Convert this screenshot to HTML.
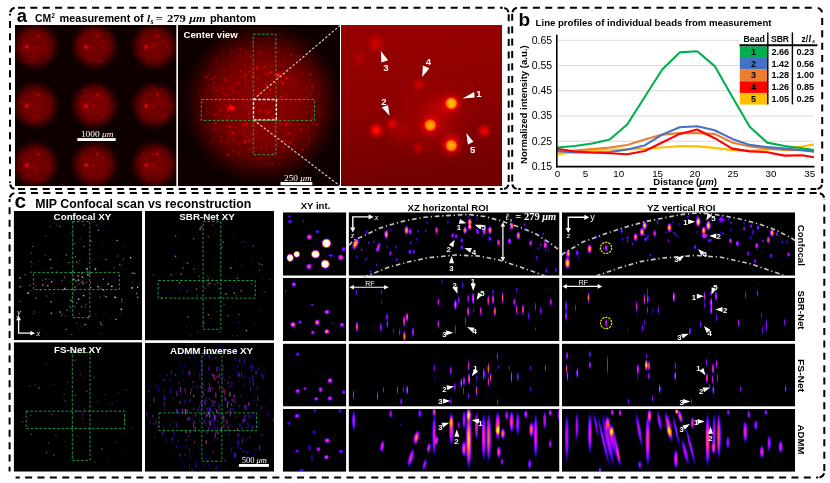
<!DOCTYPE html><html><head><meta charset="utf-8"><title>Figure</title>
<style>html,body{margin:0;padding:0;background:#fff;overflow:hidden;width:830px;height:483px;}svg{display:block;}</style></head><body>
<svg width="830" height="483" viewBox="0 0 830 483">
<defs>
<filter id="cmG" color-interpolation-filters="sRGB" x="0" y="0" width="1" height="1"><feComponentTransfer><feFuncR type="table" tableValues="0 0.01 0.02 0.02 0.03 0.06 0.08 0.11 0.13 0.16 0.21 0.26 0.31 0.36 0.41 0.46 0.51 0.55 0.6 0.65 0.69 0.73 0.76 0.8 0.84 0.87 0.89 0.91 0.94 0.96 0.97 0.98 0.98 0.99 1 1 1 1 1 1 1 1 1 1 1 1 1 1 1 1 1"/><feFuncG type="table" tableValues="0 0 0 0 0 0 0 0 0 0 0 0 0 0 0 0 0.01 0.01 0.02 0.02 0.03 0.04 0.05 0.07 0.08 0.1 0.12 0.14 0.16 0.18 0.22 0.26 0.31 0.35 0.39 0.44 0.49 0.55 0.6 0.65 0.7 0.75 0.8 0.84 0.89 0.92 0.94 0.97 0.98 0.99 1"/><feFuncB type="table" tableValues="0 0.05 0.1 0.15 0.2 0.28 0.37 0.45 0.54 0.63 0.69 0.75 0.82 0.88 0.94 0.94 0.94 0.94 0.94 0.94 0.91 0.89 0.86 0.83 0.8 0.74 0.67 0.6 0.54 0.47 0.41 0.35 0.29 0.24 0.18 0.16 0.14 0.12 0.1 0.08 0.09 0.09 0.1 0.11 0.12 0.25 0.39 0.52 0.67 0.84 1"/></feComponentTransfer></filter>
<filter id="cmH" color-interpolation-filters="sRGB" x="0" y="0" width="1" height="1"><feComponentTransfer><feFuncR type="table" tableValues="0 0.05 0.11 0.16 0.22 0.27 0.33 0.38 0.44 0.49 0.55 0.6 0.66 0.71 0.77 0.82 0.88 0.93 0.99 1 1 1 1 1 1 1 1 1 1 1 1 1 1 1 1 1 1 1 1 1 1 1 1 1 1 1 1 1 1 1 1"/><feFuncG type="table" tableValues="0 0 0 0 0 0 0 0 0 0 0 0 0 0 0 0 0 0 0 0.04 0.09 0.14 0.2 0.25 0.3 0.35 0.41 0.46 0.51 0.56 0.62 0.67 0.72 0.77 0.83 0.88 0.93 0.98 1 1 1 1 1 1 1 1 1 1 1 1 1"/><feFuncB type="table" tableValues="0 0 0 0 0 0 0 0 0 0 0 0 0 0 0 0 0 0 0 0 0 0 0 0 0 0 0 0 0 0 0 0 0 0 0 0 0 0 0.06 0.13 0.21 0.29 0.37 0.45 0.53 0.61 0.69 0.76 0.84 0.92 1"/></feComponentTransfer></filter>
<radialGradient id="gb"><stop offset="0" stop-color="#fff" stop-opacity="1"/><stop offset="0.2" stop-color="#fff" stop-opacity="0.95"/><stop offset="0.45" stop-color="#fff" stop-opacity="0.72"/><stop offset="0.7" stop-color="#fff" stop-opacity="0.36"/><stop offset="0.85" stop-color="#fff" stop-opacity="0.12"/><stop offset="1" stop-color="#fff" stop-opacity="0"/></radialGradient>
<radialGradient id="gd"><stop offset="0" stop-color="#fff" stop-opacity="1"/><stop offset="0.45" stop-color="#fff" stop-opacity="0.93"/><stop offset="0.65" stop-color="#fff" stop-opacity="0.72"/><stop offset="0.82" stop-color="#fff" stop-opacity="0.32"/><stop offset="1" stop-color="#fff" stop-opacity="0"/></radialGradient>
<radialGradient id="gbig"><stop offset="0" stop-color="#fff" stop-opacity="1"/><stop offset="0.45" stop-color="#fff" stop-opacity="0.9"/><stop offset="0.65" stop-color="#fff" stop-opacity="0.66"/><stop offset="0.8" stop-color="#fff" stop-opacity="0.36"/><stop offset="0.92" stop-color="#fff" stop-opacity="0.1"/><stop offset="1" stop-color="#fff" stop-opacity="0"/></radialGradient>
<linearGradient id="bgR" x1="0" y1="0" x2="0.15" y2="1"><stop offset="0" stop-color="#383838"/><stop offset="0.45" stop-color="#353535"/><stop offset="1" stop-color="#2a2a2a"/></linearGradient>
<radialGradient id="gf"><stop offset="0" stop-color="#fff" stop-opacity="1"/><stop offset="0.62" stop-color="#fff" stop-opacity="1"/><stop offset="0.76" stop-color="#fff" stop-opacity="0.62"/><stop offset="0.88" stop-color="#fff" stop-opacity="0.28"/><stop offset="1" stop-color="#fff" stop-opacity="0"/></radialGradient>
<radialGradient id="gs"><stop offset="0" stop-color="#fff" stop-opacity="1"/><stop offset="0.25" stop-color="#fff" stop-opacity="0.85"/><stop offset="0.5" stop-color="#fff" stop-opacity="0.45"/><stop offset="0.75" stop-color="#fff" stop-opacity="0.13"/><stop offset="1" stop-color="#fff" stop-opacity="0"/></radialGradient>
</defs>
<rect width="830" height="483" fill="#fff"/>
<line x1="16.00" y1="7.7" x2="502.70" y2="7.7" fill="none" stroke="#000" stroke-width="2" stroke-dasharray="7.0 5.36" stroke-dashoffset="10.36"/>
<line x1="16.00" y1="189.1" x2="502.70" y2="189.1" fill="none" stroke="#000" stroke-width="2" stroke-dasharray="7.0 5.36" stroke-dashoffset="10.42"/>
<line x1="10" y1="13.70" x2="10" y2="183.10" fill="none" stroke="#000" stroke-width="2" stroke-dasharray="7.0 5.36" stroke-dashoffset="5.16"/>
<line x1="508.7" y1="13.70" x2="508.7" y2="183.10" fill="none" stroke="#000" stroke-width="2" stroke-dasharray="7.0 5.36" stroke-dashoffset="11.76"/>
<path d="M10,13.7 A6,6 0 0 1 16,7.7" fill="none" stroke="#000" stroke-width="2" stroke-dasharray="0 1.6 6.2 20"/>
<path d="M502.7,7.7 A6,6 0 0 1 508.7,13.7" fill="none" stroke="#000" stroke-width="2" stroke-dasharray="0 1.6 6.2 20"/>
<path d="M508.7,183.1 A6,6 0 0 1 502.7,189.1" fill="none" stroke="#000" stroke-width="2" stroke-dasharray="0 1.6 6.2 20"/>
<path d="M16,189.1 A6,6 0 0 1 10,183.1" fill="none" stroke="#000" stroke-width="2" stroke-dasharray="0 1.6 6.2 20"/>
<line x1="518.20" y1="7.7" x2="816.20" y2="7.7" fill="none" stroke="#000" stroke-width="2" stroke-dasharray="7.0 5.36" stroke-dashoffset="10.06"/>
<line x1="518.20" y1="189.1" x2="816.20" y2="189.1" fill="none" stroke="#000" stroke-width="2" stroke-dasharray="7.0 5.36" stroke-dashoffset="4.38"/>
<line x1="512.2" y1="13.70" x2="512.2" y2="183.10" fill="none" stroke="#000" stroke-width="2" stroke-dasharray="7.0 5.36" stroke-dashoffset="12.22"/>
<line x1="822.2" y1="13.70" x2="822.2" y2="183.10" fill="none" stroke="#000" stroke-width="2" stroke-dasharray="7.0 5.36" stroke-dashoffset="8.06"/>
<path d="M512.2,13.7 A6,6 0 0 1 518.2,7.7" fill="none" stroke="#000" stroke-width="2" stroke-dasharray="0 1.6 6.2 20"/>
<path d="M816.2,7.7 A6,6 0 0 1 822.2,13.7" fill="none" stroke="#000" stroke-width="2" stroke-dasharray="0 1.6 6.2 20"/>
<path d="M822.2,183.1 A6,6 0 0 1 816.2,189.1" fill="none" stroke="#000" stroke-width="2" stroke-dasharray="0 1.6 6.2 20"/>
<path d="M518.2,189.1 A6,6 0 0 1 512.2,183.1" fill="none" stroke="#000" stroke-width="2" stroke-dasharray="0 1.6 6.2 20"/>
<line x1="15.60" y1="193.0" x2="818.30" y2="193.0" fill="none" stroke="#000" stroke-width="2" stroke-dasharray="7.0 5.36" stroke-dashoffset="9.32"/>
<line x1="15.60" y1="477.6" x2="818.30" y2="477.6" fill="none" stroke="#000" stroke-width="2" stroke-dasharray="7.0 5.36" stroke-dashoffset="2.82"/>
<line x1="9.6" y1="199.00" x2="9.6" y2="471.60" fill="none" stroke="#000" stroke-width="2" stroke-dasharray="7.0 5.36" stroke-dashoffset="4.06"/>
<line x1="824.3" y1="199.00" x2="824.3" y2="471.60" fill="none" stroke="#000" stroke-width="2" stroke-dasharray="7.0 5.36" stroke-dashoffset="6.86"/>
<path d="M9.6,199.0 A6,6 0 0 1 15.6,193.0" fill="none" stroke="#000" stroke-width="2" stroke-dasharray="0 1.6 6.2 20"/>
<path d="M818.3,193.0 A6,6 0 0 1 824.3,199.0" fill="none" stroke="#000" stroke-width="2" stroke-dasharray="0 1.6 6.2 20"/>
<path d="M824.3,471.6 A6,6 0 0 1 818.3,477.6" fill="none" stroke="#000" stroke-width="2" stroke-dasharray="0 1.6 6.2 20"/>
<clipPath id="cpa1"><rect x="15" y="25" width="161.6" height="161.2"/></clipPath>
<g clip-path="url(#cpa1)"><g filter="url(#cmH)">
<rect x="15" y="25" width="161.6" height="161.2" fill="#060606"/>
<ellipse cx="35.3" cy="46.3" rx="25" ry="25" fill="url(#gd)" fill-opacity="0.15"/>
<ellipse cx="94.6" cy="46.3" rx="25" ry="25" fill="url(#gd)" fill-opacity="0.15"/>
<ellipse cx="154.6" cy="46.3" rx="25" ry="25" fill="url(#gd)" fill-opacity="0.15"/>
<ellipse cx="35.3" cy="105.4" rx="25" ry="25" fill="url(#gd)" fill-opacity="0.15"/>
<ellipse cx="94.6" cy="105.4" rx="25" ry="25" fill="url(#gd)" fill-opacity="0.16"/>
<ellipse cx="154.6" cy="105.4" rx="25" ry="25" fill="url(#gd)" fill-opacity="0.15"/>
<ellipse cx="35.3" cy="164.6" rx="25" ry="25" fill="url(#gd)" fill-opacity="0.15"/>
<ellipse cx="94.6" cy="164.6" rx="25" ry="25" fill="url(#gd)" fill-opacity="0.15"/>
<ellipse cx="154.6" cy="164.6" rx="25" ry="25" fill="url(#gd)" fill-opacity="0.15"/>
<ellipse cx="23.41" cy="41.61" rx="2" ry="2" fill="url(#gs)" fill-opacity="0.05"/>
<ellipse cx="22.35" cy="45.66" rx="2" ry="2" fill="url(#gs)" fill-opacity="0.04"/>
<ellipse cx="27.16" cy="45.69" rx="2" ry="2" fill="url(#gs)" fill-opacity="0.04"/>
<ellipse cx="49.35" cy="55.73" rx="2" ry="2" fill="url(#gs)" fill-opacity="0.03"/>
<ellipse cx="37.39" cy="40.98" rx="2" ry="2" fill="url(#gs)" fill-opacity="0.04"/>
<ellipse cx="39.16" cy="45.87" rx="2" ry="2" fill="url(#gs)" fill-opacity="0.05"/>
<ellipse cx="23.81" cy="36.1" rx="2" ry="2" fill="url(#gs)" fill-opacity="0.02"/>
<ellipse cx="33.01" cy="45.89" rx="2" ry="2" fill="url(#gs)" fill-opacity="0.02"/>
<ellipse cx="35.72" cy="54.58" rx="2" ry="2" fill="url(#gs)" fill-opacity="0.02"/>
<ellipse cx="23.25" cy="51.02" rx="2" ry="2" fill="url(#gs)" fill-opacity="0.05"/>
<ellipse cx="26.59" cy="35.74" rx="2" ry="2" fill="url(#gs)" fill-opacity="0.03"/>
<ellipse cx="20.39" cy="50.4" rx="2" ry="2" fill="url(#gs)" fill-opacity="0.03"/>
<ellipse cx="54.27" cy="45.78" rx="2" ry="2" fill="url(#gs)" fill-opacity="0.05"/>
<ellipse cx="28.93" cy="60.96" rx="2" ry="2" fill="url(#gs)" fill-opacity="0.02"/>
<ellipse cx="44.54" cy="50.66" rx="2" ry="2" fill="url(#gs)" fill-opacity="0.05"/>
<ellipse cx="42.15" cy="36.42" rx="2" ry="2" fill="url(#gs)" fill-opacity="0.03"/>
<ellipse cx="45.97" cy="31.07" rx="2" ry="2" fill="url(#gs)" fill-opacity="0.02"/>
<ellipse cx="42.65" cy="41.65" rx="2" ry="2" fill="url(#gs)" fill-opacity="0.03"/>
<ellipse cx="20.26" cy="57.6" rx="2" ry="2" fill="url(#gs)" fill-opacity="0.02"/>
<ellipse cx="37.98" cy="31.47" rx="2" ry="2" fill="url(#gs)" fill-opacity="0.03"/>
<ellipse cx="32.52" cy="51.17" rx="2" ry="2" fill="url(#gs)" fill-opacity="0.05"/>
<ellipse cx="47.5" cy="57.47" rx="2" ry="2" fill="url(#gs)" fill-opacity="0.02"/>
<ellipse cx="40.92" cy="48.52" rx="2" ry="2" fill="url(#gs)" fill-opacity="0.05"/>
<ellipse cx="27.84" cy="43.39" rx="2" ry="2" fill="url(#gs)" fill-opacity="0.03"/>
<ellipse cx="34.36" cy="38.06" rx="2" ry="2" fill="url(#gs)" fill-opacity="0.02"/>
<ellipse cx="46.64" cy="56.49" rx="2" ry="2" fill="url(#gs)" fill-opacity="0.03"/>
<ellipse cx="34.21" cy="55" rx="2" ry="2" fill="url(#gs)" fill-opacity="0.05"/>
<ellipse cx="29.62" cy="62.35" rx="2" ry="2" fill="url(#gs)" fill-opacity="0.05"/>
<ellipse cx="28.43" cy="51.68" rx="2" ry="2" fill="url(#gs)" fill-opacity="0.05"/>
<ellipse cx="47.6" cy="55.27" rx="2" ry="2" fill="url(#gs)" fill-opacity="0.05"/>
<ellipse cx="34.84" cy="55.06" rx="2" ry="2" fill="url(#gs)" fill-opacity="0.05"/>
<ellipse cx="32.17" cy="56.74" rx="2" ry="2" fill="url(#gs)" fill-opacity="0.02"/>
<ellipse cx="30.35" cy="43.47" rx="2" ry="2" fill="url(#gs)" fill-opacity="0.02"/>
<ellipse cx="25.1" cy="56.93" rx="2" ry="2" fill="url(#gs)" fill-opacity="0.03"/>
<ellipse cx="16.79" cy="48.2" rx="2" ry="2" fill="url(#gs)" fill-opacity="0.04"/>
<ellipse cx="42.55" cy="62.43" rx="2" ry="2" fill="url(#gs)" fill-opacity="0.02"/>
<ellipse cx="42.78" cy="29.81" rx="2" ry="2" fill="url(#gs)" fill-opacity="0.02"/>
<ellipse cx="34.75" cy="38.04" rx="2" ry="2" fill="url(#gs)" fill-opacity="0.05"/>
<ellipse cx="43.31" cy="43.7" rx="2" ry="2" fill="url(#gs)" fill-opacity="0.05"/>
<ellipse cx="22.3" cy="53.29" rx="2" ry="2" fill="url(#gs)" fill-opacity="0.02"/>
<ellipse cx="38.94" cy="45.43" rx="2" ry="2" fill="url(#gs)" fill-opacity="0.02"/>
<ellipse cx="34.6" cy="62.23" rx="2" ry="2" fill="url(#gs)" fill-opacity="0.05"/>
<ellipse cx="31.35" cy="60.43" rx="2" ry="2" fill="url(#gs)" fill-opacity="0.02"/>
<ellipse cx="49.94" cy="53.05" rx="2" ry="2" fill="url(#gs)" fill-opacity="0.02"/>
<ellipse cx="43.82" cy="34.93" rx="2" ry="2" fill="url(#gs)" fill-opacity="0.04"/>
<ellipse cx="44.03" cy="41.31" rx="2" ry="2" fill="url(#gs)" fill-opacity="0.02"/>
<ellipse cx="35.01" cy="48.73" rx="2" ry="2" fill="url(#gs)" fill-opacity="0.03"/>
<ellipse cx="37.39" cy="50.48" rx="2" ry="2" fill="url(#gs)" fill-opacity="0.03"/>
<ellipse cx="45.03" cy="56.87" rx="2" ry="2" fill="url(#gs)" fill-opacity="0.03"/>
<ellipse cx="53.1" cy="44.1" rx="2" ry="2" fill="url(#gs)" fill-opacity="0.04"/>
<ellipse cx="21.67" cy="38.31" rx="2" ry="2" fill="url(#gs)" fill-opacity="0.02"/>
<ellipse cx="38.84" cy="46.7" rx="2" ry="2" fill="url(#gs)" fill-opacity="0.05"/>
<ellipse cx="50.77" cy="42.61" rx="2" ry="2" fill="url(#gs)" fill-opacity="0.02"/>
<ellipse cx="20.24" cy="47.99" rx="2" ry="2" fill="url(#gs)" fill-opacity="0.04"/>
<ellipse cx="46.03" cy="46.25" rx="2" ry="2" fill="url(#gs)" fill-opacity="0.02"/>
<ellipse cx="34.15" cy="32.31" rx="2" ry="2" fill="url(#gs)" fill-opacity="0.05"/>
<ellipse cx="30.62" cy="30.67" rx="2" ry="2" fill="url(#gs)" fill-opacity="0.05"/>
<ellipse cx="24.45" cy="60.88" rx="2" ry="2" fill="url(#gs)" fill-opacity="0.04"/>
<ellipse cx="47.73" cy="33.24" rx="2" ry="2" fill="url(#gs)" fill-opacity="0.03"/>
<ellipse cx="46.35" cy="33.52" rx="2" ry="2" fill="url(#gs)" fill-opacity="0.04"/>
<ellipse cx="26.8" cy="46.8" rx="3.6" ry="3.2" fill="url(#gs)" fill-opacity="0.24"/>
<ellipse cx="38.3" cy="35.8" rx="2.6" ry="2.6" fill="url(#gs)" fill-opacity="0.16"/>
<ellipse cx="34.3" cy="47.3" rx="2.4" ry="2.4" fill="url(#gs)" fill-opacity="0.08"/>
<ellipse cx="83.5" cy="56.42" rx="2" ry="2" fill="url(#gs)" fill-opacity="0.04"/>
<ellipse cx="107.58" cy="53.46" rx="2" ry="2" fill="url(#gs)" fill-opacity="0.04"/>
<ellipse cx="108.38" cy="33.32" rx="2" ry="2" fill="url(#gs)" fill-opacity="0.04"/>
<ellipse cx="93.49" cy="34.51" rx="2" ry="2" fill="url(#gs)" fill-opacity="0.04"/>
<ellipse cx="101.25" cy="35.58" rx="2" ry="2" fill="url(#gs)" fill-opacity="0.02"/>
<ellipse cx="110.77" cy="49.36" rx="2" ry="2" fill="url(#gs)" fill-opacity="0.04"/>
<ellipse cx="96.23" cy="59.38" rx="2" ry="2" fill="url(#gs)" fill-opacity="0.04"/>
<ellipse cx="84.52" cy="37.47" rx="2" ry="2" fill="url(#gs)" fill-opacity="0.05"/>
<ellipse cx="104.19" cy="46.98" rx="2" ry="2" fill="url(#gs)" fill-opacity="0.03"/>
<ellipse cx="99.19" cy="61.26" rx="2" ry="2" fill="url(#gs)" fill-opacity="0.02"/>
<ellipse cx="84.91" cy="31.03" rx="2" ry="2" fill="url(#gs)" fill-opacity="0.03"/>
<ellipse cx="86.26" cy="62.19" rx="2" ry="2" fill="url(#gs)" fill-opacity="0.04"/>
<ellipse cx="86.92" cy="49.86" rx="2" ry="2" fill="url(#gs)" fill-opacity="0.05"/>
<ellipse cx="107.86" cy="33.88" rx="2" ry="2" fill="url(#gs)" fill-opacity="0.03"/>
<ellipse cx="88.71" cy="59.56" rx="2" ry="2" fill="url(#gs)" fill-opacity="0.02"/>
<ellipse cx="101.56" cy="34.87" rx="2" ry="2" fill="url(#gs)" fill-opacity="0.05"/>
<ellipse cx="109.84" cy="41.35" rx="2" ry="2" fill="url(#gs)" fill-opacity="0.03"/>
<ellipse cx="87.16" cy="48.68" rx="2" ry="2" fill="url(#gs)" fill-opacity="0.03"/>
<ellipse cx="87.06" cy="50.82" rx="2" ry="2" fill="url(#gs)" fill-opacity="0.04"/>
<ellipse cx="89.27" cy="58.54" rx="2" ry="2" fill="url(#gs)" fill-opacity="0.05"/>
<ellipse cx="76.61" cy="51.84" rx="2" ry="2" fill="url(#gs)" fill-opacity="0.02"/>
<ellipse cx="96.95" cy="43.88" rx="2" ry="2" fill="url(#gs)" fill-opacity="0.02"/>
<ellipse cx="80.15" cy="39.44" rx="2" ry="2" fill="url(#gs)" fill-opacity="0.03"/>
<ellipse cx="111.38" cy="48.33" rx="2" ry="2" fill="url(#gs)" fill-opacity="0.02"/>
<ellipse cx="107.26" cy="48.28" rx="2" ry="2" fill="url(#gs)" fill-opacity="0.05"/>
<ellipse cx="100.46" cy="53.47" rx="2" ry="2" fill="url(#gs)" fill-opacity="0.02"/>
<ellipse cx="80.37" cy="51.27" rx="2" ry="2" fill="url(#gs)" fill-opacity="0.04"/>
<ellipse cx="100.02" cy="31.91" rx="2" ry="2" fill="url(#gs)" fill-opacity="0.05"/>
<ellipse cx="99.52" cy="61.23" rx="2" ry="2" fill="url(#gs)" fill-opacity="0.03"/>
<ellipse cx="102.61" cy="46.84" rx="2" ry="2" fill="url(#gs)" fill-opacity="0.03"/>
<ellipse cx="101.52" cy="60.79" rx="2" ry="2" fill="url(#gs)" fill-opacity="0.03"/>
<ellipse cx="90.97" cy="35.74" rx="2" ry="2" fill="url(#gs)" fill-opacity="0.04"/>
<ellipse cx="95.18" cy="31.42" rx="2" ry="2" fill="url(#gs)" fill-opacity="0.03"/>
<ellipse cx="108.66" cy="36.9" rx="2" ry="2" fill="url(#gs)" fill-opacity="0.02"/>
<ellipse cx="91.43" cy="28.23" rx="2" ry="2" fill="url(#gs)" fill-opacity="0.02"/>
<ellipse cx="85.58" cy="37.22" rx="2" ry="2" fill="url(#gs)" fill-opacity="0.05"/>
<ellipse cx="84.01" cy="41.41" rx="2" ry="2" fill="url(#gs)" fill-opacity="0.05"/>
<ellipse cx="110.53" cy="40.48" rx="2" ry="2" fill="url(#gs)" fill-opacity="0.03"/>
<ellipse cx="98.89" cy="61.02" rx="2" ry="2" fill="url(#gs)" fill-opacity="0.04"/>
<ellipse cx="83.78" cy="32.95" rx="2" ry="2" fill="url(#gs)" fill-opacity="0.04"/>
<ellipse cx="101.7" cy="41.14" rx="2" ry="2" fill="url(#gs)" fill-opacity="0.05"/>
<ellipse cx="76.32" cy="41.98" rx="2" ry="2" fill="url(#gs)" fill-opacity="0.05"/>
<ellipse cx="103.68" cy="40.54" rx="2" ry="2" fill="url(#gs)" fill-opacity="0.05"/>
<ellipse cx="104.33" cy="51.87" rx="2" ry="2" fill="url(#gs)" fill-opacity="0.03"/>
<ellipse cx="96.21" cy="32.3" rx="2" ry="2" fill="url(#gs)" fill-opacity="0.03"/>
<ellipse cx="95.76" cy="43.32" rx="2" ry="2" fill="url(#gs)" fill-opacity="0.02"/>
<ellipse cx="102.51" cy="61.34" rx="2" ry="2" fill="url(#gs)" fill-opacity="0.03"/>
<ellipse cx="105.31" cy="59.33" rx="2" ry="2" fill="url(#gs)" fill-opacity="0.02"/>
<ellipse cx="92.34" cy="32.83" rx="2" ry="2" fill="url(#gs)" fill-opacity="0.05"/>
<ellipse cx="109.47" cy="41.02" rx="2" ry="2" fill="url(#gs)" fill-opacity="0.03"/>
<ellipse cx="110.47" cy="55.82" rx="2" ry="2" fill="url(#gs)" fill-opacity="0.02"/>
<ellipse cx="91.16" cy="59.65" rx="2" ry="2" fill="url(#gs)" fill-opacity="0.04"/>
<ellipse cx="79.57" cy="44.13" rx="2" ry="2" fill="url(#gs)" fill-opacity="0.05"/>
<ellipse cx="89.23" cy="59.46" rx="2" ry="2" fill="url(#gs)" fill-opacity="0.03"/>
<ellipse cx="108.76" cy="36.08" rx="2" ry="2" fill="url(#gs)" fill-opacity="0.02"/>
<ellipse cx="111.78" cy="42.84" rx="2" ry="2" fill="url(#gs)" fill-opacity="0.04"/>
<ellipse cx="98.96" cy="60" rx="2" ry="2" fill="url(#gs)" fill-opacity="0.04"/>
<ellipse cx="83.96" cy="38.03" rx="2" ry="2" fill="url(#gs)" fill-opacity="0.02"/>
<ellipse cx="75.99" cy="44.42" rx="2" ry="2" fill="url(#gs)" fill-opacity="0.03"/>
<ellipse cx="78.9" cy="39.76" rx="2" ry="2" fill="url(#gs)" fill-opacity="0.03"/>
<ellipse cx="86.1" cy="46.8" rx="3.6" ry="3.2" fill="url(#gs)" fill-opacity="0.24"/>
<ellipse cx="97.6" cy="35.8" rx="2.6" ry="2.6" fill="url(#gs)" fill-opacity="0.16"/>
<ellipse cx="93.6" cy="47.3" rx="2.4" ry="2.4" fill="url(#gs)" fill-opacity="0.08"/>
<ellipse cx="169.06" cy="52.65" rx="2" ry="2" fill="url(#gs)" fill-opacity="0.04"/>
<ellipse cx="166.38" cy="43.03" rx="2" ry="2" fill="url(#gs)" fill-opacity="0.05"/>
<ellipse cx="144.88" cy="47.96" rx="2" ry="2" fill="url(#gs)" fill-opacity="0.02"/>
<ellipse cx="159.62" cy="34.84" rx="2" ry="2" fill="url(#gs)" fill-opacity="0.05"/>
<ellipse cx="149.22" cy="58.26" rx="2" ry="2" fill="url(#gs)" fill-opacity="0.02"/>
<ellipse cx="167.92" cy="39.54" rx="2" ry="2" fill="url(#gs)" fill-opacity="0.02"/>
<ellipse cx="171.2" cy="48.69" rx="2" ry="2" fill="url(#gs)" fill-opacity="0.02"/>
<ellipse cx="151.11" cy="37.94" rx="2" ry="2" fill="url(#gs)" fill-opacity="0.03"/>
<ellipse cx="146.33" cy="38.56" rx="2" ry="2" fill="url(#gs)" fill-opacity="0.02"/>
<ellipse cx="166.25" cy="57.62" rx="2" ry="2" fill="url(#gs)" fill-opacity="0.04"/>
<ellipse cx="157.67" cy="55.3" rx="2" ry="2" fill="url(#gs)" fill-opacity="0.04"/>
<ellipse cx="145.68" cy="55.14" rx="2" ry="2" fill="url(#gs)" fill-opacity="0.03"/>
<ellipse cx="162.03" cy="57.96" rx="2" ry="2" fill="url(#gs)" fill-opacity="0.02"/>
<ellipse cx="144.86" cy="34.76" rx="2" ry="2" fill="url(#gs)" fill-opacity="0.04"/>
<ellipse cx="141.21" cy="34.98" rx="2" ry="2" fill="url(#gs)" fill-opacity="0.05"/>
<ellipse cx="154.07" cy="37.15" rx="2" ry="2" fill="url(#gs)" fill-opacity="0.05"/>
<ellipse cx="147.34" cy="62.83" rx="2" ry="2" fill="url(#gs)" fill-opacity="0.03"/>
<ellipse cx="158.23" cy="64.19" rx="2" ry="2" fill="url(#gs)" fill-opacity="0.05"/>
<ellipse cx="166.53" cy="59.65" rx="2" ry="2" fill="url(#gs)" fill-opacity="0.02"/>
<ellipse cx="153.63" cy="62.47" rx="2" ry="2" fill="url(#gs)" fill-opacity="0.02"/>
<ellipse cx="139.33" cy="54.5" rx="2" ry="2" fill="url(#gs)" fill-opacity="0.05"/>
<ellipse cx="149.08" cy="50.17" rx="2" ry="2" fill="url(#gs)" fill-opacity="0.04"/>
<ellipse cx="155.37" cy="48.71" rx="2" ry="2" fill="url(#gs)" fill-opacity="0.04"/>
<ellipse cx="172.38" cy="42.72" rx="2" ry="2" fill="url(#gs)" fill-opacity="0.02"/>
<ellipse cx="155.29" cy="32.81" rx="2" ry="2" fill="url(#gs)" fill-opacity="0.04"/>
<ellipse cx="160.48" cy="60.89" rx="2" ry="2" fill="url(#gs)" fill-opacity="0.02"/>
<ellipse cx="160.62" cy="47.74" rx="2" ry="2" fill="url(#gs)" fill-opacity="0.04"/>
<ellipse cx="142.22" cy="40.59" rx="2" ry="2" fill="url(#gs)" fill-opacity="0.02"/>
<ellipse cx="156.93" cy="54.12" rx="2" ry="2" fill="url(#gs)" fill-opacity="0.05"/>
<ellipse cx="171.55" cy="37.91" rx="2" ry="2" fill="url(#gs)" fill-opacity="0.02"/>
<ellipse cx="159.11" cy="44.88" rx="2" ry="2" fill="url(#gs)" fill-opacity="0.03"/>
<ellipse cx="146.89" cy="61.02" rx="2" ry="2" fill="url(#gs)" fill-opacity="0.03"/>
<ellipse cx="142.26" cy="52.1" rx="2" ry="2" fill="url(#gs)" fill-opacity="0.04"/>
<ellipse cx="153.94" cy="44.22" rx="2" ry="2" fill="url(#gs)" fill-opacity="0.05"/>
<ellipse cx="146.85" cy="48.61" rx="2" ry="2" fill="url(#gs)" fill-opacity="0.04"/>
<ellipse cx="158.69" cy="57.68" rx="2" ry="2" fill="url(#gs)" fill-opacity="0.02"/>
<ellipse cx="168.14" cy="47.62" rx="2" ry="2" fill="url(#gs)" fill-opacity="0.05"/>
<ellipse cx="149.82" cy="29.97" rx="2" ry="2" fill="url(#gs)" fill-opacity="0.05"/>
<ellipse cx="142.16" cy="54.81" rx="2" ry="2" fill="url(#gs)" fill-opacity="0.04"/>
<ellipse cx="168.01" cy="44.83" rx="2" ry="2" fill="url(#gs)" fill-opacity="0.05"/>
<ellipse cx="162.79" cy="41.19" rx="2" ry="2" fill="url(#gs)" fill-opacity="0.04"/>
<ellipse cx="161.22" cy="30.9" rx="2" ry="2" fill="url(#gs)" fill-opacity="0.03"/>
<ellipse cx="167.7" cy="33.97" rx="2" ry="2" fill="url(#gs)" fill-opacity="0.04"/>
<ellipse cx="156.19" cy="29.73" rx="2" ry="2" fill="url(#gs)" fill-opacity="0.03"/>
<ellipse cx="169.19" cy="53.23" rx="2" ry="2" fill="url(#gs)" fill-opacity="0.03"/>
<ellipse cx="167.58" cy="47.17" rx="2" ry="2" fill="url(#gs)" fill-opacity="0.03"/>
<ellipse cx="143.8" cy="35.63" rx="2" ry="2" fill="url(#gs)" fill-opacity="0.02"/>
<ellipse cx="145.31" cy="30.34" rx="2" ry="2" fill="url(#gs)" fill-opacity="0.03"/>
<ellipse cx="140.62" cy="39.77" rx="2" ry="2" fill="url(#gs)" fill-opacity="0.04"/>
<ellipse cx="166.46" cy="46.29" rx="2" ry="2" fill="url(#gs)" fill-opacity="0.04"/>
<ellipse cx="155.77" cy="30.43" rx="2" ry="2" fill="url(#gs)" fill-opacity="0.05"/>
<ellipse cx="152.45" cy="44.4" rx="2" ry="2" fill="url(#gs)" fill-opacity="0.04"/>
<ellipse cx="146.76" cy="51.88" rx="2" ry="2" fill="url(#gs)" fill-opacity="0.02"/>
<ellipse cx="148.64" cy="52.21" rx="2" ry="2" fill="url(#gs)" fill-opacity="0.02"/>
<ellipse cx="162.49" cy="40.98" rx="2" ry="2" fill="url(#gs)" fill-opacity="0.04"/>
<ellipse cx="167.85" cy="43.52" rx="2" ry="2" fill="url(#gs)" fill-opacity="0.04"/>
<ellipse cx="142.34" cy="31.85" rx="2" ry="2" fill="url(#gs)" fill-opacity="0.05"/>
<ellipse cx="150.31" cy="43.28" rx="2" ry="2" fill="url(#gs)" fill-opacity="0.05"/>
<ellipse cx="158.25" cy="44.58" rx="2" ry="2" fill="url(#gs)" fill-opacity="0.02"/>
<ellipse cx="160.95" cy="57.7" rx="2" ry="2" fill="url(#gs)" fill-opacity="0.03"/>
<ellipse cx="146.1" cy="46.8" rx="3.6" ry="3.2" fill="url(#gs)" fill-opacity="0.24"/>
<ellipse cx="157.6" cy="35.8" rx="2.6" ry="2.6" fill="url(#gs)" fill-opacity="0.16"/>
<ellipse cx="153.6" cy="47.3" rx="2.4" ry="2.4" fill="url(#gs)" fill-opacity="0.08"/>
<ellipse cx="49.16" cy="110.74" rx="2" ry="2" fill="url(#gs)" fill-opacity="0.05"/>
<ellipse cx="23.15" cy="103.34" rx="2" ry="2" fill="url(#gs)" fill-opacity="0.04"/>
<ellipse cx="32.74" cy="116.6" rx="2" ry="2" fill="url(#gs)" fill-opacity="0.04"/>
<ellipse cx="32.33" cy="119.31" rx="2" ry="2" fill="url(#gs)" fill-opacity="0.04"/>
<ellipse cx="45.6" cy="106.31" rx="2" ry="2" fill="url(#gs)" fill-opacity="0.02"/>
<ellipse cx="37.48" cy="108.67" rx="2" ry="2" fill="url(#gs)" fill-opacity="0.05"/>
<ellipse cx="44.79" cy="98.28" rx="2" ry="2" fill="url(#gs)" fill-opacity="0.04"/>
<ellipse cx="39.54" cy="105.1" rx="2" ry="2" fill="url(#gs)" fill-opacity="0.05"/>
<ellipse cx="39.57" cy="102.52" rx="2" ry="2" fill="url(#gs)" fill-opacity="0.03"/>
<ellipse cx="48.24" cy="103.19" rx="2" ry="2" fill="url(#gs)" fill-opacity="0.02"/>
<ellipse cx="47.99" cy="100.12" rx="2" ry="2" fill="url(#gs)" fill-opacity="0.04"/>
<ellipse cx="48.19" cy="103.67" rx="2" ry="2" fill="url(#gs)" fill-opacity="0.05"/>
<ellipse cx="46.37" cy="115.17" rx="2" ry="2" fill="url(#gs)" fill-opacity="0.04"/>
<ellipse cx="38.98" cy="117.69" rx="2" ry="2" fill="url(#gs)" fill-opacity="0.02"/>
<ellipse cx="45.1" cy="115.12" rx="2" ry="2" fill="url(#gs)" fill-opacity="0.03"/>
<ellipse cx="20.37" cy="109.68" rx="2" ry="2" fill="url(#gs)" fill-opacity="0.03"/>
<ellipse cx="22.62" cy="112.42" rx="2" ry="2" fill="url(#gs)" fill-opacity="0.05"/>
<ellipse cx="49.14" cy="105.19" rx="2" ry="2" fill="url(#gs)" fill-opacity="0.05"/>
<ellipse cx="36.49" cy="121.64" rx="2" ry="2" fill="url(#gs)" fill-opacity="0.02"/>
<ellipse cx="39.14" cy="87.86" rx="2" ry="2" fill="url(#gs)" fill-opacity="0.04"/>
<ellipse cx="33.77" cy="116.68" rx="2" ry="2" fill="url(#gs)" fill-opacity="0.04"/>
<ellipse cx="23.32" cy="97.62" rx="2" ry="2" fill="url(#gs)" fill-opacity="0.04"/>
<ellipse cx="41.39" cy="120.73" rx="2" ry="2" fill="url(#gs)" fill-opacity="0.02"/>
<ellipse cx="51.53" cy="95.9" rx="2" ry="2" fill="url(#gs)" fill-opacity="0.05"/>
<ellipse cx="38.8" cy="106.81" rx="2" ry="2" fill="url(#gs)" fill-opacity="0.03"/>
<ellipse cx="26.45" cy="96.73" rx="2" ry="2" fill="url(#gs)" fill-opacity="0.02"/>
<ellipse cx="47.86" cy="111.55" rx="2" ry="2" fill="url(#gs)" fill-opacity="0.02"/>
<ellipse cx="20.46" cy="100.51" rx="2" ry="2" fill="url(#gs)" fill-opacity="0.04"/>
<ellipse cx="23.8" cy="106.96" rx="2" ry="2" fill="url(#gs)" fill-opacity="0.02"/>
<ellipse cx="34.94" cy="94.27" rx="2" ry="2" fill="url(#gs)" fill-opacity="0.05"/>
<ellipse cx="39.08" cy="108.94" rx="2" ry="2" fill="url(#gs)" fill-opacity="0.05"/>
<ellipse cx="37.06" cy="90.5" rx="2" ry="2" fill="url(#gs)" fill-opacity="0.02"/>
<ellipse cx="34.67" cy="117.76" rx="2" ry="2" fill="url(#gs)" fill-opacity="0.05"/>
<ellipse cx="28.73" cy="95.91" rx="2" ry="2" fill="url(#gs)" fill-opacity="0.05"/>
<ellipse cx="24.96" cy="102.14" rx="2" ry="2" fill="url(#gs)" fill-opacity="0.04"/>
<ellipse cx="18.92" cy="113.41" rx="2" ry="2" fill="url(#gs)" fill-opacity="0.03"/>
<ellipse cx="39.49" cy="101.22" rx="2" ry="2" fill="url(#gs)" fill-opacity="0.02"/>
<ellipse cx="30.26" cy="103.25" rx="2" ry="2" fill="url(#gs)" fill-opacity="0.03"/>
<ellipse cx="30.55" cy="120.39" rx="2" ry="2" fill="url(#gs)" fill-opacity="0.05"/>
<ellipse cx="36.5" cy="110.5" rx="2" ry="2" fill="url(#gs)" fill-opacity="0.04"/>
<ellipse cx="33.5" cy="110.52" rx="2" ry="2" fill="url(#gs)" fill-opacity="0.04"/>
<ellipse cx="32.05" cy="120.89" rx="2" ry="2" fill="url(#gs)" fill-opacity="0.02"/>
<ellipse cx="33.59" cy="94.16" rx="2" ry="2" fill="url(#gs)" fill-opacity="0.03"/>
<ellipse cx="33.65" cy="99.1" rx="2" ry="2" fill="url(#gs)" fill-opacity="0.04"/>
<ellipse cx="52.23" cy="98.69" rx="2" ry="2" fill="url(#gs)" fill-opacity="0.05"/>
<ellipse cx="39.41" cy="93.52" rx="2" ry="2" fill="url(#gs)" fill-opacity="0.03"/>
<ellipse cx="26.65" cy="111.72" rx="2" ry="2" fill="url(#gs)" fill-opacity="0.05"/>
<ellipse cx="35.49" cy="123.37" rx="2" ry="2" fill="url(#gs)" fill-opacity="0.03"/>
<ellipse cx="27.8" cy="114.1" rx="2" ry="2" fill="url(#gs)" fill-opacity="0.03"/>
<ellipse cx="39.31" cy="116.53" rx="2" ry="2" fill="url(#gs)" fill-opacity="0.04"/>
<ellipse cx="18.88" cy="101.13" rx="2" ry="2" fill="url(#gs)" fill-opacity="0.05"/>
<ellipse cx="41.64" cy="118.16" rx="2" ry="2" fill="url(#gs)" fill-opacity="0.05"/>
<ellipse cx="31.8" cy="122.89" rx="2" ry="2" fill="url(#gs)" fill-opacity="0.02"/>
<ellipse cx="22.18" cy="101.66" rx="2" ry="2" fill="url(#gs)" fill-opacity="0.04"/>
<ellipse cx="24.43" cy="90.21" rx="2" ry="2" fill="url(#gs)" fill-opacity="0.05"/>
<ellipse cx="30.7" cy="104.01" rx="2" ry="2" fill="url(#gs)" fill-opacity="0.05"/>
<ellipse cx="40.1" cy="108.1" rx="2" ry="2" fill="url(#gs)" fill-opacity="0.04"/>
<ellipse cx="50.82" cy="114.54" rx="2" ry="2" fill="url(#gs)" fill-opacity="0.04"/>
<ellipse cx="35.11" cy="98.2" rx="2" ry="2" fill="url(#gs)" fill-opacity="0.04"/>
<ellipse cx="37.04" cy="114.65" rx="2" ry="2" fill="url(#gs)" fill-opacity="0.05"/>
<ellipse cx="26.8" cy="105.9" rx="3.6" ry="3.2" fill="url(#gs)" fill-opacity="0.24"/>
<ellipse cx="38.3" cy="94.9" rx="2.6" ry="2.6" fill="url(#gs)" fill-opacity="0.16"/>
<ellipse cx="34.3" cy="106.4" rx="2.4" ry="2.4" fill="url(#gs)" fill-opacity="0.08"/>
<ellipse cx="95.86" cy="91.74" rx="2" ry="2" fill="url(#gs)" fill-opacity="0.03"/>
<ellipse cx="105.42" cy="103.21" rx="2" ry="2" fill="url(#gs)" fill-opacity="0.04"/>
<ellipse cx="81.62" cy="102.3" rx="2" ry="2" fill="url(#gs)" fill-opacity="0.04"/>
<ellipse cx="108.36" cy="97.26" rx="2" ry="2" fill="url(#gs)" fill-opacity="0.03"/>
<ellipse cx="85.97" cy="90.44" rx="2" ry="2" fill="url(#gs)" fill-opacity="0.05"/>
<ellipse cx="103.17" cy="90.65" rx="2" ry="2" fill="url(#gs)" fill-opacity="0.05"/>
<ellipse cx="82.77" cy="91.05" rx="2" ry="2" fill="url(#gs)" fill-opacity="0.04"/>
<ellipse cx="99.76" cy="90.24" rx="2" ry="2" fill="url(#gs)" fill-opacity="0.03"/>
<ellipse cx="102.08" cy="115.19" rx="2" ry="2" fill="url(#gs)" fill-opacity="0.04"/>
<ellipse cx="81.18" cy="118.73" rx="2" ry="2" fill="url(#gs)" fill-opacity="0.02"/>
<ellipse cx="86.95" cy="109.3" rx="2" ry="2" fill="url(#gs)" fill-opacity="0.03"/>
<ellipse cx="112.03" cy="112.2" rx="2" ry="2" fill="url(#gs)" fill-opacity="0.03"/>
<ellipse cx="90.75" cy="100.24" rx="2" ry="2" fill="url(#gs)" fill-opacity="0.05"/>
<ellipse cx="102.04" cy="108.47" rx="2" ry="2" fill="url(#gs)" fill-opacity="0.03"/>
<ellipse cx="106.82" cy="97.56" rx="2" ry="2" fill="url(#gs)" fill-opacity="0.02"/>
<ellipse cx="97.1" cy="111.14" rx="2" ry="2" fill="url(#gs)" fill-opacity="0.02"/>
<ellipse cx="92.71" cy="96.38" rx="2" ry="2" fill="url(#gs)" fill-opacity="0.04"/>
<ellipse cx="98.17" cy="113.65" rx="2" ry="2" fill="url(#gs)" fill-opacity="0.03"/>
<ellipse cx="94.97" cy="97.52" rx="2" ry="2" fill="url(#gs)" fill-opacity="0.03"/>
<ellipse cx="100.36" cy="92.56" rx="2" ry="2" fill="url(#gs)" fill-opacity="0.03"/>
<ellipse cx="101.97" cy="99.1" rx="2" ry="2" fill="url(#gs)" fill-opacity="0.05"/>
<ellipse cx="83.98" cy="102.14" rx="2" ry="2" fill="url(#gs)" fill-opacity="0.05"/>
<ellipse cx="96.99" cy="118.38" rx="2" ry="2" fill="url(#gs)" fill-opacity="0.02"/>
<ellipse cx="100.47" cy="87.86" rx="2" ry="2" fill="url(#gs)" fill-opacity="0.03"/>
<ellipse cx="80.87" cy="104.03" rx="2" ry="2" fill="url(#gs)" fill-opacity="0.03"/>
<ellipse cx="84.22" cy="89.6" rx="2" ry="2" fill="url(#gs)" fill-opacity="0.02"/>
<ellipse cx="92.65" cy="105.74" rx="2" ry="2" fill="url(#gs)" fill-opacity="0.03"/>
<ellipse cx="90.72" cy="88.89" rx="2" ry="2" fill="url(#gs)" fill-opacity="0.04"/>
<ellipse cx="98.76" cy="111.68" rx="2" ry="2" fill="url(#gs)" fill-opacity="0.03"/>
<ellipse cx="101.19" cy="98.31" rx="2" ry="2" fill="url(#gs)" fill-opacity="0.04"/>
<ellipse cx="109.75" cy="104.74" rx="2" ry="2" fill="url(#gs)" fill-opacity="0.03"/>
<ellipse cx="102.72" cy="116.67" rx="2" ry="2" fill="url(#gs)" fill-opacity="0.05"/>
<ellipse cx="94.9" cy="104.77" rx="2" ry="2" fill="url(#gs)" fill-opacity="0.05"/>
<ellipse cx="109.57" cy="113.93" rx="2" ry="2" fill="url(#gs)" fill-opacity="0.03"/>
<ellipse cx="107.78" cy="114.62" rx="2" ry="2" fill="url(#gs)" fill-opacity="0.03"/>
<ellipse cx="107.1" cy="101.81" rx="2" ry="2" fill="url(#gs)" fill-opacity="0.04"/>
<ellipse cx="88.79" cy="122" rx="2" ry="2" fill="url(#gs)" fill-opacity="0.05"/>
<ellipse cx="105.23" cy="99.27" rx="2" ry="2" fill="url(#gs)" fill-opacity="0.02"/>
<ellipse cx="99.06" cy="122.08" rx="2" ry="2" fill="url(#gs)" fill-opacity="0.04"/>
<ellipse cx="102.16" cy="116.92" rx="2" ry="2" fill="url(#gs)" fill-opacity="0.05"/>
<ellipse cx="90.65" cy="115.24" rx="2" ry="2" fill="url(#gs)" fill-opacity="0.02"/>
<ellipse cx="84.32" cy="107.55" rx="2" ry="2" fill="url(#gs)" fill-opacity="0.04"/>
<ellipse cx="90.21" cy="94.88" rx="2" ry="2" fill="url(#gs)" fill-opacity="0.02"/>
<ellipse cx="83.01" cy="108.24" rx="2" ry="2" fill="url(#gs)" fill-opacity="0.05"/>
<ellipse cx="84.77" cy="91.15" rx="2" ry="2" fill="url(#gs)" fill-opacity="0.02"/>
<ellipse cx="91.7" cy="94.1" rx="2" ry="2" fill="url(#gs)" fill-opacity="0.02"/>
<ellipse cx="80.82" cy="109.12" rx="2" ry="2" fill="url(#gs)" fill-opacity="0.02"/>
<ellipse cx="100.38" cy="87.38" rx="2" ry="2" fill="url(#gs)" fill-opacity="0.02"/>
<ellipse cx="90.86" cy="119.84" rx="2" ry="2" fill="url(#gs)" fill-opacity="0.03"/>
<ellipse cx="90.44" cy="118.72" rx="2" ry="2" fill="url(#gs)" fill-opacity="0.03"/>
<ellipse cx="88.65" cy="95.1" rx="2" ry="2" fill="url(#gs)" fill-opacity="0.03"/>
<ellipse cx="93.61" cy="96.96" rx="2" ry="2" fill="url(#gs)" fill-opacity="0.03"/>
<ellipse cx="77.55" cy="98.3" rx="2" ry="2" fill="url(#gs)" fill-opacity="0.04"/>
<ellipse cx="99.68" cy="95.71" rx="2" ry="2" fill="url(#gs)" fill-opacity="0.02"/>
<ellipse cx="100.51" cy="109.39" rx="2" ry="2" fill="url(#gs)" fill-opacity="0.04"/>
<ellipse cx="101.42" cy="119.86" rx="2" ry="2" fill="url(#gs)" fill-opacity="0.03"/>
<ellipse cx="80.09" cy="95.84" rx="2" ry="2" fill="url(#gs)" fill-opacity="0.02"/>
<ellipse cx="99.59" cy="112.95" rx="2" ry="2" fill="url(#gs)" fill-opacity="0.02"/>
<ellipse cx="105.48" cy="110.74" rx="2" ry="2" fill="url(#gs)" fill-opacity="0.05"/>
<ellipse cx="82.22" cy="104.5" rx="2" ry="2" fill="url(#gs)" fill-opacity="0.04"/>
<ellipse cx="86.1" cy="105.9" rx="3.6" ry="3.2" fill="url(#gs)" fill-opacity="0.24"/>
<ellipse cx="97.6" cy="94.9" rx="2.6" ry="2.6" fill="url(#gs)" fill-opacity="0.16"/>
<ellipse cx="93.6" cy="106.4" rx="2.4" ry="2.4" fill="url(#gs)" fill-opacity="0.08"/>
<ellipse cx="161.79" cy="90.39" rx="2" ry="2" fill="url(#gs)" fill-opacity="0.03"/>
<ellipse cx="145.29" cy="111.14" rx="2" ry="2" fill="url(#gs)" fill-opacity="0.02"/>
<ellipse cx="150.87" cy="93.96" rx="2" ry="2" fill="url(#gs)" fill-opacity="0.05"/>
<ellipse cx="145.57" cy="91.13" rx="2" ry="2" fill="url(#gs)" fill-opacity="0.04"/>
<ellipse cx="153.34" cy="107.66" rx="2" ry="2" fill="url(#gs)" fill-opacity="0.03"/>
<ellipse cx="166.63" cy="114.89" rx="2" ry="2" fill="url(#gs)" fill-opacity="0.03"/>
<ellipse cx="157.85" cy="92.24" rx="2" ry="2" fill="url(#gs)" fill-opacity="0.05"/>
<ellipse cx="162.69" cy="117.86" rx="2" ry="2" fill="url(#gs)" fill-opacity="0.05"/>
<ellipse cx="137.37" cy="100.01" rx="2" ry="2" fill="url(#gs)" fill-opacity="0.03"/>
<ellipse cx="163.05" cy="115.85" rx="2" ry="2" fill="url(#gs)" fill-opacity="0.04"/>
<ellipse cx="135.82" cy="103.5" rx="2" ry="2" fill="url(#gs)" fill-opacity="0.04"/>
<ellipse cx="160.26" cy="121.82" rx="2" ry="2" fill="url(#gs)" fill-opacity="0.05"/>
<ellipse cx="159.44" cy="119.65" rx="2" ry="2" fill="url(#gs)" fill-opacity="0.02"/>
<ellipse cx="146.27" cy="101.06" rx="2" ry="2" fill="url(#gs)" fill-opacity="0.04"/>
<ellipse cx="164.44" cy="100.7" rx="2" ry="2" fill="url(#gs)" fill-opacity="0.03"/>
<ellipse cx="163.8" cy="114.49" rx="2" ry="2" fill="url(#gs)" fill-opacity="0.05"/>
<ellipse cx="160.36" cy="101.43" rx="2" ry="2" fill="url(#gs)" fill-opacity="0.04"/>
<ellipse cx="141.38" cy="100.13" rx="2" ry="2" fill="url(#gs)" fill-opacity="0.03"/>
<ellipse cx="172.7" cy="104.5" rx="2" ry="2" fill="url(#gs)" fill-opacity="0.05"/>
<ellipse cx="165.17" cy="115.66" rx="2" ry="2" fill="url(#gs)" fill-opacity="0.05"/>
<ellipse cx="162.74" cy="99.25" rx="2" ry="2" fill="url(#gs)" fill-opacity="0.02"/>
<ellipse cx="161.59" cy="92.82" rx="2" ry="2" fill="url(#gs)" fill-opacity="0.02"/>
<ellipse cx="167.08" cy="111.88" rx="2" ry="2" fill="url(#gs)" fill-opacity="0.02"/>
<ellipse cx="162.64" cy="104.74" rx="2" ry="2" fill="url(#gs)" fill-opacity="0.05"/>
<ellipse cx="149.14" cy="119.82" rx="2" ry="2" fill="url(#gs)" fill-opacity="0.04"/>
<ellipse cx="142.59" cy="116.45" rx="2" ry="2" fill="url(#gs)" fill-opacity="0.04"/>
<ellipse cx="171.54" cy="107.15" rx="2" ry="2" fill="url(#gs)" fill-opacity="0.02"/>
<ellipse cx="162.7" cy="115.57" rx="2" ry="2" fill="url(#gs)" fill-opacity="0.03"/>
<ellipse cx="161.22" cy="118.12" rx="2" ry="2" fill="url(#gs)" fill-opacity="0.04"/>
<ellipse cx="145.72" cy="101.36" rx="2" ry="2" fill="url(#gs)" fill-opacity="0.03"/>
<ellipse cx="169.39" cy="108.99" rx="2" ry="2" fill="url(#gs)" fill-opacity="0.04"/>
<ellipse cx="161.59" cy="103.57" rx="2" ry="2" fill="url(#gs)" fill-opacity="0.04"/>
<ellipse cx="143.54" cy="112.28" rx="2" ry="2" fill="url(#gs)" fill-opacity="0.04"/>
<ellipse cx="155.39" cy="89.65" rx="2" ry="2" fill="url(#gs)" fill-opacity="0.05"/>
<ellipse cx="167.84" cy="104.95" rx="2" ry="2" fill="url(#gs)" fill-opacity="0.05"/>
<ellipse cx="139.82" cy="114.91" rx="2" ry="2" fill="url(#gs)" fill-opacity="0.03"/>
<ellipse cx="166.43" cy="97.38" rx="2" ry="2" fill="url(#gs)" fill-opacity="0.04"/>
<ellipse cx="142.06" cy="111.09" rx="2" ry="2" fill="url(#gs)" fill-opacity="0.05"/>
<ellipse cx="164.73" cy="109.02" rx="2" ry="2" fill="url(#gs)" fill-opacity="0.04"/>
<ellipse cx="152.56" cy="87.49" rx="2" ry="2" fill="url(#gs)" fill-opacity="0.04"/>
<ellipse cx="149.04" cy="120.91" rx="2" ry="2" fill="url(#gs)" fill-opacity="0.04"/>
<ellipse cx="158.16" cy="108.94" rx="2" ry="2" fill="url(#gs)" fill-opacity="0.03"/>
<ellipse cx="143.87" cy="113.54" rx="2" ry="2" fill="url(#gs)" fill-opacity="0.02"/>
<ellipse cx="138.98" cy="102.8" rx="2" ry="2" fill="url(#gs)" fill-opacity="0.02"/>
<ellipse cx="146.27" cy="111.82" rx="2" ry="2" fill="url(#gs)" fill-opacity="0.02"/>
<ellipse cx="158.82" cy="102.77" rx="2" ry="2" fill="url(#gs)" fill-opacity="0.05"/>
<ellipse cx="164.96" cy="93.87" rx="2" ry="2" fill="url(#gs)" fill-opacity="0.03"/>
<ellipse cx="157.61" cy="122.18" rx="2" ry="2" fill="url(#gs)" fill-opacity="0.04"/>
<ellipse cx="166.35" cy="97.24" rx="2" ry="2" fill="url(#gs)" fill-opacity="0.02"/>
<ellipse cx="166.65" cy="117.27" rx="2" ry="2" fill="url(#gs)" fill-opacity="0.04"/>
<ellipse cx="173.13" cy="105.47" rx="2" ry="2" fill="url(#gs)" fill-opacity="0.02"/>
<ellipse cx="149.9" cy="114.67" rx="2" ry="2" fill="url(#gs)" fill-opacity="0.02"/>
<ellipse cx="161.78" cy="88.92" rx="2" ry="2" fill="url(#gs)" fill-opacity="0.03"/>
<ellipse cx="144.85" cy="99.6" rx="2" ry="2" fill="url(#gs)" fill-opacity="0.02"/>
<ellipse cx="157.29" cy="103.4" rx="2" ry="2" fill="url(#gs)" fill-opacity="0.03"/>
<ellipse cx="166.87" cy="99.99" rx="2" ry="2" fill="url(#gs)" fill-opacity="0.05"/>
<ellipse cx="158.13" cy="117.98" rx="2" ry="2" fill="url(#gs)" fill-opacity="0.03"/>
<ellipse cx="169.14" cy="94.38" rx="2" ry="2" fill="url(#gs)" fill-opacity="0.02"/>
<ellipse cx="144.01" cy="119.2" rx="2" ry="2" fill="url(#gs)" fill-opacity="0.03"/>
<ellipse cx="160.33" cy="100" rx="2" ry="2" fill="url(#gs)" fill-opacity="0.05"/>
<ellipse cx="146.1" cy="105.9" rx="3.6" ry="3.2" fill="url(#gs)" fill-opacity="0.24"/>
<ellipse cx="157.6" cy="94.9" rx="2.6" ry="2.6" fill="url(#gs)" fill-opacity="0.16"/>
<ellipse cx="153.6" cy="106.4" rx="2.4" ry="2.4" fill="url(#gs)" fill-opacity="0.08"/>
<ellipse cx="29.55" cy="158.29" rx="2" ry="2" fill="url(#gs)" fill-opacity="0.02"/>
<ellipse cx="52.25" cy="170.11" rx="2" ry="2" fill="url(#gs)" fill-opacity="0.02"/>
<ellipse cx="29.06" cy="179.54" rx="2" ry="2" fill="url(#gs)" fill-opacity="0.05"/>
<ellipse cx="31.23" cy="147.36" rx="2" ry="2" fill="url(#gs)" fill-opacity="0.02"/>
<ellipse cx="49.95" cy="158.56" rx="2" ry="2" fill="url(#gs)" fill-opacity="0.03"/>
<ellipse cx="36.19" cy="169.86" rx="2" ry="2" fill="url(#gs)" fill-opacity="0.03"/>
<ellipse cx="40.59" cy="179.72" rx="2" ry="2" fill="url(#gs)" fill-opacity="0.02"/>
<ellipse cx="30.59" cy="156.68" rx="2" ry="2" fill="url(#gs)" fill-opacity="0.05"/>
<ellipse cx="29.21" cy="154.73" rx="2" ry="2" fill="url(#gs)" fill-opacity="0.05"/>
<ellipse cx="37.22" cy="179.07" rx="2" ry="2" fill="url(#gs)" fill-opacity="0.03"/>
<ellipse cx="26.19" cy="148.74" rx="2" ry="2" fill="url(#gs)" fill-opacity="0.03"/>
<ellipse cx="48.13" cy="172.74" rx="2" ry="2" fill="url(#gs)" fill-opacity="0.05"/>
<ellipse cx="22.89" cy="162.37" rx="2" ry="2" fill="url(#gs)" fill-opacity="0.04"/>
<ellipse cx="32.02" cy="162.23" rx="2" ry="2" fill="url(#gs)" fill-opacity="0.03"/>
<ellipse cx="38.42" cy="155.61" rx="2" ry="2" fill="url(#gs)" fill-opacity="0.02"/>
<ellipse cx="35.66" cy="154.46" rx="2" ry="2" fill="url(#gs)" fill-opacity="0.02"/>
<ellipse cx="25.72" cy="161.61" rx="2" ry="2" fill="url(#gs)" fill-opacity="0.02"/>
<ellipse cx="53.24" cy="163.21" rx="2" ry="2" fill="url(#gs)" fill-opacity="0.02"/>
<ellipse cx="35.35" cy="151.69" rx="2" ry="2" fill="url(#gs)" fill-opacity="0.03"/>
<ellipse cx="16.98" cy="164.61" rx="2" ry="2" fill="url(#gs)" fill-opacity="0.02"/>
<ellipse cx="26.61" cy="153.41" rx="2" ry="2" fill="url(#gs)" fill-opacity="0.03"/>
<ellipse cx="38.47" cy="149.51" rx="2" ry="2" fill="url(#gs)" fill-opacity="0.04"/>
<ellipse cx="42.92" cy="153.44" rx="2" ry="2" fill="url(#gs)" fill-opacity="0.04"/>
<ellipse cx="48.38" cy="160.49" rx="2" ry="2" fill="url(#gs)" fill-opacity="0.02"/>
<ellipse cx="43.82" cy="179.05" rx="2" ry="2" fill="url(#gs)" fill-opacity="0.04"/>
<ellipse cx="26.72" cy="167.97" rx="2" ry="2" fill="url(#gs)" fill-opacity="0.05"/>
<ellipse cx="39.6" cy="148.31" rx="2" ry="2" fill="url(#gs)" fill-opacity="0.02"/>
<ellipse cx="37.69" cy="177.67" rx="2" ry="2" fill="url(#gs)" fill-opacity="0.04"/>
<ellipse cx="48.39" cy="167.56" rx="2" ry="2" fill="url(#gs)" fill-opacity="0.04"/>
<ellipse cx="20.88" cy="157.52" rx="2" ry="2" fill="url(#gs)" fill-opacity="0.05"/>
<ellipse cx="39.96" cy="171.18" rx="2" ry="2" fill="url(#gs)" fill-opacity="0.02"/>
<ellipse cx="23.03" cy="169.94" rx="2" ry="2" fill="url(#gs)" fill-opacity="0.03"/>
<ellipse cx="38.22" cy="155.31" rx="2" ry="2" fill="url(#gs)" fill-opacity="0.02"/>
<ellipse cx="18.87" cy="157.01" rx="2" ry="2" fill="url(#gs)" fill-opacity="0.04"/>
<ellipse cx="36.58" cy="181.46" rx="2" ry="2" fill="url(#gs)" fill-opacity="0.02"/>
<ellipse cx="45.52" cy="167.38" rx="2" ry="2" fill="url(#gs)" fill-opacity="0.03"/>
<ellipse cx="20.52" cy="162.22" rx="2" ry="2" fill="url(#gs)" fill-opacity="0.03"/>
<ellipse cx="47.68" cy="172.29" rx="2" ry="2" fill="url(#gs)" fill-opacity="0.05"/>
<ellipse cx="35.06" cy="172.47" rx="2" ry="2" fill="url(#gs)" fill-opacity="0.02"/>
<ellipse cx="42.99" cy="150.81" rx="2" ry="2" fill="url(#gs)" fill-opacity="0.05"/>
<ellipse cx="31.32" cy="167.1" rx="2" ry="2" fill="url(#gs)" fill-opacity="0.03"/>
<ellipse cx="43.99" cy="162.97" rx="2" ry="2" fill="url(#gs)" fill-opacity="0.02"/>
<ellipse cx="36.24" cy="151.34" rx="2" ry="2" fill="url(#gs)" fill-opacity="0.05"/>
<ellipse cx="28.36" cy="166.6" rx="2" ry="2" fill="url(#gs)" fill-opacity="0.04"/>
<ellipse cx="35.52" cy="168.36" rx="2" ry="2" fill="url(#gs)" fill-opacity="0.05"/>
<ellipse cx="29.71" cy="169.06" rx="2" ry="2" fill="url(#gs)" fill-opacity="0.03"/>
<ellipse cx="46.28" cy="170.32" rx="2" ry="2" fill="url(#gs)" fill-opacity="0.02"/>
<ellipse cx="36.88" cy="145.7" rx="2" ry="2" fill="url(#gs)" fill-opacity="0.04"/>
<ellipse cx="35.12" cy="173.71" rx="2" ry="2" fill="url(#gs)" fill-opacity="0.04"/>
<ellipse cx="26.23" cy="166.84" rx="2" ry="2" fill="url(#gs)" fill-opacity="0.05"/>
<ellipse cx="29.34" cy="174.39" rx="2" ry="2" fill="url(#gs)" fill-opacity="0.05"/>
<ellipse cx="49.69" cy="168.26" rx="2" ry="2" fill="url(#gs)" fill-opacity="0.03"/>
<ellipse cx="49.59" cy="170.11" rx="2" ry="2" fill="url(#gs)" fill-opacity="0.03"/>
<ellipse cx="45.73" cy="152.68" rx="2" ry="2" fill="url(#gs)" fill-opacity="0.04"/>
<ellipse cx="17.9" cy="168.77" rx="2" ry="2" fill="url(#gs)" fill-opacity="0.03"/>
<ellipse cx="22.5" cy="176.45" rx="2" ry="2" fill="url(#gs)" fill-opacity="0.05"/>
<ellipse cx="30.23" cy="171.82" rx="2" ry="2" fill="url(#gs)" fill-opacity="0.02"/>
<ellipse cx="42.56" cy="176.67" rx="2" ry="2" fill="url(#gs)" fill-opacity="0.02"/>
<ellipse cx="26.68" cy="166.37" rx="2" ry="2" fill="url(#gs)" fill-opacity="0.03"/>
<ellipse cx="47.99" cy="164.06" rx="2" ry="2" fill="url(#gs)" fill-opacity="0.04"/>
<ellipse cx="26.8" cy="165.1" rx="3.6" ry="3.2" fill="url(#gs)" fill-opacity="0.24"/>
<ellipse cx="38.3" cy="154.1" rx="2.6" ry="2.6" fill="url(#gs)" fill-opacity="0.16"/>
<ellipse cx="34.3" cy="165.6" rx="2.4" ry="2.4" fill="url(#gs)" fill-opacity="0.08"/>
<ellipse cx="99.57" cy="181.53" rx="2" ry="2" fill="url(#gs)" fill-opacity="0.03"/>
<ellipse cx="92.75" cy="159.82" rx="2" ry="2" fill="url(#gs)" fill-opacity="0.03"/>
<ellipse cx="104.49" cy="165.76" rx="2" ry="2" fill="url(#gs)" fill-opacity="0.02"/>
<ellipse cx="86.99" cy="170.66" rx="2" ry="2" fill="url(#gs)" fill-opacity="0.05"/>
<ellipse cx="92.73" cy="180.56" rx="2" ry="2" fill="url(#gs)" fill-opacity="0.03"/>
<ellipse cx="101.46" cy="161.71" rx="2" ry="2" fill="url(#gs)" fill-opacity="0.03"/>
<ellipse cx="91.84" cy="148.21" rx="2" ry="2" fill="url(#gs)" fill-opacity="0.05"/>
<ellipse cx="93.41" cy="167.04" rx="2" ry="2" fill="url(#gs)" fill-opacity="0.03"/>
<ellipse cx="98.65" cy="160.91" rx="2" ry="2" fill="url(#gs)" fill-opacity="0.03"/>
<ellipse cx="78.04" cy="162.58" rx="2" ry="2" fill="url(#gs)" fill-opacity="0.02"/>
<ellipse cx="95.48" cy="176.49" rx="2" ry="2" fill="url(#gs)" fill-opacity="0.02"/>
<ellipse cx="88.51" cy="160.44" rx="2" ry="2" fill="url(#gs)" fill-opacity="0.02"/>
<ellipse cx="85.17" cy="169.48" rx="2" ry="2" fill="url(#gs)" fill-opacity="0.04"/>
<ellipse cx="92.71" cy="157.85" rx="2" ry="2" fill="url(#gs)" fill-opacity="0.03"/>
<ellipse cx="86.46" cy="150.61" rx="2" ry="2" fill="url(#gs)" fill-opacity="0.02"/>
<ellipse cx="92.97" cy="173.04" rx="2" ry="2" fill="url(#gs)" fill-opacity="0.04"/>
<ellipse cx="85.45" cy="172.51" rx="2" ry="2" fill="url(#gs)" fill-opacity="0.05"/>
<ellipse cx="92.24" cy="173.32" rx="2" ry="2" fill="url(#gs)" fill-opacity="0.03"/>
<ellipse cx="103.14" cy="166.83" rx="2" ry="2" fill="url(#gs)" fill-opacity="0.02"/>
<ellipse cx="80.79" cy="158.53" rx="2" ry="2" fill="url(#gs)" fill-opacity="0.05"/>
<ellipse cx="89.02" cy="182.52" rx="2" ry="2" fill="url(#gs)" fill-opacity="0.04"/>
<ellipse cx="98.44" cy="182.41" rx="2" ry="2" fill="url(#gs)" fill-opacity="0.04"/>
<ellipse cx="109.5" cy="160.28" rx="2" ry="2" fill="url(#gs)" fill-opacity="0.05"/>
<ellipse cx="88.41" cy="157.79" rx="2" ry="2" fill="url(#gs)" fill-opacity="0.02"/>
<ellipse cx="84.91" cy="172.37" rx="2" ry="2" fill="url(#gs)" fill-opacity="0.02"/>
<ellipse cx="89.05" cy="174.97" rx="2" ry="2" fill="url(#gs)" fill-opacity="0.03"/>
<ellipse cx="100.06" cy="173.04" rx="2" ry="2" fill="url(#gs)" fill-opacity="0.03"/>
<ellipse cx="101.15" cy="175.95" rx="2" ry="2" fill="url(#gs)" fill-opacity="0.04"/>
<ellipse cx="102.36" cy="169.73" rx="2" ry="2" fill="url(#gs)" fill-opacity="0.03"/>
<ellipse cx="101.81" cy="174.62" rx="2" ry="2" fill="url(#gs)" fill-opacity="0.04"/>
<ellipse cx="79.57" cy="159.38" rx="2" ry="2" fill="url(#gs)" fill-opacity="0.04"/>
<ellipse cx="92.36" cy="166.42" rx="2" ry="2" fill="url(#gs)" fill-opacity="0.03"/>
<ellipse cx="90.67" cy="167.3" rx="2" ry="2" fill="url(#gs)" fill-opacity="0.02"/>
<ellipse cx="83.12" cy="157.73" rx="2" ry="2" fill="url(#gs)" fill-opacity="0.03"/>
<ellipse cx="94.37" cy="175.44" rx="2" ry="2" fill="url(#gs)" fill-opacity="0.02"/>
<ellipse cx="103.3" cy="157.56" rx="2" ry="2" fill="url(#gs)" fill-opacity="0.04"/>
<ellipse cx="89.81" cy="156.14" rx="2" ry="2" fill="url(#gs)" fill-opacity="0.02"/>
<ellipse cx="84.85" cy="155.98" rx="2" ry="2" fill="url(#gs)" fill-opacity="0.05"/>
<ellipse cx="84.44" cy="159.33" rx="2" ry="2" fill="url(#gs)" fill-opacity="0.05"/>
<ellipse cx="82.97" cy="152.63" rx="2" ry="2" fill="url(#gs)" fill-opacity="0.04"/>
<ellipse cx="84.09" cy="170.76" rx="2" ry="2" fill="url(#gs)" fill-opacity="0.03"/>
<ellipse cx="107.19" cy="152.73" rx="2" ry="2" fill="url(#gs)" fill-opacity="0.03"/>
<ellipse cx="112.2" cy="168.9" rx="2" ry="2" fill="url(#gs)" fill-opacity="0.02"/>
<ellipse cx="89.73" cy="177.22" rx="2" ry="2" fill="url(#gs)" fill-opacity="0.03"/>
<ellipse cx="105.65" cy="179.78" rx="2" ry="2" fill="url(#gs)" fill-opacity="0.02"/>
<ellipse cx="90.74" cy="156.38" rx="2" ry="2" fill="url(#gs)" fill-opacity="0.02"/>
<ellipse cx="94.04" cy="164.44" rx="2" ry="2" fill="url(#gs)" fill-opacity="0.03"/>
<ellipse cx="85.31" cy="164.97" rx="2" ry="2" fill="url(#gs)" fill-opacity="0.04"/>
<ellipse cx="84.61" cy="154.69" rx="2" ry="2" fill="url(#gs)" fill-opacity="0.04"/>
<ellipse cx="111.59" cy="161.23" rx="2" ry="2" fill="url(#gs)" fill-opacity="0.03"/>
<ellipse cx="103.05" cy="157.27" rx="2" ry="2" fill="url(#gs)" fill-opacity="0.03"/>
<ellipse cx="89.19" cy="149.46" rx="2" ry="2" fill="url(#gs)" fill-opacity="0.04"/>
<ellipse cx="103" cy="147.95" rx="2" ry="2" fill="url(#gs)" fill-opacity="0.02"/>
<ellipse cx="79.65" cy="165.48" rx="2" ry="2" fill="url(#gs)" fill-opacity="0.04"/>
<ellipse cx="92.03" cy="175.86" rx="2" ry="2" fill="url(#gs)" fill-opacity="0.04"/>
<ellipse cx="95.73" cy="178.44" rx="2" ry="2" fill="url(#gs)" fill-opacity="0.02"/>
<ellipse cx="99.35" cy="174.34" rx="2" ry="2" fill="url(#gs)" fill-opacity="0.04"/>
<ellipse cx="100.82" cy="167.21" rx="2" ry="2" fill="url(#gs)" fill-opacity="0.02"/>
<ellipse cx="92.9" cy="158.77" rx="2" ry="2" fill="url(#gs)" fill-opacity="0.02"/>
<ellipse cx="96.37" cy="151.95" rx="2" ry="2" fill="url(#gs)" fill-opacity="0.03"/>
<ellipse cx="86.1" cy="165.1" rx="3.6" ry="3.2" fill="url(#gs)" fill-opacity="0.24"/>
<ellipse cx="97.6" cy="154.1" rx="2.6" ry="2.6" fill="url(#gs)" fill-opacity="0.16"/>
<ellipse cx="93.6" cy="165.6" rx="2.4" ry="2.4" fill="url(#gs)" fill-opacity="0.08"/>
<ellipse cx="159.71" cy="158.89" rx="2" ry="2" fill="url(#gs)" fill-opacity="0.05"/>
<ellipse cx="154.49" cy="168.99" rx="2" ry="2" fill="url(#gs)" fill-opacity="0.04"/>
<ellipse cx="141.38" cy="175.22" rx="2" ry="2" fill="url(#gs)" fill-opacity="0.04"/>
<ellipse cx="152.56" cy="155.29" rx="2" ry="2" fill="url(#gs)" fill-opacity="0.03"/>
<ellipse cx="155.24" cy="153.64" rx="2" ry="2" fill="url(#gs)" fill-opacity="0.05"/>
<ellipse cx="138.84" cy="157.49" rx="2" ry="2" fill="url(#gs)" fill-opacity="0.03"/>
<ellipse cx="143.16" cy="153.45" rx="2" ry="2" fill="url(#gs)" fill-opacity="0.05"/>
<ellipse cx="166.61" cy="176.64" rx="2" ry="2" fill="url(#gs)" fill-opacity="0.03"/>
<ellipse cx="156.45" cy="180.03" rx="2" ry="2" fill="url(#gs)" fill-opacity="0.02"/>
<ellipse cx="152.69" cy="163.46" rx="2" ry="2" fill="url(#gs)" fill-opacity="0.05"/>
<ellipse cx="167.09" cy="178.54" rx="2" ry="2" fill="url(#gs)" fill-opacity="0.04"/>
<ellipse cx="146.26" cy="155.56" rx="2" ry="2" fill="url(#gs)" fill-opacity="0.03"/>
<ellipse cx="172.91" cy="163.31" rx="2" ry="2" fill="url(#gs)" fill-opacity="0.02"/>
<ellipse cx="166.41" cy="175.47" rx="2" ry="2" fill="url(#gs)" fill-opacity="0.02"/>
<ellipse cx="153.4" cy="154.51" rx="2" ry="2" fill="url(#gs)" fill-opacity="0.05"/>
<ellipse cx="151.43" cy="170.37" rx="2" ry="2" fill="url(#gs)" fill-opacity="0.02"/>
<ellipse cx="140.68" cy="166.09" rx="2" ry="2" fill="url(#gs)" fill-opacity="0.03"/>
<ellipse cx="157.89" cy="154.56" rx="2" ry="2" fill="url(#gs)" fill-opacity="0.05"/>
<ellipse cx="146.73" cy="170.97" rx="2" ry="2" fill="url(#gs)" fill-opacity="0.04"/>
<ellipse cx="171.1" cy="162.61" rx="2" ry="2" fill="url(#gs)" fill-opacity="0.03"/>
<ellipse cx="139.43" cy="160.09" rx="2" ry="2" fill="url(#gs)" fill-opacity="0.05"/>
<ellipse cx="157.9" cy="171.09" rx="2" ry="2" fill="url(#gs)" fill-opacity="0.02"/>
<ellipse cx="154.44" cy="182.96" rx="2" ry="2" fill="url(#gs)" fill-opacity="0.03"/>
<ellipse cx="151.66" cy="170.5" rx="2" ry="2" fill="url(#gs)" fill-opacity="0.02"/>
<ellipse cx="163.46" cy="175.82" rx="2" ry="2" fill="url(#gs)" fill-opacity="0.04"/>
<ellipse cx="156" cy="174.45" rx="2" ry="2" fill="url(#gs)" fill-opacity="0.03"/>
<ellipse cx="153.91" cy="176.07" rx="2" ry="2" fill="url(#gs)" fill-opacity="0.02"/>
<ellipse cx="158.36" cy="161.59" rx="2" ry="2" fill="url(#gs)" fill-opacity="0.03"/>
<ellipse cx="156.79" cy="169.45" rx="2" ry="2" fill="url(#gs)" fill-opacity="0.03"/>
<ellipse cx="160.21" cy="182.72" rx="2" ry="2" fill="url(#gs)" fill-opacity="0.05"/>
<ellipse cx="143.24" cy="171.36" rx="2" ry="2" fill="url(#gs)" fill-opacity="0.05"/>
<ellipse cx="165.78" cy="168.84" rx="2" ry="2" fill="url(#gs)" fill-opacity="0.04"/>
<ellipse cx="143.58" cy="153.85" rx="2" ry="2" fill="url(#gs)" fill-opacity="0.03"/>
<ellipse cx="166.74" cy="150.76" rx="2" ry="2" fill="url(#gs)" fill-opacity="0.05"/>
<ellipse cx="160.95" cy="153.66" rx="2" ry="2" fill="url(#gs)" fill-opacity="0.04"/>
<ellipse cx="162.45" cy="165.93" rx="2" ry="2" fill="url(#gs)" fill-opacity="0.02"/>
<ellipse cx="160.44" cy="167.56" rx="2" ry="2" fill="url(#gs)" fill-opacity="0.03"/>
<ellipse cx="148.53" cy="179.94" rx="2" ry="2" fill="url(#gs)" fill-opacity="0.04"/>
<ellipse cx="155.08" cy="166.48" rx="2" ry="2" fill="url(#gs)" fill-opacity="0.05"/>
<ellipse cx="152.63" cy="164.26" rx="2" ry="2" fill="url(#gs)" fill-opacity="0.05"/>
<ellipse cx="153.05" cy="147.76" rx="2" ry="2" fill="url(#gs)" fill-opacity="0.03"/>
<ellipse cx="162.58" cy="149.56" rx="2" ry="2" fill="url(#gs)" fill-opacity="0.05"/>
<ellipse cx="169.8" cy="175.77" rx="2" ry="2" fill="url(#gs)" fill-opacity="0.05"/>
<ellipse cx="151.26" cy="153.02" rx="2" ry="2" fill="url(#gs)" fill-opacity="0.03"/>
<ellipse cx="172.52" cy="167.27" rx="2" ry="2" fill="url(#gs)" fill-opacity="0.04"/>
<ellipse cx="147.68" cy="170.44" rx="2" ry="2" fill="url(#gs)" fill-opacity="0.03"/>
<ellipse cx="160.34" cy="150.31" rx="2" ry="2" fill="url(#gs)" fill-opacity="0.03"/>
<ellipse cx="145.37" cy="176.65" rx="2" ry="2" fill="url(#gs)" fill-opacity="0.03"/>
<ellipse cx="146.74" cy="180.88" rx="2" ry="2" fill="url(#gs)" fill-opacity="0.02"/>
<ellipse cx="154.02" cy="153.62" rx="2" ry="2" fill="url(#gs)" fill-opacity="0.02"/>
<ellipse cx="138.91" cy="159.91" rx="2" ry="2" fill="url(#gs)" fill-opacity="0.04"/>
<ellipse cx="160.9" cy="169.54" rx="2" ry="2" fill="url(#gs)" fill-opacity="0.02"/>
<ellipse cx="144.4" cy="169.34" rx="2" ry="2" fill="url(#gs)" fill-opacity="0.02"/>
<ellipse cx="143.54" cy="172.29" rx="2" ry="2" fill="url(#gs)" fill-opacity="0.03"/>
<ellipse cx="167.9" cy="160.49" rx="2" ry="2" fill="url(#gs)" fill-opacity="0.02"/>
<ellipse cx="146.92" cy="180.69" rx="2" ry="2" fill="url(#gs)" fill-opacity="0.05"/>
<ellipse cx="160.84" cy="164.11" rx="2" ry="2" fill="url(#gs)" fill-opacity="0.03"/>
<ellipse cx="158.14" cy="182.9" rx="2" ry="2" fill="url(#gs)" fill-opacity="0.03"/>
<ellipse cx="161.6" cy="178.95" rx="2" ry="2" fill="url(#gs)" fill-opacity="0.03"/>
<ellipse cx="169.4" cy="159.55" rx="2" ry="2" fill="url(#gs)" fill-opacity="0.03"/>
<ellipse cx="146.1" cy="165.1" rx="3.6" ry="3.2" fill="url(#gs)" fill-opacity="0.24"/>
<ellipse cx="157.6" cy="154.1" rx="2.6" ry="2.6" fill="url(#gs)" fill-opacity="0.16"/>
<ellipse cx="153.6" cy="165.6" rx="2.4" ry="2.4" fill="url(#gs)" fill-opacity="0.08"/>
</g></g>
<rect x="77.3" y="138.1" width="38.4" height="2.9" fill="#fff"/>
<text x="80.9" y="136.8" font-family="'Liberation Serif','Times New Roman',serif" font-size="8.8" fill="#fff" textLength="32.5" lengthAdjust="spacingAndGlyphs">1000 <tspan font-style="italic">μm</tspan></text>
<clipPath id="cpa2"><rect x="178" y="25" width="162" height="161.2"/></clipPath>
<g clip-path="url(#cpa2)"><g filter="url(#cmH)">
<rect x="178" y="25" width="162" height="161.2" fill="#060606"/>
<ellipse cx="262" cy="103" rx="80" ry="82" fill="url(#gbig)" fill-opacity="0.18"/>
<ellipse cx="244.9" cy="124.43" rx="1.7" ry="1.7" fill="url(#gs)" fill-opacity="0.12"/>
<ellipse cx="245.68" cy="84.55" rx="1.7" ry="1.7" fill="url(#gs)" fill-opacity="0.06"/>
<ellipse cx="274.06" cy="152.92" rx="1.7" ry="1.7" fill="url(#gs)" fill-opacity="0.09"/>
<ellipse cx="299.35" cy="55.67" rx="1.7" ry="1.7" fill="url(#gs)" fill-opacity="0.09"/>
<ellipse cx="220.58" cy="84.23" rx="1.7" ry="1.7" fill="url(#gs)" fill-opacity="0.04"/>
<ellipse cx="240.38" cy="48.57" rx="1.7" ry="1.7" fill="url(#gs)" fill-opacity="0.07"/>
<ellipse cx="216.35" cy="128.34" rx="1.7" ry="1.7" fill="url(#gs)" fill-opacity="0.06"/>
<ellipse cx="237.24" cy="84.86" rx="1.7" ry="1.7" fill="url(#gs)" fill-opacity="0.08"/>
<ellipse cx="307" cy="112.23" rx="1.7" ry="1.7" fill="url(#gs)" fill-opacity="0.09"/>
<ellipse cx="226.37" cy="79.32" rx="1.7" ry="1.7" fill="url(#gs)" fill-opacity="0.08"/>
<ellipse cx="297.7" cy="153.41" rx="1.7" ry="1.7" fill="url(#gs)" fill-opacity="0.07"/>
<ellipse cx="257.18" cy="39.41" rx="1.7" ry="1.7" fill="url(#gs)" fill-opacity="0.06"/>
<ellipse cx="316.81" cy="99.34" rx="1.7" ry="1.7" fill="url(#gs)" fill-opacity="0.07"/>
<ellipse cx="303.7" cy="145.59" rx="1.7" ry="1.7" fill="url(#gs)" fill-opacity="0.12"/>
<ellipse cx="266.47" cy="147.63" rx="1.7" ry="1.7" fill="url(#gs)" fill-opacity="0.11"/>
<ellipse cx="309.66" cy="83.32" rx="1.7" ry="1.7" fill="url(#gs)" fill-opacity="0.1"/>
<ellipse cx="204.99" cy="98.84" rx="1.7" ry="1.7" fill="url(#gs)" fill-opacity="0.12"/>
<ellipse cx="273.16" cy="91.13" rx="1.7" ry="1.7" fill="url(#gs)" fill-opacity="0.09"/>
<ellipse cx="273.26" cy="73" rx="1.7" ry="1.7" fill="url(#gs)" fill-opacity="0.07"/>
<ellipse cx="293.11" cy="67.94" rx="1.7" ry="1.7" fill="url(#gs)" fill-opacity="0.05"/>
<ellipse cx="241.04" cy="76.43" rx="1.7" ry="1.7" fill="url(#gs)" fill-opacity="0.04"/>
<ellipse cx="273.02" cy="56.61" rx="1.7" ry="1.7" fill="url(#gs)" fill-opacity="0.07"/>
<ellipse cx="271.71" cy="73.07" rx="1.7" ry="1.7" fill="url(#gs)" fill-opacity="0.11"/>
<ellipse cx="208.48" cy="85.88" rx="1.7" ry="1.7" fill="url(#gs)" fill-opacity="0.11"/>
<ellipse cx="295.06" cy="149.59" rx="1.7" ry="1.7" fill="url(#gs)" fill-opacity="0.06"/>
<ellipse cx="281.73" cy="107.65" rx="1.7" ry="1.7" fill="url(#gs)" fill-opacity="0.06"/>
<ellipse cx="291.93" cy="51.55" rx="1.7" ry="1.7" fill="url(#gs)" fill-opacity="0.04"/>
<ellipse cx="241.13" cy="120.57" rx="1.7" ry="1.7" fill="url(#gs)" fill-opacity="0.11"/>
<ellipse cx="303" cy="73.9" rx="1.7" ry="1.7" fill="url(#gs)" fill-opacity="0.04"/>
<ellipse cx="279.08" cy="164.27" rx="1.7" ry="1.7" fill="url(#gs)" fill-opacity="0.09"/>
<ellipse cx="253.61" cy="43.67" rx="1.7" ry="1.7" fill="url(#gs)" fill-opacity="0.05"/>
<ellipse cx="214.55" cy="125.05" rx="1.7" ry="1.7" fill="url(#gs)" fill-opacity="0.03"/>
<ellipse cx="247.12" cy="137.2" rx="1.7" ry="1.7" fill="url(#gs)" fill-opacity="0.09"/>
<ellipse cx="235.06" cy="82.63" rx="1.7" ry="1.7" fill="url(#gs)" fill-opacity="0.09"/>
<ellipse cx="280.87" cy="122.6" rx="1.7" ry="1.7" fill="url(#gs)" fill-opacity="0.09"/>
<ellipse cx="292.1" cy="134.69" rx="1.7" ry="1.7" fill="url(#gs)" fill-opacity="0.04"/>
<ellipse cx="214.16" cy="63.42" rx="1.7" ry="1.7" fill="url(#gs)" fill-opacity="0.06"/>
<ellipse cx="290.33" cy="102.08" rx="1.7" ry="1.7" fill="url(#gs)" fill-opacity="0.09"/>
<ellipse cx="226.91" cy="145.24" rx="1.7" ry="1.7" fill="url(#gs)" fill-opacity="0.06"/>
<ellipse cx="286.81" cy="135.51" rx="1.7" ry="1.7" fill="url(#gs)" fill-opacity="0.09"/>
<ellipse cx="279.79" cy="65.27" rx="1.7" ry="1.7" fill="url(#gs)" fill-opacity="0.07"/>
<ellipse cx="218.78" cy="101.24" rx="1.7" ry="1.7" fill="url(#gs)" fill-opacity="0.11"/>
<ellipse cx="251.17" cy="66.92" rx="1.7" ry="1.7" fill="url(#gs)" fill-opacity="0.05"/>
<ellipse cx="251.41" cy="150.55" rx="1.7" ry="1.7" fill="url(#gs)" fill-opacity="0.11"/>
<ellipse cx="282.9" cy="75.86" rx="1.7" ry="1.7" fill="url(#gs)" fill-opacity="0.09"/>
<ellipse cx="301.47" cy="85.52" rx="1.7" ry="1.7" fill="url(#gs)" fill-opacity="0.06"/>
<ellipse cx="217.62" cy="70.22" rx="1.7" ry="1.7" fill="url(#gs)" fill-opacity="0.07"/>
<ellipse cx="247.84" cy="110.89" rx="1.7" ry="1.7" fill="url(#gs)" fill-opacity="0.06"/>
<ellipse cx="302.77" cy="91.01" rx="1.7" ry="1.7" fill="url(#gs)" fill-opacity="0.06"/>
<ellipse cx="236.9" cy="55.92" rx="1.7" ry="1.7" fill="url(#gs)" fill-opacity="0.05"/>
<ellipse cx="289.69" cy="133.31" rx="1.7" ry="1.7" fill="url(#gs)" fill-opacity="0.11"/>
<ellipse cx="233.8" cy="118.36" rx="1.7" ry="1.7" fill="url(#gs)" fill-opacity="0.06"/>
<ellipse cx="296.15" cy="56.15" rx="1.7" ry="1.7" fill="url(#gs)" fill-opacity="0.08"/>
<ellipse cx="300.36" cy="130.66" rx="1.7" ry="1.7" fill="url(#gs)" fill-opacity="0.11"/>
<ellipse cx="249.55" cy="117.38" rx="1.7" ry="1.7" fill="url(#gs)" fill-opacity="0.06"/>
<ellipse cx="235.53" cy="55.45" rx="1.7" ry="1.7" fill="url(#gs)" fill-opacity="0.06"/>
<ellipse cx="319.63" cy="84.13" rx="1.7" ry="1.7" fill="url(#gs)" fill-opacity="0.03"/>
<ellipse cx="212.03" cy="112.8" rx="1.7" ry="1.7" fill="url(#gs)" fill-opacity="0.06"/>
<ellipse cx="244.41" cy="142.93" rx="1.7" ry="1.7" fill="url(#gs)" fill-opacity="0.09"/>
<ellipse cx="310.94" cy="93.78" rx="1.7" ry="1.7" fill="url(#gs)" fill-opacity="0.12"/>
<ellipse cx="211.59" cy="142.04" rx="1.7" ry="1.7" fill="url(#gs)" fill-opacity="0.1"/>
<ellipse cx="246.37" cy="53.83" rx="1.7" ry="1.7" fill="url(#gs)" fill-opacity="0.12"/>
<ellipse cx="245.95" cy="106.88" rx="1.7" ry="1.7" fill="url(#gs)" fill-opacity="0.07"/>
<ellipse cx="272.33" cy="153.8" rx="1.7" ry="1.7" fill="url(#gs)" fill-opacity="0.12"/>
<ellipse cx="241.96" cy="124.36" rx="1.7" ry="1.7" fill="url(#gs)" fill-opacity="0.04"/>
<ellipse cx="259.93" cy="62.85" rx="1.7" ry="1.7" fill="url(#gs)" fill-opacity="0.04"/>
<ellipse cx="246.49" cy="81.95" rx="1.7" ry="1.7" fill="url(#gs)" fill-opacity="0.09"/>
<ellipse cx="260.82" cy="158.12" rx="1.7" ry="1.7" fill="url(#gs)" fill-opacity="0.1"/>
<ellipse cx="270.89" cy="49.01" rx="1.7" ry="1.7" fill="url(#gs)" fill-opacity="0.04"/>
<ellipse cx="305.6" cy="107.34" rx="1.7" ry="1.7" fill="url(#gs)" fill-opacity="0.11"/>
<ellipse cx="311.34" cy="65.12" rx="1.7" ry="1.7" fill="url(#gs)" fill-opacity="0.03"/>
<ellipse cx="225.04" cy="94.53" rx="1.7" ry="1.7" fill="url(#gs)" fill-opacity="0.08"/>
<ellipse cx="267.2" cy="82.3" rx="1.7" ry="1.7" fill="url(#gs)" fill-opacity="0.06"/>
<ellipse cx="294.32" cy="135.15" rx="1.7" ry="1.7" fill="url(#gs)" fill-opacity="0.08"/>
<ellipse cx="281.59" cy="115.15" rx="1.7" ry="1.7" fill="url(#gs)" fill-opacity="0.08"/>
<ellipse cx="267.96" cy="68.81" rx="1.7" ry="1.7" fill="url(#gs)" fill-opacity="0.05"/>
<ellipse cx="300.8" cy="116.78" rx="1.7" ry="1.7" fill="url(#gs)" fill-opacity="0.05"/>
<ellipse cx="221.82" cy="87.64" rx="1.7" ry="1.7" fill="url(#gs)" fill-opacity="0.07"/>
<ellipse cx="308.79" cy="138.99" rx="1.7" ry="1.7" fill="url(#gs)" fill-opacity="0.11"/>
<ellipse cx="286.75" cy="98.33" rx="1.7" ry="1.7" fill="url(#gs)" fill-opacity="0.08"/>
<ellipse cx="230.92" cy="76.56" rx="1.7" ry="1.7" fill="url(#gs)" fill-opacity="0.11"/>
<ellipse cx="208.25" cy="135.54" rx="1.7" ry="1.7" fill="url(#gs)" fill-opacity="0.03"/>
<ellipse cx="272.46" cy="80.19" rx="1.7" ry="1.7" fill="url(#gs)" fill-opacity="0.1"/>
<ellipse cx="291.93" cy="147.98" rx="1.7" ry="1.7" fill="url(#gs)" fill-opacity="0.08"/>
<ellipse cx="270.32" cy="109.9" rx="1.7" ry="1.7" fill="url(#gs)" fill-opacity="0.06"/>
<ellipse cx="222.83" cy="53.77" rx="1.7" ry="1.7" fill="url(#gs)" fill-opacity="0.11"/>
<ellipse cx="250.13" cy="109.91" rx="1.7" ry="1.7" fill="url(#gs)" fill-opacity="0.04"/>
<ellipse cx="286.95" cy="124.11" rx="1.7" ry="1.7" fill="url(#gs)" fill-opacity="0.11"/>
<ellipse cx="225.39" cy="105.54" rx="1.7" ry="1.7" fill="url(#gs)" fill-opacity="0.09"/>
<ellipse cx="318.88" cy="83.09" rx="1.7" ry="1.7" fill="url(#gs)" fill-opacity="0.08"/>
<ellipse cx="299.28" cy="77.27" rx="1.7" ry="1.7" fill="url(#gs)" fill-opacity="0.07"/>
<ellipse cx="259.65" cy="68.06" rx="1.7" ry="1.7" fill="url(#gs)" fill-opacity="0.05"/>
<ellipse cx="226.96" cy="119.69" rx="1.7" ry="1.7" fill="url(#gs)" fill-opacity="0.07"/>
<ellipse cx="227.28" cy="119.21" rx="1.7" ry="1.7" fill="url(#gs)" fill-opacity="0.07"/>
<ellipse cx="269.3" cy="90.76" rx="1.7" ry="1.7" fill="url(#gs)" fill-opacity="0.04"/>
<ellipse cx="217.56" cy="89.32" rx="1.7" ry="1.7" fill="url(#gs)" fill-opacity="0.07"/>
<ellipse cx="286.52" cy="120.63" rx="1.7" ry="1.7" fill="url(#gs)" fill-opacity="0.06"/>
<ellipse cx="226.29" cy="106.6" rx="1.7" ry="1.7" fill="url(#gs)" fill-opacity="0.05"/>
<ellipse cx="206.77" cy="107.39" rx="1.7" ry="1.7" fill="url(#gs)" fill-opacity="0.03"/>
<ellipse cx="301.9" cy="94.42" rx="1.7" ry="1.7" fill="url(#gs)" fill-opacity="0.03"/>
<ellipse cx="309.81" cy="90.97" rx="1.7" ry="1.7" fill="url(#gs)" fill-opacity="0.06"/>
<ellipse cx="228.37" cy="139.32" rx="1.7" ry="1.7" fill="url(#gs)" fill-opacity="0.06"/>
<ellipse cx="219.73" cy="76.39" rx="1.7" ry="1.7" fill="url(#gs)" fill-opacity="0.06"/>
<ellipse cx="217.09" cy="98.42" rx="1.7" ry="1.7" fill="url(#gs)" fill-opacity="0.1"/>
<ellipse cx="274.3" cy="111.12" rx="1.7" ry="1.7" fill="url(#gs)" fill-opacity="0.05"/>
<ellipse cx="271.41" cy="71.09" rx="1.7" ry="1.7" fill="url(#gs)" fill-opacity="0.07"/>
<ellipse cx="213.49" cy="137.2" rx="1.7" ry="1.7" fill="url(#gs)" fill-opacity="0.06"/>
<ellipse cx="307.34" cy="129.99" rx="1.7" ry="1.7" fill="url(#gs)" fill-opacity="0.12"/>
<ellipse cx="234.47" cy="154.46" rx="1.7" ry="1.7" fill="url(#gs)" fill-opacity="0.06"/>
<ellipse cx="275.8" cy="46.74" rx="1.7" ry="1.7" fill="url(#gs)" fill-opacity="0.09"/>
<ellipse cx="263.3" cy="87.81" rx="1.7" ry="1.7" fill="url(#gs)" fill-opacity="0.03"/>
<ellipse cx="214.1" cy="86.74" rx="1.7" ry="1.7" fill="url(#gs)" fill-opacity="0.11"/>
<ellipse cx="312.64" cy="110.16" rx="1.7" ry="1.7" fill="url(#gs)" fill-opacity="0.11"/>
<ellipse cx="213.31" cy="76.31" rx="1.7" ry="1.7" fill="url(#gs)" fill-opacity="0.03"/>
<ellipse cx="214.14" cy="129.97" rx="1.7" ry="1.7" fill="url(#gs)" fill-opacity="0.09"/>
<ellipse cx="316.98" cy="71.28" rx="1.7" ry="1.7" fill="url(#gs)" fill-opacity="0.04"/>
<ellipse cx="209.33" cy="123.66" rx="1.7" ry="1.7" fill="url(#gs)" fill-opacity="0.1"/>
<ellipse cx="224.77" cy="115.7" rx="1.7" ry="1.7" fill="url(#gs)" fill-opacity="0.07"/>
<ellipse cx="252.65" cy="122.9" rx="1.7" ry="1.7" fill="url(#gs)" fill-opacity="0.1"/>
<ellipse cx="274.77" cy="114.38" rx="1.7" ry="1.7" fill="url(#gs)" fill-opacity="0.11"/>
<ellipse cx="212.13" cy="87.45" rx="1.7" ry="1.7" fill="url(#gs)" fill-opacity="0.04"/>
<ellipse cx="253.89" cy="123.47" rx="1.7" ry="1.7" fill="url(#gs)" fill-opacity="0.12"/>
<ellipse cx="304.3" cy="80.52" rx="1.7" ry="1.7" fill="url(#gs)" fill-opacity="0.05"/>
<ellipse cx="221.85" cy="93.68" rx="1.7" ry="1.7" fill="url(#gs)" fill-opacity="0.11"/>
<ellipse cx="277.76" cy="86.97" rx="1.7" ry="1.7" fill="url(#gs)" fill-opacity="0.07"/>
<ellipse cx="251.68" cy="107.7" rx="1.7" ry="1.7" fill="url(#gs)" fill-opacity="0.06"/>
<ellipse cx="309.29" cy="80.07" rx="1.7" ry="1.7" fill="url(#gs)" fill-opacity="0.07"/>
<ellipse cx="221.48" cy="137.39" rx="1.7" ry="1.7" fill="url(#gs)" fill-opacity="0.1"/>
<ellipse cx="261" cy="82.26" rx="1.7" ry="1.7" fill="url(#gs)" fill-opacity="0.04"/>
<ellipse cx="276.52" cy="149.78" rx="1.7" ry="1.7" fill="url(#gs)" fill-opacity="0.06"/>
<ellipse cx="246.81" cy="123.98" rx="1.7" ry="1.7" fill="url(#gs)" fill-opacity="0.08"/>
<ellipse cx="226.71" cy="132.74" rx="1.7" ry="1.7" fill="url(#gs)" fill-opacity="0.08"/>
<ellipse cx="225.06" cy="148.67" rx="1.7" ry="1.7" fill="url(#gs)" fill-opacity="0.08"/>
<ellipse cx="306.03" cy="97.6" rx="1.7" ry="1.7" fill="url(#gs)" fill-opacity="0.06"/>
<ellipse cx="267.51" cy="156.16" rx="1.7" ry="1.7" fill="url(#gs)" fill-opacity="0.05"/>
<ellipse cx="213.26" cy="78.18" rx="1.7" ry="1.7" fill="url(#gs)" fill-opacity="0.05"/>
<ellipse cx="269.34" cy="88.55" rx="1.7" ry="1.7" fill="url(#gs)" fill-opacity="0.06"/>
<ellipse cx="212.6" cy="125.23" rx="1.7" ry="1.7" fill="url(#gs)" fill-opacity="0.09"/>
<ellipse cx="309.32" cy="95.72" rx="1.7" ry="1.7" fill="url(#gs)" fill-opacity="0.11"/>
<ellipse cx="218.94" cy="106.58" rx="1.7" ry="1.7" fill="url(#gs)" fill-opacity="0.05"/>
<ellipse cx="306.46" cy="136.29" rx="1.7" ry="1.7" fill="url(#gs)" fill-opacity="0.06"/>
<ellipse cx="319.49" cy="115.88" rx="1.7" ry="1.7" fill="url(#gs)" fill-opacity="0.09"/>
<ellipse cx="216.26" cy="87.67" rx="1.7" ry="1.7" fill="url(#gs)" fill-opacity="0.06"/>
<ellipse cx="285.73" cy="95.42" rx="1.7" ry="1.7" fill="url(#gs)" fill-opacity="0.1"/>
<ellipse cx="308.96" cy="136.09" rx="1.7" ry="1.7" fill="url(#gs)" fill-opacity="0.1"/>
<ellipse cx="271.38" cy="131.41" rx="1.7" ry="1.7" fill="url(#gs)" fill-opacity="0.08"/>
<ellipse cx="298.26" cy="137.4" rx="1.7" ry="1.7" fill="url(#gs)" fill-opacity="0.1"/>
<ellipse cx="301.4" cy="74.13" rx="1.7" ry="1.7" fill="url(#gs)" fill-opacity="0.11"/>
<ellipse cx="227.11" cy="143.07" rx="1.7" ry="1.7" fill="url(#gs)" fill-opacity="0.12"/>
<ellipse cx="248.22" cy="155.47" rx="1.7" ry="1.7" fill="url(#gs)" fill-opacity="0.11"/>
<ellipse cx="256.96" cy="157.33" rx="1.7" ry="1.7" fill="url(#gs)" fill-opacity="0.05"/>
<ellipse cx="253.12" cy="100.89" rx="1.7" ry="1.7" fill="url(#gs)" fill-opacity="0.05"/>
<ellipse cx="261.38" cy="137.64" rx="1.7" ry="1.7" fill="url(#gs)" fill-opacity="0.04"/>
<ellipse cx="255.69" cy="147.12" rx="1.7" ry="1.7" fill="url(#gs)" fill-opacity="0.06"/>
<ellipse cx="228.34" cy="101.05" rx="1.7" ry="1.7" fill="url(#gs)" fill-opacity="0.11"/>
<ellipse cx="278.27" cy="83.23" rx="1.7" ry="1.7" fill="url(#gs)" fill-opacity="0.11"/>
<ellipse cx="213.92" cy="89.43" rx="1.7" ry="1.7" fill="url(#gs)" fill-opacity="0.1"/>
<ellipse cx="236.91" cy="63.5" rx="1.7" ry="1.7" fill="url(#gs)" fill-opacity="0.11"/>
<ellipse cx="258.52" cy="159.24" rx="1.7" ry="1.7" fill="url(#gs)" fill-opacity="0.03"/>
<ellipse cx="221.72" cy="150.06" rx="1.7" ry="1.7" fill="url(#gs)" fill-opacity="0.1"/>
<ellipse cx="232.43" cy="112.03" rx="1.7" ry="1.7" fill="url(#gs)" fill-opacity="0.06"/>
<ellipse cx="313.26" cy="84.04" rx="1.7" ry="1.7" fill="url(#gs)" fill-opacity="0.08"/>
<ellipse cx="234.01" cy="142.18" rx="1.7" ry="1.7" fill="url(#gs)" fill-opacity="0.05"/>
<ellipse cx="310" cy="142.84" rx="1.7" ry="1.7" fill="url(#gs)" fill-opacity="0.11"/>
<ellipse cx="308.69" cy="125.62" rx="1.7" ry="1.7" fill="url(#gs)" fill-opacity="0.11"/>
<ellipse cx="243.26" cy="94.83" rx="1.7" ry="1.7" fill="url(#gs)" fill-opacity="0.04"/>
<ellipse cx="238.83" cy="162.27" rx="1.7" ry="1.7" fill="url(#gs)" fill-opacity="0.11"/>
<ellipse cx="254.04" cy="89.28" rx="1.7" ry="1.7" fill="url(#gs)" fill-opacity="0.04"/>
<ellipse cx="252.05" cy="98.25" rx="1.7" ry="1.7" fill="url(#gs)" fill-opacity="0.12"/>
<ellipse cx="294.54" cy="61.2" rx="1.7" ry="1.7" fill="url(#gs)" fill-opacity="0.1"/>
<ellipse cx="302.88" cy="124.54" rx="1.7" ry="1.7" fill="url(#gs)" fill-opacity="0.08"/>
<ellipse cx="234.89" cy="98.41" rx="1.7" ry="1.7" fill="url(#gs)" fill-opacity="0.06"/>
<ellipse cx="276.64" cy="145.77" rx="1.7" ry="1.7" fill="url(#gs)" fill-opacity="0.09"/>
<ellipse cx="220.82" cy="106.66" rx="1.7" ry="1.7" fill="url(#gs)" fill-opacity="0.04"/>
<ellipse cx="220.23" cy="87.2" rx="1.7" ry="1.7" fill="url(#gs)" fill-opacity="0.12"/>
<ellipse cx="293.74" cy="138.95" rx="1.7" ry="1.7" fill="url(#gs)" fill-opacity="0.06"/>
<ellipse cx="251" cy="67.59" rx="1.7" ry="1.7" fill="url(#gs)" fill-opacity="0.11"/>
<ellipse cx="322.12" cy="83.43" rx="1.7" ry="1.7" fill="url(#gs)" fill-opacity="0.11"/>
<ellipse cx="316.42" cy="79.43" rx="1.7" ry="1.7" fill="url(#gs)" fill-opacity="0.03"/>
<ellipse cx="224.28" cy="78.85" rx="1.7" ry="1.7" fill="url(#gs)" fill-opacity="0.09"/>
<ellipse cx="224.03" cy="70.32" rx="1.7" ry="1.7" fill="url(#gs)" fill-opacity="0.11"/>
<ellipse cx="243.33" cy="100.73" rx="1.7" ry="1.7" fill="url(#gs)" fill-opacity="0.12"/>
<ellipse cx="270.72" cy="110.38" rx="1.7" ry="1.7" fill="url(#gs)" fill-opacity="0.11"/>
<ellipse cx="323.9" cy="112.43" rx="1.7" ry="1.7" fill="url(#gs)" fill-opacity="0.03"/>
<ellipse cx="240.01" cy="49.01" rx="1.7" ry="1.7" fill="url(#gs)" fill-opacity="0.08"/>
<ellipse cx="264.25" cy="54.31" rx="1.7" ry="1.7" fill="url(#gs)" fill-opacity="0.1"/>
<ellipse cx="263.52" cy="103.69" rx="1.7" ry="1.7" fill="url(#gs)" fill-opacity="0.1"/>
<ellipse cx="293.61" cy="48.27" rx="1.7" ry="1.7" fill="url(#gs)" fill-opacity="0.07"/>
<ellipse cx="240.83" cy="133.43" rx="1.7" ry="1.7" fill="url(#gs)" fill-opacity="0.03"/>
<ellipse cx="257.68" cy="159" rx="1.7" ry="1.7" fill="url(#gs)" fill-opacity="0.08"/>
<ellipse cx="238.28" cy="142.9" rx="1.7" ry="1.7" fill="url(#gs)" fill-opacity="0.09"/>
<ellipse cx="266.23" cy="145.96" rx="1.7" ry="1.7" fill="url(#gs)" fill-opacity="0.11"/>
<ellipse cx="277.77" cy="124.7" rx="1.7" ry="1.7" fill="url(#gs)" fill-opacity="0.05"/>
<ellipse cx="271.29" cy="59.69" rx="1.7" ry="1.7" fill="url(#gs)" fill-opacity="0.06"/>
<ellipse cx="244.33" cy="77.24" rx="1.7" ry="1.7" fill="url(#gs)" fill-opacity="0.05"/>
<ellipse cx="260.57" cy="149.25" rx="1.7" ry="1.7" fill="url(#gs)" fill-opacity="0.11"/>
<ellipse cx="265.07" cy="130.32" rx="1.7" ry="1.7" fill="url(#gs)" fill-opacity="0.06"/>
<ellipse cx="256.58" cy="66.66" rx="1.7" ry="1.7" fill="url(#gs)" fill-opacity="0.09"/>
<ellipse cx="206.9" cy="88.83" rx="1.7" ry="1.7" fill="url(#gs)" fill-opacity="0.04"/>
<ellipse cx="263.95" cy="158.89" rx="1.7" ry="1.7" fill="url(#gs)" fill-opacity="0.05"/>
<ellipse cx="303.11" cy="100.35" rx="1.7" ry="1.7" fill="url(#gs)" fill-opacity="0.06"/>
<ellipse cx="294.39" cy="82.72" rx="1.7" ry="1.7" fill="url(#gs)" fill-opacity="0.12"/>
<ellipse cx="288.23" cy="132.96" rx="1.7" ry="1.7" fill="url(#gs)" fill-opacity="0.1"/>
<ellipse cx="232.23" cy="151.14" rx="1.7" ry="1.7" fill="url(#gs)" fill-opacity="0.1"/>
<ellipse cx="252.9" cy="141.36" rx="1.7" ry="1.7" fill="url(#gs)" fill-opacity="0.08"/>
<ellipse cx="207.52" cy="111.33" rx="1.7" ry="1.7" fill="url(#gs)" fill-opacity="0.1"/>
<ellipse cx="254.47" cy="103.05" rx="1.7" ry="1.7" fill="url(#gs)" fill-opacity="0.06"/>
<ellipse cx="276.03" cy="94.64" rx="1.7" ry="1.7" fill="url(#gs)" fill-opacity="0.04"/>
<ellipse cx="282.92" cy="82.89" rx="1.7" ry="1.7" fill="url(#gs)" fill-opacity="0.12"/>
<ellipse cx="228.28" cy="154.75" rx="1.7" ry="1.7" fill="url(#gs)" fill-opacity="0.11"/>
<ellipse cx="256.67" cy="79.5" rx="1.7" ry="1.7" fill="url(#gs)" fill-opacity="0.12"/>
<ellipse cx="280.49" cy="124.15" rx="1.7" ry="1.7" fill="url(#gs)" fill-opacity="0.09"/>
<ellipse cx="253.14" cy="43.53" rx="1.7" ry="1.7" fill="url(#gs)" fill-opacity="0.12"/>
<ellipse cx="232.04" cy="134" rx="1.7" ry="1.7" fill="url(#gs)" fill-opacity="0.04"/>
<ellipse cx="293" cy="90.47" rx="1.7" ry="1.7" fill="url(#gs)" fill-opacity="0.04"/>
<ellipse cx="246.18" cy="125.51" rx="1.7" ry="1.7" fill="url(#gs)" fill-opacity="0.03"/>
<ellipse cx="276.52" cy="135.35" rx="1.7" ry="1.7" fill="url(#gs)" fill-opacity="0.04"/>
<ellipse cx="217.03" cy="91.36" rx="1.7" ry="1.7" fill="url(#gs)" fill-opacity="0.08"/>
<ellipse cx="206.91" cy="93.66" rx="1.7" ry="1.7" fill="url(#gs)" fill-opacity="0.12"/>
<ellipse cx="265.09" cy="121.01" rx="1.7" ry="1.7" fill="url(#gs)" fill-opacity="0.04"/>
<ellipse cx="264.38" cy="67.48" rx="1.7" ry="1.7" fill="url(#gs)" fill-opacity="0.11"/>
<ellipse cx="286.26" cy="141.4" rx="1.7" ry="1.7" fill="url(#gs)" fill-opacity="0.06"/>
<ellipse cx="248.71" cy="149.39" rx="1.7" ry="1.7" fill="url(#gs)" fill-opacity="0.1"/>
<ellipse cx="200.89" cy="118.8" rx="1.7" ry="1.7" fill="url(#gs)" fill-opacity="0.08"/>
<ellipse cx="204.55" cy="115.83" rx="1.7" ry="1.7" fill="url(#gs)" fill-opacity="0.05"/>
<ellipse cx="323.58" cy="94.38" rx="1.7" ry="1.7" fill="url(#gs)" fill-opacity="0.03"/>
<ellipse cx="216.67" cy="135.7" rx="1.7" ry="1.7" fill="url(#gs)" fill-opacity="0.03"/>
<ellipse cx="274.01" cy="125.86" rx="1.7" ry="1.7" fill="url(#gs)" fill-opacity="0.1"/>
<ellipse cx="291.22" cy="106.62" rx="1.7" ry="1.7" fill="url(#gs)" fill-opacity="0.05"/>
<ellipse cx="204.79" cy="103.3" rx="1.7" ry="1.7" fill="url(#gs)" fill-opacity="0.09"/>
<ellipse cx="279.95" cy="142.79" rx="1.7" ry="1.7" fill="url(#gs)" fill-opacity="0.03"/>
<ellipse cx="296.11" cy="112.11" rx="1.7" ry="1.7" fill="url(#gs)" fill-opacity="0.05"/>
<ellipse cx="227.68" cy="139.84" rx="1.7" ry="1.7" fill="url(#gs)" fill-opacity="0.07"/>
<ellipse cx="241.31" cy="149.13" rx="1.7" ry="1.7" fill="url(#gs)" fill-opacity="0.06"/>
<ellipse cx="209.45" cy="73.7" rx="1.7" ry="1.7" fill="url(#gs)" fill-opacity="0.07"/>
<ellipse cx="216.42" cy="114.6" rx="1.7" ry="1.7" fill="url(#gs)" fill-opacity="0.06"/>
<ellipse cx="268.39" cy="163.84" rx="1.7" ry="1.7" fill="url(#gs)" fill-opacity="0.11"/>
<ellipse cx="305.58" cy="63.07" rx="1.7" ry="1.7" fill="url(#gs)" fill-opacity="0.04"/>
<ellipse cx="307.44" cy="98.57" rx="1.7" ry="1.7" fill="url(#gs)" fill-opacity="0.06"/>
<ellipse cx="257.59" cy="76.91" rx="1.7" ry="1.7" fill="url(#gs)" fill-opacity="0.05"/>
<ellipse cx="288.82" cy="143.88" rx="1.7" ry="1.7" fill="url(#gs)" fill-opacity="0.12"/>
<ellipse cx="289.98" cy="122.51" rx="1.7" ry="1.7" fill="url(#gs)" fill-opacity="0.09"/>
<ellipse cx="226.88" cy="89.27" rx="1.7" ry="1.7" fill="url(#gs)" fill-opacity="0.07"/>
<ellipse cx="200.77" cy="97.53" rx="1.7" ry="1.7" fill="url(#gs)" fill-opacity="0.06"/>
<ellipse cx="259.4" cy="103.06" rx="1.7" ry="1.7" fill="url(#gs)" fill-opacity="0.05"/>
<ellipse cx="229.22" cy="67.26" rx="1.7" ry="1.7" fill="url(#gs)" fill-opacity="0.07"/>
<ellipse cx="242.81" cy="103.3" rx="1.7" ry="1.7" fill="url(#gs)" fill-opacity="0.07"/>
<ellipse cx="312.35" cy="93.43" rx="1.7" ry="1.7" fill="url(#gs)" fill-opacity="0.06"/>
<ellipse cx="298.71" cy="124.59" rx="1.7" ry="1.7" fill="url(#gs)" fill-opacity="0.1"/>
<ellipse cx="276.77" cy="75.75" rx="1.7" ry="1.7" fill="url(#gs)" fill-opacity="0.1"/>
<ellipse cx="288.46" cy="84.48" rx="1.7" ry="1.7" fill="url(#gs)" fill-opacity="0.08"/>
<ellipse cx="222.7" cy="88.81" rx="1.7" ry="1.7" fill="url(#gs)" fill-opacity="0.12"/>
<ellipse cx="217.49" cy="108" rx="1.7" ry="1.7" fill="url(#gs)" fill-opacity="0.06"/>
<ellipse cx="203.31" cy="101.89" rx="1.7" ry="1.7" fill="url(#gs)" fill-opacity="0.06"/>
<ellipse cx="268.16" cy="130.69" rx="1.7" ry="1.7" fill="url(#gs)" fill-opacity="0.11"/>
<ellipse cx="318.85" cy="95.33" rx="1.7" ry="1.7" fill="url(#gs)" fill-opacity="0.11"/>
<ellipse cx="277.55" cy="52.36" rx="1.7" ry="1.7" fill="url(#gs)" fill-opacity="0.09"/>
<ellipse cx="280.23" cy="48.37" rx="1.7" ry="1.7" fill="url(#gs)" fill-opacity="0.05"/>
<ellipse cx="243.02" cy="157.56" rx="1.7" ry="1.7" fill="url(#gs)" fill-opacity="0.05"/>
<ellipse cx="322.74" cy="111.78" rx="1.7" ry="1.7" fill="url(#gs)" fill-opacity="0.08"/>
<ellipse cx="271.72" cy="66.79" rx="1.7" ry="1.7" fill="url(#gs)" fill-opacity="0.08"/>
<ellipse cx="317.67" cy="77.85" rx="1.7" ry="1.7" fill="url(#gs)" fill-opacity="0.09"/>
<ellipse cx="253.92" cy="88.9" rx="1.7" ry="1.7" fill="url(#gs)" fill-opacity="0.04"/>
<ellipse cx="305.8" cy="57.13" rx="1.7" ry="1.7" fill="url(#gs)" fill-opacity="0.06"/>
<ellipse cx="252.53" cy="77.08" rx="1.7" ry="1.7" fill="url(#gs)" fill-opacity="0.1"/>
<ellipse cx="216.49" cy="58.69" rx="1.7" ry="1.7" fill="url(#gs)" fill-opacity="0.04"/>
<ellipse cx="312.91" cy="122.63" rx="1.7" ry="1.7" fill="url(#gs)" fill-opacity="0.11"/>
<ellipse cx="274.36" cy="48.27" rx="1.7" ry="1.7" fill="url(#gs)" fill-opacity="0.11"/>
<ellipse cx="307.26" cy="86.19" rx="1.7" ry="1.7" fill="url(#gs)" fill-opacity="0.09"/>
<ellipse cx="228.43" cy="132.8" rx="1.7" ry="1.7" fill="url(#gs)" fill-opacity="0.06"/>
<ellipse cx="267.14" cy="111.21" rx="1.7" ry="1.7" fill="url(#gs)" fill-opacity="0.1"/>
<ellipse cx="244.57" cy="77.84" rx="1.7" ry="1.7" fill="url(#gs)" fill-opacity="0.1"/>
<ellipse cx="208.93" cy="97.71" rx="1.7" ry="1.7" fill="url(#gs)" fill-opacity="0.06"/>
<ellipse cx="274.83" cy="133.87" rx="1.7" ry="1.7" fill="url(#gs)" fill-opacity="0.09"/>
<ellipse cx="311.56" cy="84.16" rx="1.7" ry="1.7" fill="url(#gs)" fill-opacity="0.06"/>
<ellipse cx="314.34" cy="70.47" rx="1.7" ry="1.7" fill="url(#gs)" fill-opacity="0.06"/>
<ellipse cx="216.31" cy="60.44" rx="1.7" ry="1.7" fill="url(#gs)" fill-opacity="0.12"/>
<ellipse cx="233.86" cy="151.78" rx="1.7" ry="1.7" fill="url(#gs)" fill-opacity="0.06"/>
<ellipse cx="215.87" cy="106.53" rx="1.7" ry="1.7" fill="url(#gs)" fill-opacity="0.03"/>
<ellipse cx="204.03" cy="89.87" rx="1.7" ry="1.7" fill="url(#gs)" fill-opacity="0.07"/>
<ellipse cx="262.08" cy="158.23" rx="1.7" ry="1.7" fill="url(#gs)" fill-opacity="0.05"/>
<ellipse cx="264.66" cy="151.7" rx="1.7" ry="1.7" fill="url(#gs)" fill-opacity="0.06"/>
<ellipse cx="278.03" cy="108.45" rx="1.7" ry="1.7" fill="url(#gs)" fill-opacity="0.06"/>
<ellipse cx="306.08" cy="88.34" rx="1.7" ry="1.7" fill="url(#gs)" fill-opacity="0.09"/>
<ellipse cx="227.67" cy="125.78" rx="1.7" ry="1.7" fill="url(#gs)" fill-opacity="0.05"/>
<ellipse cx="304.61" cy="91.79" rx="1.7" ry="1.7" fill="url(#gs)" fill-opacity="0.04"/>
<ellipse cx="245.42" cy="64.29" rx="1.7" ry="1.7" fill="url(#gs)" fill-opacity="0.1"/>
<ellipse cx="231.87" cy="66.04" rx="1.7" ry="1.7" fill="url(#gs)" fill-opacity="0.11"/>
<ellipse cx="261.55" cy="163.8" rx="1.7" ry="1.7" fill="url(#gs)" fill-opacity="0.08"/>
<ellipse cx="199.05" cy="91.93" rx="1.7" ry="1.7" fill="url(#gs)" fill-opacity="0.05"/>
<ellipse cx="314.47" cy="122.62" rx="1.7" ry="1.7" fill="url(#gs)" fill-opacity="0.04"/>
<ellipse cx="255.29" cy="150.04" rx="1.7" ry="1.7" fill="url(#gs)" fill-opacity="0.09"/>
<ellipse cx="238.99" cy="152.47" rx="1.7" ry="1.7" fill="url(#gs)" fill-opacity="0.1"/>
<ellipse cx="247.93" cy="53.45" rx="1.7" ry="1.7" fill="url(#gs)" fill-opacity="0.07"/>
<ellipse cx="295" cy="129.12" rx="1.7" ry="1.7" fill="url(#gs)" fill-opacity="0.07"/>
<ellipse cx="309.79" cy="62.66" rx="1.7" ry="1.7" fill="url(#gs)" fill-opacity="0.04"/>
<ellipse cx="259.92" cy="119.93" rx="1.7" ry="1.7" fill="url(#gs)" fill-opacity="0.09"/>
<ellipse cx="291.4" cy="133.47" rx="1.7" ry="1.7" fill="url(#gs)" fill-opacity="0.07"/>
<ellipse cx="260.24" cy="54.58" rx="1.7" ry="1.7" fill="url(#gs)" fill-opacity="0.07"/>
<ellipse cx="240.42" cy="56.15" rx="1.7" ry="1.7" fill="url(#gs)" fill-opacity="0.09"/>
<ellipse cx="258.72" cy="90.05" rx="2" ry="2" fill="url(#gs)" fill-opacity="0.12"/>
<ellipse cx="247.69" cy="105.39" rx="2" ry="2" fill="url(#gs)" fill-opacity="0.1"/>
<ellipse cx="249.04" cy="113.59" rx="2" ry="2" fill="url(#gs)" fill-opacity="0.16"/>
<ellipse cx="281.3" cy="97.22" rx="2" ry="2" fill="url(#gs)" fill-opacity="0.2"/>
<ellipse cx="225.16" cy="80.34" rx="2" ry="2" fill="url(#gs)" fill-opacity="0.14"/>
<ellipse cx="306.85" cy="145.07" rx="2" ry="2" fill="url(#gs)" fill-opacity="0.14"/>
<ellipse cx="281.36" cy="81.22" rx="2" ry="2" fill="url(#gs)" fill-opacity="0.16"/>
<ellipse cx="230.04" cy="126.59" rx="2" ry="2" fill="url(#gs)" fill-opacity="0.21"/>
<ellipse cx="270.07" cy="72.6" rx="2" ry="2" fill="url(#gs)" fill-opacity="0.18"/>
<ellipse cx="234.39" cy="134.01" rx="2" ry="2" fill="url(#gs)" fill-opacity="0.15"/>
<ellipse cx="245.3" cy="141.24" rx="2" ry="2" fill="url(#gs)" fill-opacity="0.17"/>
<ellipse cx="248.84" cy="140.51" rx="2" ry="2" fill="url(#gs)" fill-opacity="0.19"/>
<ellipse cx="220.75" cy="109.92" rx="2" ry="2" fill="url(#gs)" fill-opacity="0.21"/>
<ellipse cx="232.26" cy="132.38" rx="2" ry="2" fill="url(#gs)" fill-opacity="0.21"/>
<ellipse cx="275.62" cy="43.27" rx="2" ry="2" fill="url(#gs)" fill-opacity="0.15"/>
<ellipse cx="259.1" cy="52.29" rx="2" ry="2" fill="url(#gs)" fill-opacity="0.14"/>
<ellipse cx="312.15" cy="86.62" rx="2" ry="2" fill="url(#gs)" fill-opacity="0.18"/>
<ellipse cx="215.45" cy="123.11" rx="2" ry="2" fill="url(#gs)" fill-opacity="0.18"/>
<ellipse cx="265.76" cy="73.77" rx="2" ry="2" fill="url(#gs)" fill-opacity="0.16"/>
<ellipse cx="228.57" cy="154.47" rx="2" ry="2" fill="url(#gs)" fill-opacity="0.19"/>
<ellipse cx="255.07" cy="107.03" rx="2" ry="2" fill="url(#gs)" fill-opacity="0.19"/>
<ellipse cx="238.12" cy="82.34" rx="2" ry="2" fill="url(#gs)" fill-opacity="0.13"/>
<ellipse cx="301.1" cy="101.44" rx="2" ry="2" fill="url(#gs)" fill-opacity="0.12"/>
<ellipse cx="317.1" cy="124.73" rx="2" ry="2" fill="url(#gs)" fill-opacity="0.17"/>
<ellipse cx="291.3" cy="55.06" rx="2" ry="2" fill="url(#gs)" fill-opacity="0.15"/>
<ellipse cx="250.76" cy="56.71" rx="2" ry="2" fill="url(#gs)" fill-opacity="0.19"/>
<ellipse cx="214.88" cy="77.52" rx="2" ry="2" fill="url(#gs)" fill-opacity="0.13"/>
<ellipse cx="213.75" cy="83.45" rx="2" ry="2" fill="url(#gs)" fill-opacity="0.17"/>
<ellipse cx="302.3" cy="149.58" rx="2" ry="2" fill="url(#gs)" fill-opacity="0.19"/>
<ellipse cx="256.81" cy="68.05" rx="2" ry="2" fill="url(#gs)" fill-opacity="0.21"/>
<ellipse cx="232.37" cy="89.7" rx="2" ry="2" fill="url(#gs)" fill-opacity="0.16"/>
<ellipse cx="283.72" cy="140.84" rx="2" ry="2" fill="url(#gs)" fill-opacity="0.18"/>
<ellipse cx="231.62" cy="52.89" rx="2" ry="2" fill="url(#gs)" fill-opacity="0.13"/>
<ellipse cx="213.22" cy="129.81" rx="2" ry="2" fill="url(#gs)" fill-opacity="0.12"/>
<ellipse cx="215.23" cy="114.9" rx="2" ry="2" fill="url(#gs)" fill-opacity="0.16"/>
<ellipse cx="206.06" cy="76.92" rx="2" ry="2" fill="url(#gs)" fill-opacity="0.21"/>
<ellipse cx="264.06" cy="66.24" rx="2" ry="2" fill="url(#gs)" fill-opacity="0.11"/>
<ellipse cx="249.87" cy="71.26" rx="2" ry="2" fill="url(#gs)" fill-opacity="0.18"/>
<ellipse cx="220.82" cy="141.59" rx="2" ry="2" fill="url(#gs)" fill-opacity="0.13"/>
<ellipse cx="225.9" cy="94.38" rx="2" ry="2" fill="url(#gs)" fill-opacity="0.1"/>
<ellipse cx="241.11" cy="71.32" rx="2" ry="2" fill="url(#gs)" fill-opacity="0.12"/>
<ellipse cx="286.08" cy="78.18" rx="2" ry="2" fill="url(#gs)" fill-opacity="0.21"/>
<ellipse cx="275.56" cy="130.86" rx="2" ry="2" fill="url(#gs)" fill-opacity="0.11"/>
<ellipse cx="266.96" cy="85.54" rx="2" ry="2" fill="url(#gs)" fill-opacity="0.19"/>
<ellipse cx="230.19" cy="105.18" rx="2" ry="2" fill="url(#gs)" fill-opacity="0.18"/>
<ellipse cx="266.36" cy="93.57" rx="2" ry="2" fill="url(#gs)" fill-opacity="0.2"/>
<ellipse cx="253.78" cy="75.71" rx="2" ry="2" fill="url(#gs)" fill-opacity="0.18"/>
<ellipse cx="287.99" cy="78.1" rx="2" ry="2" fill="url(#gs)" fill-opacity="0.13"/>
<ellipse cx="245.37" cy="142.31" rx="2" ry="2" fill="url(#gs)" fill-opacity="0.15"/>
<ellipse cx="211.43" cy="79.22" rx="2" ry="2" fill="url(#gs)" fill-opacity="0.17"/>
<ellipse cx="272.25" cy="163.74" rx="2" ry="2" fill="url(#gs)" fill-opacity="0.13"/>
<ellipse cx="290.63" cy="142.53" rx="2" ry="2" fill="url(#gs)" fill-opacity="0.22"/>
<ellipse cx="228.32" cy="116.33" rx="2" ry="2" fill="url(#gs)" fill-opacity="0.15"/>
<ellipse cx="310.61" cy="74.38" rx="2" ry="2" fill="url(#gs)" fill-opacity="0.18"/>
<ellipse cx="246.25" cy="123.27" rx="2" ry="2" fill="url(#gs)" fill-opacity="0.18"/>
<ellipse cx="283.34" cy="83.63" rx="2" ry="2" fill="url(#gs)" fill-opacity="0.2"/>
<ellipse cx="242.59" cy="125.22" rx="2" ry="2" fill="url(#gs)" fill-opacity="0.13"/>
<ellipse cx="312.27" cy="118.33" rx="2" ry="2" fill="url(#gs)" fill-opacity="0.18"/>
<ellipse cx="270.4" cy="89.96" rx="2" ry="2" fill="url(#gs)" fill-opacity="0.17"/>
<ellipse cx="301.12" cy="129.67" rx="2" ry="2" fill="url(#gs)" fill-opacity="0.11"/>
<ellipse cx="298.67" cy="99.46" rx="2" ry="2" fill="url(#gs)" fill-opacity="0.17"/>
<ellipse cx="315.17" cy="125.08" rx="2" ry="2" fill="url(#gs)" fill-opacity="0.11"/>
<ellipse cx="259.07" cy="94.53" rx="2" ry="2" fill="url(#gs)" fill-opacity="0.12"/>
<ellipse cx="245.87" cy="74.93" rx="2" ry="2" fill="url(#gs)" fill-opacity="0.18"/>
<ellipse cx="227.53" cy="110.15" rx="2" ry="2" fill="url(#gs)" fill-opacity="0.13"/>
<ellipse cx="233.33" cy="139.55" rx="2" ry="2" fill="url(#gs)" fill-opacity="0.14"/>
<ellipse cx="253.9" cy="132.85" rx="2" ry="2" fill="url(#gs)" fill-opacity="0.13"/>
<ellipse cx="259.07" cy="110.34" rx="2" ry="2" fill="url(#gs)" fill-opacity="0.17"/>
<ellipse cx="286.38" cy="123.94" rx="2" ry="2" fill="url(#gs)" fill-opacity="0.2"/>
<ellipse cx="219.65" cy="99.86" rx="2" ry="2" fill="url(#gs)" fill-opacity="0.14"/>
<ellipse cx="231.5" cy="108.2" rx="6.5" ry="4" fill="url(#gs)" fill-opacity="0.3"/>
<ellipse cx="278.2" cy="75.2" rx="4" ry="4" fill="url(#gs)" fill-opacity="0.32"/>
<ellipse cx="268" cy="113" rx="2.6" ry="2.6" fill="url(#gs)" fill-opacity="0.16"/>
<ellipse cx="273" cy="118" rx="2.4" ry="2.4" fill="url(#gs)" fill-opacity="0.16"/>
</g></g>
<text x="183.5" y="37.9" font-family="'Liberation Sans',Arial,sans-serif" font-size="9.5" font-weight="bold" text-anchor="start" fill="#fff" textLength="54.2" lengthAdjust="spacingAndGlyphs" >Center view</text>
<rect x="253.2" y="34.2" width="22.7" height="120.5" fill="none" stroke="#22a043" stroke-width="1" stroke-dasharray="2.6 1.8"/>
<rect x="201.4" y="99.5" width="113.1" height="20.9" fill="none" stroke="#22a043" stroke-width="1" stroke-dasharray="2.6 1.8"/>
<rect x="253.5" y="99.5" width="22.9" height="20.4" fill="none" stroke="#e8e8e8" stroke-width="1.3" stroke-dasharray="3 1.5"/>
<line x1="253.5" y1="99.5" x2="340" y2="25.5" stroke="#ddd" stroke-width="1.1" stroke-dasharray="2.4 1.9"/>
<line x1="253.5" y1="119.9" x2="340" y2="186" stroke="#ddd" stroke-width="1.1" stroke-dasharray="2.4 1.9"/>
<rect x="280.5" y="182" width="31.8" height="3.2" fill="#fff"/>
<text x="284" y="180.8" font-family="'Liberation Serif','Times New Roman',serif" font-size="8.8" fill="#fff" textLength="27.8" lengthAdjust="spacingAndGlyphs">250 <tspan font-style="italic">μm</tspan></text>
<clipPath id="cpa3"><rect x="341" y="25" width="161" height="161.2"/></clipPath>
<g clip-path="url(#cpa3)"><g filter="url(#cmH)">
<rect x="341" y="25" width="161" height="161.2" fill="#000"/>
<rect x="341" y="25" width="161" height="161.2" fill="url(#bgR)"/>
<ellipse cx="376.3" cy="130.4" rx="9.5" ry="9.5" fill="url(#gs)" fill-opacity="0.27"/>
<ellipse cx="391.9" cy="123.7" rx="8" ry="8" fill="url(#gs)" fill-opacity="0.15"/>
<ellipse cx="484.3" cy="131" rx="9" ry="9" fill="url(#gs)" fill-opacity="0.21"/>
<ellipse cx="417.8" cy="148.3" rx="8" ry="8" fill="url(#gs)" fill-opacity="0.11"/>
<ellipse cx="418.6" cy="84.9" rx="9" ry="9" fill="url(#gs)" fill-opacity="0.1"/>
<ellipse cx="375.8" cy="43.5" rx="12" ry="12" fill="url(#gs)" fill-opacity="0.1"/>
<ellipse cx="358.7" cy="58" rx="10" ry="10" fill="url(#gs)" fill-opacity="0.06"/>
<ellipse cx="440" cy="110" rx="22" ry="22" fill="url(#gs)" fill-opacity="0.05"/>
<ellipse cx="400" cy="130" rx="20" ry="20" fill="url(#gs)" fill-opacity="0.04"/>
<ellipse cx="450" cy="140" rx="16" ry="16" fill="url(#gs)" fill-opacity="0.05"/>
<ellipse cx="432" cy="122" rx="55" ry="50" fill="url(#gs)" fill-opacity="0.05"/>
<ellipse cx="451.4" cy="103.3" rx="15" ry="15" fill="url(#gs)" fill-opacity="0.14"/>
<ellipse cx="451.4" cy="103.3" rx="9.5" ry="9.5" fill="url(#gs)" fill-opacity="0.18"/>
<ellipse cx="451.4" cy="103.3" rx="6.6" ry="6.6" fill="url(#gf)" fill-opacity="0.36"/>
<ellipse cx="430.3" cy="125.2" rx="15" ry="15" fill="url(#gs)" fill-opacity="0.14"/>
<ellipse cx="430.3" cy="125.2" rx="9.5" ry="9.5" fill="url(#gs)" fill-opacity="0.18"/>
<ellipse cx="430.3" cy="125.2" rx="6.6" ry="6.6" fill="url(#gf)" fill-opacity="0.3"/>
<ellipse cx="451.4" cy="145.6" rx="15" ry="15" fill="url(#gs)" fill-opacity="0.14"/>
<ellipse cx="451.4" cy="145.6" rx="9.5" ry="9.5" fill="url(#gs)" fill-opacity="0.18"/>
<ellipse cx="451.4" cy="145.6" rx="6.6" ry="6.6" fill="url(#gf)" fill-opacity="0.33"/>
</g></g>
<polygon points="380.9,50.9 388.1,60.3 381.3,62.5" fill="#fff"/>
<polygon points="422.9,65.4 429.4,68.3 422.2,77" fill="#fff"/>
<polygon points="462.4,98.6 474.2,91.9 474.6,97.5" fill="#fff"/>
<polygon points="381.7,107.2 388,105.3 389.6,115.8" fill="#fff"/>
<polygon points="466.3,133.1 473.4,141.7 467.9,144.5" fill="#fff"/>
<text x="386" y="71.3" font-family="'Liberation Sans',Arial,sans-serif" font-size="9.6" font-weight="bold" text-anchor="middle" fill="#fff" >3</text>
<text x="428.4" y="64.7" font-family="'Liberation Sans',Arial,sans-serif" font-size="9.6" font-weight="bold" text-anchor="middle" fill="#fff" >4</text>
<text x="478.9" y="97.1" font-family="'Liberation Sans',Arial,sans-serif" font-size="9.6" font-weight="bold" text-anchor="middle" fill="#fff" >1</text>
<text x="383.9" y="105" font-family="'Liberation Sans',Arial,sans-serif" font-size="9.6" font-weight="bold" text-anchor="middle" fill="#fff" >2</text>
<text x="472.6" y="152.7" font-family="'Liberation Sans',Arial,sans-serif" font-size="9.6" font-weight="bold" text-anchor="middle" fill="#fff" >5</text>
<text x="16.8" y="22.1" font-family="'Liberation Sans',Arial,sans-serif" font-size="18.8" font-weight="bold" text-anchor="start" fill="#000" textLength="10.2" lengthAdjust="spacingAndGlyphs" >a</text>
<text x="35.1" y="21.9" font-family="'Liberation Sans',Arial,sans-serif" font-size="10.4" font-weight="bold" text-anchor="start" fill="#000" textLength="16.2" lengthAdjust="spacingAndGlyphs" >CM</text>
<text x="51.6" y="17.8" font-family="'Liberation Sans',Arial,sans-serif" font-size="6.8" font-weight="bold" text-anchor="start" fill="#000" textLength="3.4" lengthAdjust="spacingAndGlyphs" >2</text>
<text x="59.6" y="21.9" font-family="'Liberation Sans',Arial,sans-serif" font-size="10.4" font-weight="bold" text-anchor="start" fill="#000" textLength="84.1" lengthAdjust="spacingAndGlyphs" >measurement of</text>
<text x="147.0" y="21.6" font-family="'Liberation Serif','Times New Roman',serif" font-size="11.2" font-weight="bold" font-style="italic" text-anchor="start" fill="#000" >l</text>
<text x="150.6" y="23.5" font-family="'Liberation Serif','Times New Roman',serif" font-size="7.6" font-weight="bold" font-style="italic" text-anchor="start" fill="#000" >s</text>
<text x="155.6" y="21.6" font-family="'Liberation Serif','Times New Roman',serif" font-size="11" font-weight="bold" text-anchor="start" fill="#000" textLength="7.4" lengthAdjust="spacingAndGlyphs" >=</text>
<text x="167" y="21.6" font-family="'Liberation Serif','Times New Roman',serif" font-size="10.8" font-weight="bold" text-anchor="start" fill="#000" textLength="18.8" lengthAdjust="spacingAndGlyphs" >279</text>
<text x="189.2" y="21.6" font-family="'Liberation Serif','Times New Roman',serif" font-size="10.8" font-weight="bold" font-style="italic" text-anchor="start" fill="#000" textLength="16.4" lengthAdjust="spacingAndGlyphs" >μm</text>
<text x="209.9" y="21.9" font-family="'Liberation Sans',Arial,sans-serif" font-size="10.4" font-weight="bold" text-anchor="start" fill="#000" textLength="46.2" lengthAdjust="spacingAndGlyphs" >phantom</text>
<text x="518.6" y="25.8" font-family="'Liberation Sans',Arial,sans-serif" font-size="17.8" font-weight="bold" text-anchor="start" fill="#000" textLength="11.6" lengthAdjust="spacingAndGlyphs" >b</text>
<line x1="557.5" y1="141.26" x2="813.5" y2="141.26" stroke="#d9d9d9" stroke-width="1"/>
<line x1="557.5" y1="116.02" x2="813.5" y2="116.02" stroke="#d9d9d9" stroke-width="1"/>
<line x1="557.5" y1="90.78" x2="813.5" y2="90.78" stroke="#d9d9d9" stroke-width="1"/>
<line x1="557.5" y1="65.54" x2="813.5" y2="65.54" stroke="#d9d9d9" stroke-width="1"/>
<line x1="557.5" y1="40.30" x2="813.5" y2="40.30" stroke="#d9d9d9" stroke-width="1"/>
<text x="552.2" y="169.80" font-family="'Liberation Sans',Arial,sans-serif" font-size="10.2" font-weight="normal" text-anchor="end" fill="#000" textLength="20.5" lengthAdjust="spacingAndGlyphs" >0.15</text>
<text x="552.2" y="144.56" font-family="'Liberation Sans',Arial,sans-serif" font-size="10.2" font-weight="normal" text-anchor="end" fill="#000" textLength="20.5" lengthAdjust="spacingAndGlyphs" >0.25</text>
<text x="552.2" y="119.32" font-family="'Liberation Sans',Arial,sans-serif" font-size="10.2" font-weight="normal" text-anchor="end" fill="#000" textLength="20.5" lengthAdjust="spacingAndGlyphs" >0.35</text>
<text x="552.2" y="94.08" font-family="'Liberation Sans',Arial,sans-serif" font-size="10.2" font-weight="normal" text-anchor="end" fill="#000" textLength="20.5" lengthAdjust="spacingAndGlyphs" >0.45</text>
<text x="552.2" y="68.84" font-family="'Liberation Sans',Arial,sans-serif" font-size="10.2" font-weight="normal" text-anchor="end" fill="#000" textLength="20.5" lengthAdjust="spacingAndGlyphs" >0.55</text>
<text x="552.2" y="43.60" font-family="'Liberation Sans',Arial,sans-serif" font-size="10.2" font-weight="normal" text-anchor="end" fill="#000" textLength="20.5" lengthAdjust="spacingAndGlyphs" >0.65</text>
<text x="557.6" y="176.6" font-family="'Liberation Sans',Arial,sans-serif" font-size="9.8" font-weight="normal" text-anchor="middle" fill="#000" >0</text>
<text x="585.4" y="176.6" font-family="'Liberation Sans',Arial,sans-serif" font-size="9.8" font-weight="normal" text-anchor="middle" fill="#000" >5</text>
<text x="618.8" y="176.6" font-family="'Liberation Sans',Arial,sans-serif" font-size="9.8" font-weight="normal" text-anchor="middle" fill="#000" >10</text>
<text x="657.6" y="176.6" font-family="'Liberation Sans',Arial,sans-serif" font-size="9.8" font-weight="normal" text-anchor="middle" fill="#000" >15</text>
<text x="695" y="176.6" font-family="'Liberation Sans',Arial,sans-serif" font-size="9.8" font-weight="normal" text-anchor="middle" fill="#000" >20</text>
<text x="733" y="176.6" font-family="'Liberation Sans',Arial,sans-serif" font-size="9.8" font-weight="normal" text-anchor="middle" fill="#000" >25</text>
<text x="771" y="176.6" font-family="'Liberation Sans',Arial,sans-serif" font-size="9.8" font-weight="normal" text-anchor="middle" fill="#000" >30</text>
<text x="809.8" y="176.6" font-family="'Liberation Sans',Arial,sans-serif" font-size="9.8" font-weight="normal" text-anchor="middle" fill="#000" >35</text>
<text x="653.2" y="185.4" font-family="'Liberation Sans',Arial,sans-serif" font-size="9.4" font-weight="bold" text-anchor="start" fill="#000" textLength="63.8" lengthAdjust="spacingAndGlyphs" >Distance (<tspan font-style="italic">μm</tspan>)</text>
<text x="0" y="0" font-family="'Liberation Sans',Arial,sans-serif" font-size="9.4" font-weight="bold" text-anchor="middle" fill="#000" textLength="118.5" lengthAdjust="spacingAndGlyphs" transform="translate(527.3 104.7) rotate(-90)">Normalized intensity (a.u.)</text>
<polyline points="557.2,154.5 574.7,152.0 592.2,150.0 609.7,149.5 627.2,149.5 644.7,148.7 662.2,147.5 679.7,146.1 697.2,146.4 714.7,147.9 732.2,150.2 749.7,150.6 767.2,149.5 784.7,148.6 802.2,146.5 814.0,144.4" fill="none" stroke="#ffc000" stroke-width="2.1" stroke-linejoin="round"/>
<polyline points="557.2,152.0 574.7,150.5 592.2,149.0 609.7,147.5 627.2,145.0 644.7,139.6 662.2,134.6 679.7,133.1 697.2,133.1 714.7,133.9 732.2,142.5 749.7,146.4 767.2,148.6 784.7,150.0 802.2,150.2 814.0,150.2" fill="none" stroke="#ed7d31" stroke-width="2.1" stroke-linejoin="round"/>
<polyline points="557.2,151.0 574.7,152.5 592.2,152.5 609.7,152.0 627.2,149.5 644.7,145.4 662.2,134.6 679.7,127.3 697.2,126.2 714.7,130.2 732.2,138.9 749.7,144.9 767.2,147.1 784.7,148.6 802.2,150.2 814.0,151.6" fill="none" stroke="#4472c4" stroke-width="2.1" stroke-linejoin="round"/>
<polyline points="557.2,148.7 574.7,151.5 592.2,152.5 609.7,153.3 627.2,154.2 644.7,151.0 662.2,142.5 679.7,133.9 697.2,129.5 714.7,138.2 732.2,148.6 749.7,151.4 767.2,152.2 784.7,155.6 802.2,155.2 814.0,157.2" fill="none" stroke="#ff0000" stroke-width="2.1" stroke-linejoin="round"/>
<polyline points="557.2,147.5 574.7,146.0 592.2,143.5 609.7,139.5 627.2,124.5 644.7,97.0 662.2,69.5 679.7,52.4 697.2,51.2 714.7,66.1 732.2,96.7 749.7,126.8 767.2,142.6 784.7,146.0 802.2,148.3 814.0,150.0" fill="none" stroke="#00b050" stroke-width="2.1" stroke-linejoin="round"/>
<line x1="556.8" y1="34.7" x2="556.8" y2="167.3" stroke="#000" stroke-width="1.6"/>
<line x1="556" y1="166.6" x2="814.5" y2="166.6" stroke="#000" stroke-width="1.7"/>
<rect x="739.5" y="34" width="78" height="71" fill="#fff"/>
<rect x="739.8" y="46.30" width="27.4" height="11.66" fill="#00b050"/>
<text x="753.6" y="54.90" font-family="'Liberation Sans',Arial,sans-serif" font-size="9" font-weight="bold" text-anchor="middle" fill="#000" >1</text>
<text x="780.3" y="54.90" font-family="'Liberation Sans',Arial,sans-serif" font-size="9" font-weight="bold" text-anchor="middle" fill="#000" textLength="17.8" lengthAdjust="spacingAndGlyphs" >2.66</text>
<text x="805.3" y="54.90" font-family="'Liberation Sans',Arial,sans-serif" font-size="9" font-weight="bold" text-anchor="middle" fill="#000" textLength="17.8" lengthAdjust="spacingAndGlyphs" >0.23</text>
<rect x="739.8" y="57.96" width="27.4" height="11.66" fill="#4472c4"/>
<text x="753.6" y="66.56" font-family="'Liberation Sans',Arial,sans-serif" font-size="9" font-weight="bold" text-anchor="middle" fill="#000" >2</text>
<text x="780.3" y="66.56" font-family="'Liberation Sans',Arial,sans-serif" font-size="9" font-weight="bold" text-anchor="middle" fill="#000" textLength="17.8" lengthAdjust="spacingAndGlyphs" >1.42</text>
<text x="805.3" y="66.56" font-family="'Liberation Sans',Arial,sans-serif" font-size="9" font-weight="bold" text-anchor="middle" fill="#000" textLength="17.8" lengthAdjust="spacingAndGlyphs" >0.56</text>
<rect x="739.8" y="69.62" width="27.4" height="11.66" fill="#ed7d31"/>
<text x="753.6" y="78.22" font-family="'Liberation Sans',Arial,sans-serif" font-size="9" font-weight="bold" text-anchor="middle" fill="#000" >3</text>
<text x="780.3" y="78.22" font-family="'Liberation Sans',Arial,sans-serif" font-size="9" font-weight="bold" text-anchor="middle" fill="#000" textLength="17.8" lengthAdjust="spacingAndGlyphs" >1.28</text>
<text x="805.3" y="78.22" font-family="'Liberation Sans',Arial,sans-serif" font-size="9" font-weight="bold" text-anchor="middle" fill="#000" textLength="17.8" lengthAdjust="spacingAndGlyphs" >1.00</text>
<rect x="739.8" y="81.28" width="27.4" height="11.66" fill="#ff0000"/>
<text x="753.6" y="89.88" font-family="'Liberation Sans',Arial,sans-serif" font-size="9" font-weight="bold" text-anchor="middle" fill="#000" >4</text>
<text x="780.3" y="89.88" font-family="'Liberation Sans',Arial,sans-serif" font-size="9" font-weight="bold" text-anchor="middle" fill="#000" textLength="17.8" lengthAdjust="spacingAndGlyphs" >1.26</text>
<text x="805.3" y="89.88" font-family="'Liberation Sans',Arial,sans-serif" font-size="9" font-weight="bold" text-anchor="middle" fill="#000" textLength="17.8" lengthAdjust="spacingAndGlyphs" >0.85</text>
<rect x="739.8" y="92.94" width="27.4" height="11.66" fill="#ffc000"/>
<text x="753.6" y="101.54" font-family="'Liberation Sans',Arial,sans-serif" font-size="9" font-weight="bold" text-anchor="middle" fill="#000" >5</text>
<text x="780.3" y="101.54" font-family="'Liberation Sans',Arial,sans-serif" font-size="9" font-weight="bold" text-anchor="middle" fill="#000" textLength="17.8" lengthAdjust="spacingAndGlyphs" >1.05</text>
<text x="805.3" y="101.54" font-family="'Liberation Sans',Arial,sans-serif" font-size="9" font-weight="bold" text-anchor="middle" fill="#000" textLength="17.8" lengthAdjust="spacingAndGlyphs" >0.25</text>
<text x="754.2" y="42.2" font-family="'Liberation Sans',Arial,sans-serif" font-size="8.6" font-weight="bold" text-anchor="middle" fill="#000" textLength="21.5" lengthAdjust="spacingAndGlyphs" >Bead</text>
<text x="780.0" y="42.2" font-family="'Liberation Sans',Arial,sans-serif" font-size="8.6" font-weight="bold" text-anchor="middle" fill="#000" textLength="18.2" lengthAdjust="spacingAndGlyphs" >SBR</text>
<text x="801.4" y="42.2" font-family="'Liberation Sans',Arial,sans-serif" font-size="8.6" font-weight="bold" text-anchor="start" fill="#000" >z/</text>
<text x="808.4" y="42.2" font-family="'Liberation Serif','Times New Roman',serif" font-size="9.6" font-weight="bold" font-style="italic" text-anchor="start" fill="#000" >l</text>
<text x="812.2" y="42.8" font-family="'Liberation Serif','Times New Roman',serif" font-size="7" font-weight="bold" font-style="italic" text-anchor="start" fill="#000" >s</text>
<line x1="767.8" y1="32.4" x2="767.8" y2="104.4" stroke="#000" stroke-width="1.4"/>
<line x1="792.4" y1="32.4" x2="792.4" y2="104.4" stroke="#000" stroke-width="1.4"/>
<line x1="739.5" y1="45.3" x2="817.4" y2="45.3" stroke="#000" stroke-width="2"/>
<text x="535.6" y="25.5" font-family="'Liberation Sans',Arial,sans-serif" font-size="9.6" font-weight="bold" text-anchor="start" fill="#000" textLength="235.9" lengthAdjust="spacingAndGlyphs" >Line profiles of individual beads from measurement</text>
<text x="14.4" y="208.0" font-family="'Liberation Sans',Arial,sans-serif" font-size="20.2" font-weight="bold" text-anchor="start" fill="#000" textLength="11.6" lengthAdjust="spacingAndGlyphs" >c</text>
<text x="35.2" y="207.9" font-family="'Liberation Sans',Arial,sans-serif" font-size="12.1" font-weight="bold" text-anchor="start" fill="#000" textLength="216.1" lengthAdjust="spacingAndGlyphs" >MIP Confocal scan vs reconstruction</text>
<clipPath id="cc1"><rect x="13.7" y="211" width="128.5" height="129.2"/></clipPath>
<g clip-path="url(#cc1)">
<rect x="13.7" y="211" width="128.5" height="129.2" fill="#000"/>
<rect x="82.93" y="224.14" width="1.43" height="1.43" fill="#d090c8" fill-opacity="0.44"/>
<rect x="87.51" y="318" width="1.49" height="1.49" fill="#8040d0" fill-opacity="0.33"/>
<rect x="132.13" y="281.72" width="1.46" height="1.46" fill="#8040d0" fill-opacity="0.42"/>
<rect x="69.85" y="299.07" width="1.28" height="1.28" fill="#f8e8f0" fill-opacity="0.44"/>
<rect x="63.97" y="288.48" width="1.43" height="1.43" fill="#f8e8f0" fill-opacity="0.7"/>
<rect x="64.1" y="276.21" width="1.05" height="1.05" fill="#d090c8" fill-opacity="0.49"/>
<rect x="111.07" y="285.49" width="1.55" height="1.55" fill="#f0c0e0" fill-opacity="0.91"/>
<rect x="69.88" y="232.49" width="1.13" height="1.13" fill="#d090c8" fill-opacity="0.44"/>
<rect x="62.49" y="289.26" width="1.03" height="1.03" fill="#f0c0e0" fill-opacity="0.9"/>
<rect x="16.83" y="281.25" width="1.5" height="1.5" fill="#3010a0" fill-opacity="0.4"/>
<rect x="33.91" y="311.25" width="1.28" height="1.28" fill="#e0a080" fill-opacity="0.44"/>
<rect x="49.67" y="225.85" width="1.36" height="1.36" fill="#d090c8" fill-opacity="0.42"/>
<rect x="91.43" y="259.81" width="0.92" height="0.92" fill="#d090c8" fill-opacity="0.61"/>
<rect x="129.71" y="275.51" width="1.35" height="1.35" fill="#3010a0" fill-opacity="0.46"/>
<rect x="107.45" y="283.28" width="1.5" height="1.5" fill="#ffe0e8" fill-opacity="0.67"/>
<rect x="120.47" y="267.92" width="1.54" height="1.54" fill="#3010a0" fill-opacity="0.39"/>
<rect x="71.75" y="233.02" width="1.47" height="1.47" fill="#8040d0" fill-opacity="0.62"/>
<rect x="74.66" y="280.61" width="1.56" height="1.56" fill="#3010a0" fill-opacity="0.34"/>
<rect x="42.72" y="268.45" width="1.47" height="1.47" fill="#3010a0" fill-opacity="0.41"/>
<rect x="75.61" y="280.38" width="1.22" height="1.22" fill="#f0c0e0" fill-opacity="0.75"/>
<rect x="91.12" y="307.65" width="0.96" height="0.96" fill="#3010a0" fill-opacity="0.33"/>
<rect x="129.9" y="256.94" width="1.37" height="1.37" fill="#f8e8f0" fill-opacity="0.87"/>
<rect x="85.98" y="281.73" width="1.09" height="1.09" fill="#f0c0e0" fill-opacity="0.57"/>
<rect x="100.5" y="332.63" width="1.01" height="1.01" fill="#d090c8" fill-opacity="0.41"/>
<rect x="74.35" y="306.16" width="1.39" height="1.39" fill="#e0a080" fill-opacity="0.49"/>
<rect x="70.04" y="300.38" width="1.03" height="1.03" fill="#d090c8" fill-opacity="0.58"/>
<rect x="19.31" y="277.27" width="1.2" height="1.2" fill="#ffe0e8" fill-opacity="0.88"/>
<rect x="82.69" y="282.06" width="1.25" height="1.25" fill="#ffe0e8" fill-opacity="0.63"/>
<rect x="133.97" y="272.84" width="1.26" height="1.26" fill="#e0a080" fill-opacity="0.71"/>
<rect x="38.57" y="311.63" width="1.36" height="1.36" fill="#3010a0" fill-opacity="0.54"/>
<rect x="115.49" y="318.81" width="1.11" height="1.11" fill="#ffe0e8" fill-opacity="0.84"/>
<rect x="66.59" y="309.63" width="1.19" height="1.19" fill="#d090c8" fill-opacity="0.73"/>
<rect x="82.13" y="277.06" width="1.05" height="1.05" fill="#f8e8f0" fill-opacity="0.74"/>
<rect x="116.58" y="239.85" width="1.26" height="1.26" fill="#f0c0e0" fill-opacity="0.8"/>
<rect x="88.02" y="316.12" width="1.31" height="1.31" fill="#e0a080" fill-opacity="0.75"/>
<rect x="31.72" y="319.26" width="1.13" height="1.13" fill="#3010a0" fill-opacity="0.43"/>
<rect x="89.44" y="272.65" width="1.5" height="1.5" fill="#f8e8f0" fill-opacity="0.51"/>
<rect x="64.1" y="287.62" width="1.49" height="1.49" fill="#d090c8" fill-opacity="0.7"/>
<rect x="74.4" y="286.38" width="1.24" height="1.24" fill="#f0c0e0" fill-opacity="0.79"/>
<rect x="82.14" y="283.44" width="1.28" height="1.28" fill="#ffe0e8" fill-opacity="0.49"/>
<rect x="42.29" y="279.68" width="1.14" height="1.14" fill="#d090c8" fill-opacity="0.55"/>
<rect x="32.14" y="245.91" width="0.99" height="0.99" fill="#e0a080" fill-opacity="0.75"/>
<rect x="97.42" y="285.87" width="1.59" height="1.59" fill="#f8e8f0" fill-opacity="0.63"/>
<rect x="94.47" y="295.46" width="1.16" height="1.16" fill="#3010a0" fill-opacity="0.53"/>
<rect x="103.54" y="295.41" width="1.11" height="1.11" fill="#d090c8" fill-opacity="0.55"/>
<rect x="94.7" y="268.33" width="1.48" height="1.48" fill="#f8e8f0" fill-opacity="0.84"/>
<rect x="120.57" y="308.65" width="1.45" height="1.45" fill="#f8e8f0" fill-opacity="0.86"/>
<rect x="31.02" y="252.5" width="1.02" height="1.02" fill="#ffe0e8" fill-opacity="0.46"/>
<rect x="120.7" y="313.2" width="1.28" height="1.28" fill="#8040d0" fill-opacity="0.63"/>
<rect x="30.83" y="265.61" width="0.97" height="0.97" fill="#e0a080" fill-opacity="0.57"/>
<rect x="90.31" y="281.81" width="1.12" height="1.12" fill="#d090c8" fill-opacity="0.72"/>
<rect x="114" y="296.36" width="1.58" height="1.58" fill="#d090c8" fill-opacity="0.84"/>
<rect x="56.76" y="261.6" width="1.23" height="1.23" fill="#3010a0" fill-opacity="0.56"/>
<rect x="84.95" y="306.61" width="0.96" height="0.96" fill="#ffe0e8" fill-opacity="0.53"/>
<rect x="19.78" y="300.77" width="1.14" height="1.14" fill="#e0a080" fill-opacity="0.61"/>
<rect x="136.94" y="296.55" width="1.49" height="1.49" fill="#ffe0e8" fill-opacity="0.56"/>
<rect x="69.24" y="278.5" width="0.96" height="0.96" fill="#3010a0" fill-opacity="0.54"/>
<rect x="32.55" y="313.26" width="0.95" height="0.95" fill="#d090c8" fill-opacity="0.64"/>
<rect x="65.47" y="328.8" width="1.23" height="1.23" fill="#f0c0e0" fill-opacity="0.62"/>
<rect x="99.3" y="296.67" width="0.95" height="0.95" fill="#f0c0e0" fill-opacity="0.84"/>
<rect x="102.77" y="278.64" width="1.11" height="1.11" fill="#f0c0e0" fill-opacity="0.88"/>
<rect x="102.1" y="240.04" width="1.53" height="1.53" fill="#3010a0" fill-opacity="0.37"/>
<rect x="135.99" y="292.73" width="1.34" height="1.34" fill="#d090c8" fill-opacity="0.77"/>
<rect x="121.22" y="264.96" width="1.11" height="1.11" fill="#e0a080" fill-opacity="0.45"/>
<rect x="86.85" y="270.59" width="0.95" height="0.95" fill="#ffe0e8" fill-opacity="0.53"/>
<rect x="64.46" y="277.4" width="0.91" height="0.91" fill="#f0c0e0" fill-opacity="0.71"/>
<rect x="95.3" y="313.19" width="1.35" height="1.35" fill="#8040d0" fill-opacity="0.32"/>
<rect x="121.29" y="298.87" width="1.32" height="1.32" fill="#d090c8" fill-opacity="0.65"/>
<rect x="67.66" y="341.6" width="1.33" height="1.33" fill="#3010a0" fill-opacity="0.4"/>
<rect x="72.73" y="280.04" width="1.54" height="1.54" fill="#3010a0" fill-opacity="0.56"/>
<rect x="72.52" y="294.13" width="1.06" height="1.06" fill="#e0a080" fill-opacity="0.57"/>
<rect x="116.7" y="255.38" width="1.35" height="1.35" fill="#e0a080" fill-opacity="0.48"/>
<rect x="61.46" y="279.78" width="1.44" height="1.44" fill="#d090c8" fill-opacity="0.46"/>
<rect x="71.56" y="296.74" width="1.29" height="1.29" fill="#e0a080" fill-opacity="0.49"/>
<rect x="27.35" y="292.4" width="1.53" height="1.53" fill="#f8e8f0" fill-opacity="0.87"/>
<rect x="77.94" y="298.4" width="1.4" height="1.4" fill="#ffe0e8" fill-opacity="0.87"/>
<rect x="69.65" y="281.26" width="1.14" height="1.14" fill="#8040d0" fill-opacity="0.59"/>
<rect x="74.83" y="256.03" width="0.96" height="0.96" fill="#f8e8f0" fill-opacity="0.7"/>
<rect x="76.38" y="261.36" width="1" height="1" fill="#f8e8f0" fill-opacity="0.93"/>
<rect x="70.38" y="257.34" width="1.07" height="1.07" fill="#8040d0" fill-opacity="0.64"/>
<rect x="113.45" y="266.96" width="1.54" height="1.54" fill="#8040d0" fill-opacity="0.47"/>
<rect x="29.23" y="284.7" width="1.32" height="1.32" fill="#ffe0e8" fill-opacity="0.46"/>
<rect x="72" y="301.44" width="1.29" height="1.29" fill="#ffe0e8" fill-opacity="0.59"/>
<rect x="117.39" y="288.72" width="1.08" height="1.08" fill="#3010a0" fill-opacity="0.35"/>
<rect x="85.32" y="303.74" width="1.08" height="1.08" fill="#d090c8" fill-opacity="0.66"/>
<rect x="97.86" y="229.55" width="1.24" height="1.24" fill="#ffe0e8" fill-opacity="0.67"/>
<rect x="78.86" y="273.82" width="1.04" height="1.04" fill="#3010a0" fill-opacity="0.56"/>
<rect x="72.88" y="278.62" width="1.58" height="1.58" fill="#f8e8f0" fill-opacity="0.71"/>
<rect x="81.83" y="280.36" width="1.16" height="1.16" fill="#ffe0e8" fill-opacity="0.44"/>
<rect x="80.32" y="238.03" width="1.21" height="1.21" fill="#d090c8" fill-opacity="0.38"/>
<rect x="50.39" y="301.23" width="1.3" height="1.3" fill="#f0c0e0" fill-opacity="0.81"/>
<rect x="34.1" y="321.01" width="1.09" height="1.09" fill="#3010a0" fill-opacity="0.27"/>
<rect x="105.85" y="229.88" width="1.55" height="1.55" fill="#3010a0" fill-opacity="0.34"/>
<rect x="119.18" y="263.93" width="1.11" height="1.11" fill="#e0a080" fill-opacity="0.79"/>
<rect x="30.1" y="271.57" width="1.37" height="1.37" fill="#d090c8" fill-opacity="0.63"/>
<rect x="46.58" y="333.37" width="1.41" height="1.41" fill="#3010a0" fill-opacity="0.46"/>
<rect x="77.86" y="263.07" width="1.07" height="1.07" fill="#8040d0" fill-opacity="0.7"/>
<rect x="77.71" y="279.41" width="1.56" height="1.56" fill="#ffe0e8" fill-opacity="0.72"/>
<rect x="81.49" y="275.95" width="1.44" height="1.44" fill="#f0c0e0" fill-opacity="0.47"/>
<rect x="95.69" y="224.47" width="1.28" height="1.28" fill="#8040d0" fill-opacity="0.65"/>
<rect x="21.68" y="286.49" width="1.09" height="1.09" fill="#8040d0" fill-opacity="0.51"/>
<rect x="121.15" y="301.22" width="0.91" height="0.91" fill="#f8e8f0" fill-opacity="0.77"/>
<rect x="55.95" y="224.87" width="1.09" height="1.09" fill="#8040d0" fill-opacity="0.56"/>
<rect x="81.61" y="325.91" width="0.95" height="0.95" fill="#d090c8" fill-opacity="0.51"/>
<rect x="48.68" y="278.88" width="1.11" height="1.11" fill="#e0a080" fill-opacity="0.38"/>
<rect x="82.31" y="280.9" width="1.33" height="1.33" fill="#3010a0" fill-opacity="0.36"/>
<rect x="99.77" y="322.02" width="1.33" height="1.33" fill="#f0c0e0" fill-opacity="0.56"/>
<rect x="78.09" y="283.34" width="1.53" height="1.53" fill="#e0a080" fill-opacity="0.37"/>
<rect x="46.28" y="295.5" width="1.09" height="1.09" fill="#f0c0e0" fill-opacity="0.56"/>
<rect x="114.57" y="242.56" width="1.54" height="1.54" fill="#3010a0" fill-opacity="0.42"/>
<rect x="44.64" y="254.71" width="1.01" height="1.01" fill="#d090c8" fill-opacity="0.6"/>
<rect x="68.37" y="305.43" width="1.4" height="1.4" fill="#8040d0" fill-opacity="0.41"/>
<rect x="70.94" y="300.43" width="1.12" height="1.12" fill="#f8e8f0" fill-opacity="0.55"/>
<rect x="81.3" y="272.59" width="1.05" height="1.05" fill="#f8e8f0" fill-opacity="0.89"/>
<rect x="98.62" y="233.25" width="1.36" height="1.36" fill="#3010a0" fill-opacity="0.42"/>
<rect x="100.67" y="323.93" width="1.25" height="1.25" fill="#ffe0e8" fill-opacity="0.6"/>
<rect x="80.92" y="306.29" width="1.28" height="1.28" fill="#f0c0e0" fill-opacity="0.58"/>
<rect x="75.94" y="322.62" width="1.54" height="1.54" fill="#8040d0" fill-opacity="0.54"/>
<rect x="80.5" y="281.75" width="1.24" height="1.24" fill="#f0c0e0" fill-opacity="0.43"/>
<rect x="82.91" y="294.88" width="1.43" height="1.43" fill="#ffe0e8" fill-opacity="0.84"/>
<rect x="136.99" y="286.64" width="1.28" height="1.28" fill="#ffe0e8" fill-opacity="0.84"/>
<rect x="105.44" y="295.98" width="1.53" height="1.53" fill="#e0a080" fill-opacity="0.73"/>
<rect x="86.24" y="268.12" width="1.45" height="1.45" fill="#f8e8f0" fill-opacity="0.92"/>
<rect x="50.97" y="281.06" width="1.38" height="1.38" fill="#ffe0e8" fill-opacity="0.77"/>
<rect x="67.17" y="263.2" width="1.09" height="1.09" fill="#8040d0" fill-opacity="0.44"/>
<rect x="79.42" y="330.41" width="1.31" height="1.31" fill="#3010a0" fill-opacity="0.58"/>
<rect x="33.18" y="263.17" width="1.53" height="1.53" fill="#3010a0" fill-opacity="0.59"/>
<rect x="67.14" y="236.84" width="1.36" height="1.36" fill="#3010a0" fill-opacity="0.41"/>
<rect x="78.03" y="278.91" width="0.97" height="0.97" fill="#d090c8" fill-opacity="0.47"/>
<rect x="52.85" y="293.21" width="0.96" height="0.96" fill="#f8e8f0" fill-opacity="0.46"/>
<rect x="29.43" y="290.53" width="1.12" height="1.12" fill="#d090c8" fill-opacity="0.43"/>
<rect x="72.2" y="271.31" width="1.53" height="1.53" fill="#8040d0" fill-opacity="0.61"/>
<rect x="71.34" y="333.79" width="0.96" height="0.96" fill="#d090c8" fill-opacity="0.76"/>
<rect x="73.8" y="242.8" width="1.08" height="1.08" fill="#d090c8" fill-opacity="0.73"/>
<rect x="68.7" y="261.93" width="1.07" height="1.07" fill="#f8e8f0" fill-opacity="0.65"/>
<rect x="59.17" y="311.24" width="1.53" height="1.53" fill="#f0c0e0" fill-opacity="0.63"/>
<rect x="86.82" y="260.49" width="1.4" height="1.4" fill="#3010a0" fill-opacity="0.6"/>
<rect x="87.22" y="274.01" width="1.42" height="1.42" fill="#f0c0e0" fill-opacity="0.95"/>
<rect x="60.61" y="315.55" width="1.3" height="1.3" fill="#8040d0" fill-opacity="0.45"/>
<rect x="45.41" y="235.49" width="1.12" height="1.12" fill="#d090c8" fill-opacity="0.58"/>
<rect x="24.78" y="274.25" width="1" height="1" fill="#f8e8f0" fill-opacity="0.7"/>
<rect x="61.26" y="313.56" width="1.22" height="1.22" fill="#d090c8" fill-opacity="0.65"/>
<rect x="50.54" y="312.49" width="1.47" height="1.47" fill="#e0a080" fill-opacity="0.79"/>
<rect x="110.65" y="317.84" width="1.5" height="1.5" fill="#3010a0" fill-opacity="0.43"/>
<rect x="50.53" y="267.27" width="1.56" height="1.56" fill="#d090c8" fill-opacity="0.55"/>
<rect x="39.63" y="289.69" width="1.02" height="1.02" fill="#d090c8" fill-opacity="0.63"/>
<rect x="30.55" y="261.25" width="1.19" height="1.19" fill="#f8e8f0" fill-opacity="0.52"/>
<rect x="102.86" y="289.1" width="1.38" height="1.38" fill="#f8e8f0" fill-opacity="0.94"/>
<rect x="75.06" y="279.59" width="0.95" height="0.95" fill="#e0a080" fill-opacity="0.39"/>
<rect x="71.13" y="272.34" width="1.2" height="1.2" fill="#ffe0e8" fill-opacity="0.66"/>
<rect x="19.39" y="285.92" width="1.52" height="1.52" fill="#f0c0e0" fill-opacity="0.58"/>
<rect x="123.08" y="245.01" width="1.16" height="1.16" fill="#8040d0" fill-opacity="0.49"/>
<rect x="89.97" y="286.88" width="1.08" height="1.08" fill="#f0c0e0" fill-opacity="0.95"/>
<rect x="84.82" y="227.86" width="0.95" height="0.95" fill="#3010a0" fill-opacity="0.56"/>
<rect x="38.97" y="260.09" width="1.5" height="1.5" fill="#8040d0" fill-opacity="0.33"/>
<rect x="69.76" y="306.72" width="1.28" height="1.28" fill="#e0a080" fill-opacity="0.64"/>
<rect x="45.13" y="278.42" width="1.44" height="1.44" fill="#e0a080" fill-opacity="0.5"/>
<rect x="65.47" y="341.52" width="1.47" height="1.47" fill="#8040d0" fill-opacity="0.52"/>
<rect x="64.99" y="315.27" width="1.21" height="1.21" fill="#d090c8" fill-opacity="0.44"/>
<rect x="131.8" y="272.31" width="1.6" height="1.6" fill="#d090c8" fill-opacity="0.68"/>
<rect x="56.2" y="271.42" width="1.1" height="1.1" fill="#d090c8" fill-opacity="0.58"/>
<rect x="131.37" y="287.17" width="1.49" height="1.49" fill="#f8e8f0" fill-opacity="0.91"/>
<rect x="90.01" y="240.49" width="1.5" height="1.5" fill="#d090c8" fill-opacity="0.68"/>
<rect x="35.48" y="285.37" width="0.91" height="0.91" fill="#ffe0e8" fill-opacity="0.61"/>
<rect x="97.83" y="256.36" width="1.56" height="1.56" fill="#3010a0" fill-opacity="0.53"/>
<rect x="64.06" y="339.44" width="1.2" height="1.2" fill="#8040d0" fill-opacity="0.58"/>
<rect x="42.08" y="284.22" width="1.56" height="1.56" fill="#e0a080" fill-opacity="0.73"/>
<rect x="115.16" y="296.92" width="1.06" height="1.06" fill="#ffe0e8" fill-opacity="0.88"/>
<rect x="47.05" y="284.95" width="1.41" height="1.41" fill="#f8e8f0" fill-opacity="0.64"/>
<rect x="114.12" y="280.04" width="1.2" height="1.2" fill="#3010a0" fill-opacity="0.34"/>
<rect x="122.74" y="258.56" width="1.19" height="1.19" fill="#e0a080" fill-opacity="0.6"/>
<rect x="75.95" y="302.26" width="1.46" height="1.46" fill="#d090c8" fill-opacity="0.47"/>
<rect x="99.65" y="287.69" width="0.96" height="0.96" fill="#ffe0e8" fill-opacity="0.74"/>
<rect x="64.09" y="329.75" width="1.18" height="1.18" fill="#3010a0" fill-opacity="0.43"/>
<rect x="103.42" y="315.58" width="1.04" height="1.04" fill="#3010a0" fill-opacity="0.57"/>
<rect x="108.5" y="255.09" width="1.24" height="1.24" fill="#3010a0" fill-opacity="0.37"/>
<rect x="79.25" y="260.34" width="0.97" height="0.97" fill="#d090c8" fill-opacity="0.79"/>
<rect x="77.22" y="275.07" width="1.58" height="1.58" fill="#d090c8" fill-opacity="0.82"/>
<rect x="35.59" y="297.72" width="0.97" height="0.97" fill="#f0c0e0" fill-opacity="0.9"/>
<rect x="78.74" y="313.23" width="1.04" height="1.04" fill="#ffe0e8" fill-opacity="0.47"/>
<rect x="124.46" y="269.08" width="1.26" height="1.26" fill="#3010a0" fill-opacity="0.55"/>
<rect x="76.46" y="285.21" width="1.16" height="1.16" fill="#8040d0" fill-opacity="0.4"/>
<rect x="49.6" y="258.77" width="1.31" height="1.31" fill="#ffe0e8" fill-opacity="0.77"/>
<rect x="54.04" y="280.41" width="1.35" height="1.35" fill="#3010a0" fill-opacity="0.5"/>
<rect x="105.31" y="258.83" width="1.24" height="1.24" fill="#d090c8" fill-opacity="0.67"/>
<rect x="59.37" y="225.65" width="1.28" height="1.28" fill="#ffe0e8" fill-opacity="0.45"/>
<rect x="84.46" y="323.97" width="1.36" height="1.36" fill="#ffe0e8" fill-opacity="0.65"/>
<rect x="83.28" y="245.91" width="1.33" height="1.33" fill="#f0c0e0" fill-opacity="0.59"/>
<rect x="65.6" y="254.37" width="1.32" height="1.32" fill="#f0c0e0" fill-opacity="0.61"/>
<rect x="73.47" y="289.27" width="1.53" height="1.53" fill="#ffe0e8" fill-opacity="0.46"/>
</g>
<clipPath id="cc2"><rect x="145" y="211" width="129" height="129.5"/></clipPath>
<g clip-path="url(#cc2)">
<rect x="145" y="211" width="129" height="129.5" fill="#000"/>
<rect x="218.35" y="287.93" width="1.37" height="1.37" fill="#a040c0" fill-opacity="0.6"/>
<rect x="173.42" y="253.96" width="1.6" height="1.6" fill="#301090" fill-opacity="0.49"/>
<rect x="244.34" y="241.6" width="1.28" height="1.28" fill="#301090" fill-opacity="0.58"/>
<rect x="240.29" y="289.95" width="1.55" height="1.55" fill="#e090e0" fill-opacity="0.52"/>
<rect x="207.08" y="284.52" width="1.02" height="1.02" fill="#301090" fill-opacity="0.32"/>
<rect x="221.65" y="305.37" width="1.6" height="1.6" fill="#301090" fill-opacity="0.44"/>
<rect x="230.07" y="267.13" width="1.53" height="1.53" fill="#e0b0a0" fill-opacity="0.68"/>
<rect x="216.88" y="282.17" width="1.43" height="1.43" fill="#e0b0a0" fill-opacity="0.43"/>
<rect x="183.63" y="289.53" width="1.1" height="1.1" fill="#301090" fill-opacity="0.35"/>
<rect x="222.33" y="241.73" width="1.22" height="1.22" fill="#e0b0a0" fill-opacity="0.76"/>
<rect x="200.55" y="226.22" width="1.56" height="1.56" fill="#e0b0a0" fill-opacity="0.65"/>
<rect x="186.73" y="262.14" width="1.57" height="1.57" fill="#e0b0a0" fill-opacity="0.5"/>
<rect x="157.19" y="281.59" width="1.33" height="1.33" fill="#301090" fill-opacity="0.44"/>
<rect x="158.83" y="286.58" width="1.34" height="1.34" fill="#5020b0" fill-opacity="0.58"/>
<rect x="201.81" y="229.27" width="0.97" height="0.97" fill="#a040c0" fill-opacity="0.7"/>
<rect x="198.87" y="275.77" width="1" height="1" fill="#e090e0" fill-opacity="0.69"/>
<rect x="261.1" y="264.08" width="1.4" height="1.4" fill="#e090e0" fill-opacity="0.55"/>
<rect x="227.03" y="314.85" width="1.57" height="1.57" fill="#e090e0" fill-opacity="0.4"/>
<rect x="260.79" y="289.79" width="1.56" height="1.56" fill="#5020b0" fill-opacity="0.31"/>
<rect x="208.44" y="282.02" width="0.93" height="0.93" fill="#a040c0" fill-opacity="0.37"/>
<rect x="207.76" y="235.99" width="1.24" height="1.24" fill="#e090e0" fill-opacity="0.49"/>
<rect x="174.82" y="255.66" width="1.43" height="1.43" fill="#e090e0" fill-opacity="0.76"/>
<rect x="209.93" y="282.74" width="0.97" height="0.97" fill="#e0b0a0" fill-opacity="0.78"/>
<rect x="264.3" y="291.32" width="1.45" height="1.45" fill="#a040c0" fill-opacity="0.51"/>
<rect x="234.21" y="258.61" width="1.32" height="1.32" fill="#5020b0" fill-opacity="0.36"/>
<rect x="202.47" y="280.13" width="1.08" height="1.08" fill="#a040c0" fill-opacity="0.57"/>
<rect x="186.27" y="290.16" width="1.59" height="1.59" fill="#a040c0" fill-opacity="0.51"/>
<rect x="189.49" y="290.43" width="1.06" height="1.06" fill="#5020b0" fill-opacity="0.3"/>
<rect x="209.47" y="282.47" width="1.2" height="1.2" fill="#5020b0" fill-opacity="0.35"/>
<rect x="214.06" y="283.92" width="1.26" height="1.26" fill="#e0b0a0" fill-opacity="0.43"/>
<rect x="229.01" y="285.38" width="0.92" height="0.92" fill="#a040c0" fill-opacity="0.36"/>
<rect x="170.58" y="274.05" width="1.53" height="1.53" fill="#e0b0a0" fill-opacity="0.45"/>
<rect x="205.79" y="282.7" width="1.52" height="1.52" fill="#301090" fill-opacity="0.47"/>
<rect x="182.34" y="267.49" width="1.24" height="1.24" fill="#e090e0" fill-opacity="0.65"/>
<rect x="253.22" y="322.87" width="1.59" height="1.59" fill="#5020b0" fill-opacity="0.37"/>
<rect x="206.72" y="275.39" width="1.04" height="1.04" fill="#e090e0" fill-opacity="0.41"/>
<rect x="233.27" y="292.21" width="1.52" height="1.52" fill="#e0b0a0" fill-opacity="0.56"/>
<rect x="214.33" y="283.66" width="0.95" height="0.95" fill="#5020b0" fill-opacity="0.58"/>
<rect x="227.3" y="328.65" width="1.4" height="1.4" fill="#301090" fill-opacity="0.39"/>
<rect x="236.82" y="260.14" width="0.96" height="0.96" fill="#5020b0" fill-opacity="0.31"/>
<rect x="193.04" y="238" width="1.23" height="1.23" fill="#e090e0" fill-opacity="0.63"/>
<rect x="197.24" y="331.76" width="1.16" height="1.16" fill="#e0b0a0" fill-opacity="0.42"/>
<rect x="199.38" y="228.19" width="1.49" height="1.49" fill="#e0b0a0" fill-opacity="0.77"/>
<rect x="181.2" y="285.03" width="1.39" height="1.39" fill="#5020b0" fill-opacity="0.45"/>
<rect x="207.58" y="265.75" width="1.15" height="1.15" fill="#301090" fill-opacity="0.3"/>
<rect x="245.65" y="329.86" width="1.46" height="1.46" fill="#e0b0a0" fill-opacity="0.76"/>
<rect x="232.22" y="288.34" width="1.4" height="1.4" fill="#5020b0" fill-opacity="0.4"/>
<rect x="186.24" y="326.6" width="0.98" height="0.98" fill="#a040c0" fill-opacity="0.52"/>
<rect x="212.11" y="224.56" width="1.07" height="1.07" fill="#e090e0" fill-opacity="0.5"/>
<rect x="223.56" y="303.65" width="1.6" height="1.6" fill="#a040c0" fill-opacity="0.47"/>
<rect x="195.99" y="288.43" width="1.17" height="1.17" fill="#e090e0" fill-opacity="0.72"/>
<rect x="204.16" y="287.66" width="1.18" height="1.18" fill="#e090e0" fill-opacity="0.57"/>
<rect x="167.41" y="290.44" width="1.42" height="1.42" fill="#301090" fill-opacity="0.38"/>
<rect x="241.32" y="241.04" width="1.03" height="1.03" fill="#a040c0" fill-opacity="0.52"/>
<rect x="196.55" y="295.23" width="1.27" height="1.27" fill="#e090e0" fill-opacity="0.5"/>
<rect x="225.2" y="293.25" width="1.41" height="1.41" fill="#e0b0a0" fill-opacity="0.78"/>
<rect x="252.74" y="245.15" width="1.29" height="1.29" fill="#e090e0" fill-opacity="0.53"/>
<rect x="209.4" y="286.89" width="1.24" height="1.24" fill="#301090" fill-opacity="0.46"/>
<rect x="207.61" y="278.02" width="1.3" height="1.3" fill="#e0b0a0" fill-opacity="0.47"/>
<rect x="236.58" y="277.37" width="1.53" height="1.53" fill="#e090e0" fill-opacity="0.51"/>
<rect x="254.99" y="302.62" width="1.37" height="1.37" fill="#301090" fill-opacity="0.43"/>
<rect x="179.01" y="282.44" width="1.33" height="1.33" fill="#e090e0" fill-opacity="0.79"/>
<rect x="258.44" y="263.29" width="1.34" height="1.34" fill="#e0b0a0" fill-opacity="0.47"/>
<rect x="208.1" y="283.01" width="1.01" height="1.01" fill="#e0b0a0" fill-opacity="0.66"/>
<rect x="251.02" y="283.47" width="1.17" height="1.17" fill="#e090e0" fill-opacity="0.6"/>
<rect x="189.91" y="335.25" width="1.28" height="1.28" fill="#a040c0" fill-opacity="0.5"/>
<rect x="218.7" y="287.55" width="1.35" height="1.35" fill="#5020b0" fill-opacity="0.37"/>
<rect x="219.22" y="268.61" width="1.05" height="1.05" fill="#e090e0" fill-opacity="0.58"/>
<rect x="242.61" y="327.61" width="1.12" height="1.12" fill="#301090" fill-opacity="0.48"/>
<rect x="214.55" y="323.33" width="0.98" height="0.98" fill="#5020b0" fill-opacity="0.29"/>
<rect x="243.05" y="241.26" width="0.95" height="0.95" fill="#a040c0" fill-opacity="0.44"/>
<rect x="187.13" y="291.73" width="0.99" height="0.99" fill="#5020b0" fill-opacity="0.42"/>
<rect x="234.58" y="281.56" width="1.13" height="1.13" fill="#a040c0" fill-opacity="0.67"/>
<rect x="220.85" y="310.18" width="1" height="1" fill="#5020b0" fill-opacity="0.33"/>
<rect x="180.46" y="273.28" width="1.48" height="1.48" fill="#e0b0a0" fill-opacity="0.54"/>
<rect x="260.25" y="257.75" width="1.41" height="1.41" fill="#301090" fill-opacity="0.46"/>
<rect x="201.45" y="246.06" width="1.35" height="1.35" fill="#5020b0" fill-opacity="0.45"/>
<rect x="176.84" y="286.35" width="1.15" height="1.15" fill="#5020b0" fill-opacity="0.59"/>
<rect x="232.05" y="335.25" width="0.92" height="0.92" fill="#e0b0a0" fill-opacity="0.42"/>
<rect x="241.25" y="265.21" width="1.12" height="1.12" fill="#e0b0a0" fill-opacity="0.36"/>
<rect x="179.57" y="289.03" width="1.04" height="1.04" fill="#a040c0" fill-opacity="0.45"/>
<rect x="222.48" y="225.22" width="1.19" height="1.19" fill="#5020b0" fill-opacity="0.35"/>
<rect x="210.78" y="318.12" width="0.93" height="0.93" fill="#a040c0" fill-opacity="0.6"/>
<rect x="197.45" y="266.19" width="1" height="1" fill="#301090" fill-opacity="0.29"/>
<rect x="241.65" y="317.91" width="0.98" height="0.98" fill="#301090" fill-opacity="0.46"/>
<rect x="258.77" y="269.61" width="1.17" height="1.17" fill="#a040c0" fill-opacity="0.7"/>
<rect x="190.75" y="326.12" width="1.31" height="1.31" fill="#301090" fill-opacity="0.47"/>
<rect x="269.4" y="278.85" width="1.17" height="1.17" fill="#e0b0a0" fill-opacity="0.43"/>
<rect x="156.36" y="299.94" width="1.56" height="1.56" fill="#301090" fill-opacity="0.31"/>
<rect x="260.75" y="309.8" width="1.4" height="1.4" fill="#5020b0" fill-opacity="0.42"/>
<rect x="219.02" y="331.23" width="1.37" height="1.37" fill="#e090e0" fill-opacity="0.42"/>
<rect x="175.04" y="235.3" width="1.23" height="1.23" fill="#e090e0" fill-opacity="0.74"/>
<rect x="232" y="287.25" width="0.93" height="0.93" fill="#301090" fill-opacity="0.45"/>
<rect x="211.86" y="278.65" width="1.51" height="1.51" fill="#5020b0" fill-opacity="0.5"/>
<rect x="238.47" y="314" width="1.23" height="1.23" fill="#e090e0" fill-opacity="0.47"/>
<rect x="193.4" y="268.18" width="1.35" height="1.35" fill="#e0b0a0" fill-opacity="0.51"/>
<rect x="152.67" y="274.11" width="1.48" height="1.48" fill="#a040c0" fill-opacity="0.51"/>
<rect x="237.15" y="335.04" width="1.2" height="1.2" fill="#a040c0" fill-opacity="0.43"/>
<rect x="221.18" y="246.83" width="1.23" height="1.23" fill="#e090e0" fill-opacity="0.61"/>
<rect x="262.31" y="278.67" width="1" height="1" fill="#a040c0" fill-opacity="0.48"/>
<rect x="194.49" y="271.44" width="1.17" height="1.17" fill="#a040c0" fill-opacity="0.4"/>
<rect x="232.05" y="286.28" width="1.23" height="1.23" fill="#5020b0" fill-opacity="0.5"/>
<rect x="233.36" y="235.73" width="0.93" height="0.93" fill="#a040c0" fill-opacity="0.55"/>
<rect x="197.02" y="268.12" width="1.43" height="1.43" fill="#301090" fill-opacity="0.57"/>
<rect x="243.61" y="246.36" width="1.01" height="1.01" fill="#5020b0" fill-opacity="0.59"/>
<rect x="241.87" y="239" width="1.19" height="1.19" fill="#301090" fill-opacity="0.46"/>
<rect x="161.06" y="297.1" width="1.41" height="1.41" fill="#e090e0" fill-opacity="0.64"/>
<rect x="207.76" y="314.01" width="1.42" height="1.42" fill="#e0b0a0" fill-opacity="0.62"/>
<rect x="207.21" y="284.32" width="1.45" height="1.45" fill="#a040c0" fill-opacity="0.58"/>
<rect x="187.09" y="316.34" width="1.33" height="1.33" fill="#e0b0a0" fill-opacity="0.63"/>
<rect x="211.33" y="243" width="0.95" height="0.95" fill="#301090" fill-opacity="0.38"/>
<rect x="163.29" y="291.51" width="1.3" height="1.3" fill="#301090" fill-opacity="0.49"/>
<rect x="249.46" y="240.51" width="1.11" height="1.11" fill="#301090" fill-opacity="0.55"/>
<rect x="228" y="336.01" width="1.27" height="1.27" fill="#5020b0" fill-opacity="0.29"/>
<rect x="235.67" y="295.47" width="0.91" height="0.91" fill="#e0b0a0" fill-opacity="0.73"/>
<rect x="222.75" y="300.67" width="1.4" height="1.4" fill="#301090" fill-opacity="0.52"/>
<rect x="202.69" y="322.45" width="1.46" height="1.46" fill="#e090e0" fill-opacity="0.58"/>
<rect x="237.87" y="322.01" width="1.5" height="1.5" fill="#5020b0" fill-opacity="0.55"/>
<rect x="251.73" y="261" width="1.39" height="1.39" fill="#5020b0" fill-opacity="0.47"/>
<rect x="216.69" y="311.29" width="1.07" height="1.07" fill="#e090e0" fill-opacity="0.48"/>
</g>
<clipPath id="cc3"><rect x="13.7" y="342.2" width="128.5" height="129.5"/></clipPath>
<g clip-path="url(#cc3)">
<rect x="13.7" y="342.2" width="128.5" height="129.5" fill="#000"/>
<rect x="47.71" y="442.28" width="1.31" height="1.31" fill="#e070c0" fill-opacity="0.43"/>
<rect x="21.87" y="420.99" width="1.6" height="1.6" fill="#e070c0" fill-opacity="0.35"/>
<rect x="23.73" y="418.13" width="1.01" height="1.01" fill="#5020b0" fill-opacity="0.35"/>
<rect x="78.69" y="406.02" width="1.31" height="1.31" fill="#5020b0" fill-opacity="0.52"/>
<rect x="85.01" y="402.1" width="1.54" height="1.54" fill="#301090" fill-opacity="0.43"/>
<rect x="30.25" y="433.61" width="1.55" height="1.55" fill="#e070c0" fill-opacity="0.42"/>
<rect x="80.74" y="411.92" width="1.08" height="1.08" fill="#5020b0" fill-opacity="0.43"/>
<rect x="110.51" y="368.2" width="1.17" height="1.17" fill="#301090" fill-opacity="0.4"/>
<rect x="38.39" y="386.83" width="1.55" height="1.55" fill="#c040d0" fill-opacity="0.58"/>
<rect x="101.2" y="448.18" width="1.53" height="1.53" fill="#c040d0" fill-opacity="0.69"/>
<rect x="90.26" y="459.19" width="0.99" height="0.99" fill="#e070c0" fill-opacity="0.36"/>
<rect x="30.3" y="414.96" width="1.19" height="1.19" fill="#c040d0" fill-opacity="0.62"/>
<rect x="81.83" y="377.7" width="1.33" height="1.33" fill="#9030c0" fill-opacity="0.33"/>
<rect x="53.24" y="454.42" width="1.6" height="1.6" fill="#c040d0" fill-opacity="0.51"/>
<rect x="64.52" y="400.24" width="1.58" height="1.58" fill="#9030c0" fill-opacity="0.68"/>
<rect x="66.61" y="381.39" width="1.57" height="1.57" fill="#c040d0" fill-opacity="0.44"/>
<rect x="76.18" y="411.76" width="1.17" height="1.17" fill="#301090" fill-opacity="0.51"/>
<rect x="83.78" y="409" width="1.34" height="1.34" fill="#e070c0" fill-opacity="0.36"/>
<rect x="89.67" y="405.07" width="1.26" height="1.26" fill="#301090" fill-opacity="0.54"/>
<rect x="72.47" y="413.26" width="1.16" height="1.16" fill="#e070c0" fill-opacity="0.37"/>
<rect x="63.36" y="393.71" width="1.38" height="1.38" fill="#c040d0" fill-opacity="0.49"/>
<rect x="74.2" y="359.69" width="1.57" height="1.57" fill="#9030c0" fill-opacity="0.54"/>
<rect x="52.7" y="383.75" width="1.12" height="1.12" fill="#c040d0" fill-opacity="0.54"/>
<rect x="55.17" y="434.58" width="1.45" height="1.45" fill="#e070c0" fill-opacity="0.36"/>
<rect x="131.23" y="400.31" width="1.06" height="1.06" fill="#5020b0" fill-opacity="0.37"/>
<rect x="76.74" y="410.54" width="1.13" height="1.13" fill="#9030c0" fill-opacity="0.35"/>
<rect x="27.27" y="430.67" width="1.42" height="1.42" fill="#5020b0" fill-opacity="0.3"/>
<rect x="72.16" y="454.86" width="1.57" height="1.57" fill="#9030c0" fill-opacity="0.33"/>
<rect x="29.09" y="385.15" width="1.48" height="1.48" fill="#c040d0" fill-opacity="0.45"/>
<rect x="38.05" y="384.83" width="1.46" height="1.46" fill="#301090" fill-opacity="0.34"/>
<rect x="47.39" y="427.61" width="0.92" height="0.92" fill="#301090" fill-opacity="0.42"/>
<rect x="51.47" y="413.8" width="1.2" height="1.2" fill="#e070c0" fill-opacity="0.6"/>
<rect x="95.3" y="401.5" width="1.22" height="1.22" fill="#5020b0" fill-opacity="0.28"/>
<rect x="77.07" y="409.74" width="1.5" height="1.5" fill="#5020b0" fill-opacity="0.55"/>
<rect x="121.74" y="451.07" width="1.53" height="1.53" fill="#5020b0" fill-opacity="0.28"/>
<rect x="123.91" y="375.1" width="0.91" height="0.91" fill="#301090" fill-opacity="0.42"/>
<rect x="71.78" y="399.8" width="0.94" height="0.94" fill="#e070c0" fill-opacity="0.45"/>
<rect x="94.89" y="424.62" width="1.5" height="1.5" fill="#5020b0" fill-opacity="0.35"/>
<rect x="46.31" y="452.57" width="1.52" height="1.52" fill="#5020b0" fill-opacity="0.31"/>
<rect x="73.63" y="439.03" width="0.91" height="0.91" fill="#5020b0" fill-opacity="0.54"/>
<rect x="131" y="427.2" width="1.33" height="1.33" fill="#c040d0" fill-opacity="0.41"/>
<rect x="71.99" y="422.14" width="1.44" height="1.44" fill="#9030c0" fill-opacity="0.64"/>
<rect x="64.68" y="411.44" width="0.96" height="0.96" fill="#9030c0" fill-opacity="0.64"/>
<rect x="64.69" y="440.99" width="1.17" height="1.17" fill="#c040d0" fill-opacity="0.46"/>
<rect x="108.8" y="407.67" width="1.29" height="1.29" fill="#301090" fill-opacity="0.28"/>
<rect x="81.88" y="418.05" width="1.36" height="1.36" fill="#c040d0" fill-opacity="0.49"/>
<rect x="124.1" y="422.9" width="1.34" height="1.34" fill="#301090" fill-opacity="0.26"/>
<rect x="74.68" y="417.68" width="1.07" height="1.07" fill="#301090" fill-opacity="0.39"/>
<rect x="123.05" y="431.75" width="0.99" height="0.99" fill="#301090" fill-opacity="0.32"/>
<rect x="111.58" y="403.33" width="1.08" height="1.08" fill="#e070c0" fill-opacity="0.53"/>
<rect x="86.14" y="390.58" width="1.37" height="1.37" fill="#e070c0" fill-opacity="0.53"/>
<rect x="67.02" y="403.25" width="1.07" height="1.07" fill="#9030c0" fill-opacity="0.5"/>
<rect x="37.94" y="392.87" width="0.92" height="0.92" fill="#301090" fill-opacity="0.3"/>
<rect x="81.95" y="413.77" width="1.49" height="1.49" fill="#9030c0" fill-opacity="0.57"/>
<rect x="124" y="420.67" width="1.4" height="1.4" fill="#e070c0" fill-opacity="0.44"/>
<rect x="125.59" y="389.24" width="1.51" height="1.51" fill="#9030c0" fill-opacity="0.53"/>
<rect x="94.68" y="409.82" width="1.39" height="1.39" fill="#5020b0" fill-opacity="0.42"/>
<rect x="77.54" y="435.6" width="1.15" height="1.15" fill="#e070c0" fill-opacity="0.4"/>
<rect x="60.69" y="409.97" width="1.58" height="1.58" fill="#301090" fill-opacity="0.5"/>
<rect x="38.33" y="388.26" width="1.01" height="1.01" fill="#e070c0" fill-opacity="0.5"/>
<rect x="107.51" y="458.21" width="1.54" height="1.54" fill="#301090" fill-opacity="0.47"/>
<rect x="70.24" y="370.82" width="1.43" height="1.43" fill="#5020b0" fill-opacity="0.31"/>
<rect x="117.51" y="392.83" width="1.11" height="1.11" fill="#e070c0" fill-opacity="0.58"/>
<rect x="34.66" y="384.5" width="1.12" height="1.12" fill="#c040d0" fill-opacity="0.66"/>
<rect x="94.43" y="461.23" width="1.13" height="1.13" fill="#e070c0" fill-opacity="0.39"/>
<rect x="96.91" y="433.94" width="1.04" height="1.04" fill="#301090" fill-opacity="0.46"/>
<rect x="45.2" y="363.41" width="1.4" height="1.4" fill="#9030c0" fill-opacity="0.5"/>
<rect x="116.3" y="400.23" width="1.52" height="1.52" fill="#301090" fill-opacity="0.52"/>
<rect x="125.97" y="432.3" width="1.07" height="1.07" fill="#5020b0" fill-opacity="0.55"/>
<rect x="89.73" y="438.17" width="1.08" height="1.08" fill="#9030c0" fill-opacity="0.66"/>
<rect x="66.9" y="436.37" width="1.46" height="1.46" fill="#301090" fill-opacity="0.28"/>
<rect x="104.42" y="394.09" width="1.31" height="1.31" fill="#9030c0" fill-opacity="0.45"/>
<rect x="75.47" y="414.29" width="0.95" height="0.95" fill="#301090" fill-opacity="0.36"/>
<rect x="26.41" y="413.26" width="0.98" height="0.98" fill="#5020b0" fill-opacity="0.45"/>
<rect x="115.21" y="441.79" width="0.97" height="0.97" fill="#e070c0" fill-opacity="0.57"/>
<rect x="79.67" y="373.72" width="1.37" height="1.37" fill="#c040d0" fill-opacity="0.57"/>
<rect x="93.06" y="376.56" width="1.57" height="1.57" fill="#9030c0" fill-opacity="0.61"/>
<rect x="111.27" y="438.7" width="0.94" height="0.94" fill="#301090" fill-opacity="0.4"/>
<rect x="75.51" y="358.87" width="1.52" height="1.52" fill="#5020b0" fill-opacity="0.33"/>
<rect x="97.15" y="401.25" width="1.35" height="1.35" fill="#5020b0" fill-opacity="0.57"/>
<rect x="65.85" y="446.95" width="1.12" height="1.12" fill="#5020b0" fill-opacity="0.42"/>
<rect x="74.65" y="394.65" width="1.42" height="1.42" fill="#e070c0" fill-opacity="0.45"/>
<rect x="55.01" y="430.7" width="1.25" height="1.25" fill="#5020b0" fill-opacity="0.28"/>
<rect x="45.99" y="451.75" width="1.21" height="1.21" fill="#c040d0" fill-opacity="0.68"/>
<rect x="109.93" y="409.12" width="0.97" height="0.97" fill="#5020b0" fill-opacity="0.36"/>
</g>
<clipPath id="cc4"><rect x="145" y="342.8" width="129" height="128.9"/></clipPath>
<g clip-path="url(#cc4)">
<rect x="145" y="342.8" width="129" height="128.9" fill="#000"/>
<rect x="193.67" y="420.49" width="1.14" height="2.66" fill="#d030e0" fill-opacity="0.39"/>
<rect x="186.9" y="435.83" width="1.01" height="5.3" fill="#2010c0" fill-opacity="0.48"/>
<rect x="205.55" y="440.35" width="1.43" height="3.71" fill="#ff50a0" fill-opacity="0.56"/>
<rect x="221.99" y="415.27" width="1.12" height="1.58" fill="#9020e0" fill-opacity="0.46"/>
<rect x="235.72" y="351.37" width="1.15" height="1.3" fill="#4010d0" fill-opacity="0.73"/>
<rect x="216.97" y="427.4" width="1.15" height="1.42" fill="#ff50a0" fill-opacity="0.48"/>
<rect x="258.58" y="421.53" width="1.26" height="5.78" fill="#2010c0" fill-opacity="0.56"/>
<rect x="242.82" y="450.35" width="1.1" height="2.07" fill="#9020e0" fill-opacity="0.39"/>
<rect x="189.24" y="434.48" width="1.16" height="1.48" fill="#6818f0" fill-opacity="0.64"/>
<rect x="204.17" y="404.69" width="1.23" height="1.44" fill="#2010c0" fill-opacity="0.51"/>
<rect x="252.41" y="375.48" width="1.01" height="5.45" fill="#6818f0" fill-opacity="0.68"/>
<rect x="219.92" y="345.89" width="1.34" height="4.7" fill="#1800a0" fill-opacity="0.65"/>
<rect x="249.56" y="376.94" width="1.48" height="1.96" fill="#6818f0" fill-opacity="0.42"/>
<rect x="215.96" y="409.72" width="1.22" height="2.77" fill="#ff50a0" fill-opacity="0.7"/>
<rect x="256.31" y="448.12" width="1.34" height="1.43" fill="#2010c0" fill-opacity="0.38"/>
<rect x="197.08" y="408.76" width="1.39" height="2.56" fill="#d030e0" fill-opacity="0.44"/>
<rect x="147.02" y="416.86" width="1.11" height="2.39" fill="#3810e0" fill-opacity="0.55"/>
<rect x="163.71" y="430.56" width="1.13" height="1.3" fill="#3810e0" fill-opacity="0.58"/>
<rect x="213.39" y="437" width="1.16" height="4.87" fill="#3810e0" fill-opacity="0.5"/>
<rect x="256.99" y="396.79" width="1.37" height="4.11" fill="#9020e0" fill-opacity="0.57"/>
<rect x="214.74" y="426.92" width="1.4" height="3.24" fill="#3810e0" fill-opacity="0.51"/>
<rect x="153.12" y="397.89" width="1.17" height="4.19" fill="#9020e0" fill-opacity="0.62"/>
<rect x="238.43" y="373" width="1.02" height="3.31" fill="#6818f0" fill-opacity="0.78"/>
<rect x="227.32" y="425.9" width="1.34" height="4.71" fill="#9020e0" fill-opacity="0.64"/>
<rect x="173.83" y="433.01" width="1.46" height="1.3" fill="#1800a0" fill-opacity="0.4"/>
<rect x="254.72" y="447.87" width="1.44" height="2.66" fill="#1800a0" fill-opacity="0.65"/>
<rect x="184.55" y="453.86" width="1.26" height="2.3" fill="#4010d0" fill-opacity="0.7"/>
<rect x="200.19" y="401.38" width="1.18" height="1.39" fill="#6818f0" fill-opacity="0.63"/>
<rect x="212.41" y="404.07" width="1.1" height="2.23" fill="#2010c0" fill-opacity="0.78"/>
<rect x="209.49" y="408.43" width="1.31" height="1.36" fill="#1800a0" fill-opacity="0.35"/>
<rect x="231.33" y="381.48" width="1.32" height="5.28" fill="#2010c0" fill-opacity="0.64"/>
<rect x="207.35" y="408.36" width="1.09" height="4.74" fill="#8018f0" fill-opacity="0.49"/>
<rect x="186.23" y="446.2" width="1.08" height="1.3" fill="#4010d0" fill-opacity="0.79"/>
<rect x="227.08" y="422.28" width="1.12" height="1.33" fill="#4010d0" fill-opacity="0.57"/>
<rect x="243.81" y="404.97" width="1.27" height="5.01" fill="#9020e0" fill-opacity="0.34"/>
<rect x="218.65" y="366.13" width="1.39" height="4.69" fill="#4010d0" fill-opacity="0.49"/>
<rect x="236.99" y="440.9" width="1.07" height="3.27" fill="#4010d0" fill-opacity="0.52"/>
<rect x="218.8" y="385.37" width="1.34" height="4.14" fill="#ff50a0" fill-opacity="0.39"/>
<rect x="243.64" y="384.91" width="1.15" height="1.78" fill="#6818f0" fill-opacity="0.65"/>
<rect x="218.62" y="405.16" width="1.08" height="5.39" fill="#6818f0" fill-opacity="0.72"/>
<rect x="169.72" y="387.84" width="1.06" height="5.52" fill="#2010c0" fill-opacity="0.69"/>
<rect x="208.41" y="355.43" width="1.43" height="3.26" fill="#4010d0" fill-opacity="0.71"/>
<rect x="214.74" y="467.89" width="1.12" height="1.73" fill="#1800a0" fill-opacity="0.59"/>
<rect x="260.66" y="406.86" width="1.16" height="5.53" fill="#1800a0" fill-opacity="0.51"/>
<rect x="209.61" y="457.08" width="1.41" height="2.72" fill="#4010d0" fill-opacity="0.56"/>
<rect x="249.29" y="414.96" width="1.49" height="5.57" fill="#4010d0" fill-opacity="0.39"/>
<rect x="192.95" y="394.98" width="1.32" height="2.35" fill="#d030e0" fill-opacity="0.74"/>
<rect x="255.47" y="428.12" width="1.02" height="1.38" fill="#3810e0" fill-opacity="0.39"/>
<rect x="174.55" y="374.44" width="1.26" height="1.61" fill="#9020e0" fill-opacity="0.68"/>
<rect x="229.51" y="411.94" width="1.32" height="4.77" fill="#d030e0" fill-opacity="0.51"/>
<rect x="233.85" y="452.92" width="1.44" height="5.38" fill="#3810e0" fill-opacity="0.65"/>
<rect x="202.47" y="362.85" width="1.11" height="2.06" fill="#4010d0" fill-opacity="0.43"/>
<rect x="177.56" y="440.05" width="1.2" height="1.6" fill="#3810e0" fill-opacity="0.74"/>
<rect x="181.9" y="460.34" width="1.14" height="5.63" fill="#1800a0" fill-opacity="0.34"/>
<rect x="218.66" y="373.79" width="1.12" height="4.35" fill="#d030e0" fill-opacity="0.78"/>
<rect x="201.32" y="364.67" width="1.37" height="2.22" fill="#3810e0" fill-opacity="0.75"/>
<rect x="202.66" y="391.45" width="1.29" height="4.43" fill="#6818f0" fill-opacity="0.73"/>
<rect x="252.81" y="381.47" width="1.21" height="4.41" fill="#6818f0" fill-opacity="0.77"/>
<rect x="201.65" y="403.48" width="1.31" height="4.91" fill="#4010d0" fill-opacity="0.5"/>
<rect x="255.41" y="371.19" width="1.35" height="3.25" fill="#6818f0" fill-opacity="0.75"/>
<rect x="256.32" y="404.33" width="1.02" height="1.44" fill="#6818f0" fill-opacity="0.77"/>
<rect x="195.87" y="351.53" width="1.39" height="1.32" fill="#2010c0" fill-opacity="0.45"/>
<rect x="203.44" y="389.16" width="1.11" height="1.32" fill="#8018f0" fill-opacity="0.82"/>
<rect x="258.32" y="368.32" width="1.11" height="3.49" fill="#2010c0" fill-opacity="0.36"/>
<rect x="179.1" y="453.5" width="1.2" height="3.1" fill="#6818f0" fill-opacity="0.74"/>
<rect x="251.39" y="425.58" width="1.35" height="1.7" fill="#4010d0" fill-opacity="0.74"/>
<rect x="214.4" y="416.61" width="1.38" height="1.64" fill="#a020f0" fill-opacity="0.87"/>
<rect x="237.67" y="365.52" width="1.14" height="1.5" fill="#6818f0" fill-opacity="0.69"/>
<rect x="178.51" y="382.32" width="1.38" height="1.38" fill="#9020e0" fill-opacity="0.67"/>
<rect x="242.02" y="462.91" width="1.13" height="5.23" fill="#2010c0" fill-opacity="0.67"/>
<rect x="214.6" y="356.92" width="1.5" height="2.23" fill="#9020e0" fill-opacity="0.45"/>
<rect x="227.48" y="381.65" width="1.33" height="2.75" fill="#ff50a0" fill-opacity="0.43"/>
<rect x="239.28" y="423.08" width="1.38" height="3.81" fill="#3810e0" fill-opacity="0.76"/>
<rect x="200.75" y="401.83" width="1.18" height="2.96" fill="#9020e0" fill-opacity="0.69"/>
<rect x="220.55" y="427.74" width="1.49" height="3.41" fill="#d030e0" fill-opacity="0.83"/>
<rect x="192.77" y="349.66" width="1.42" height="2.4" fill="#9020e0" fill-opacity="0.57"/>
<rect x="176.18" y="408.88" width="1.38" height="4.46" fill="#a020f0" fill-opacity="0.77"/>
<rect x="214.81" y="432.56" width="1.34" height="5.27" fill="#8018f0" fill-opacity="0.83"/>
<rect x="245.74" y="438.28" width="1.49" height="1.85" fill="#3810e0" fill-opacity="0.44"/>
<rect x="213.8" y="417.8" width="1.47" height="2.62" fill="#9020e0" fill-opacity="0.44"/>
<rect x="218.46" y="382.17" width="1.23" height="1.94" fill="#3810e0" fill-opacity="0.42"/>
<rect x="238.02" y="440.3" width="1.36" height="5.13" fill="#2010c0" fill-opacity="0.69"/>
<rect x="179.91" y="386.83" width="1.26" height="5.57" fill="#d030e0" fill-opacity="0.61"/>
<rect x="169.41" y="378.48" width="1.19" height="3.27" fill="#4010d0" fill-opacity="0.37"/>
<rect x="174.65" y="374.12" width="1.22" height="1.67" fill="#3810e0" fill-opacity="0.44"/>
<rect x="234.53" y="452.68" width="1.33" height="4.45" fill="#6818f0" fill-opacity="0.77"/>
<rect x="179.16" y="386.52" width="1.43" height="1.9" fill="#2010c0" fill-opacity="0.6"/>
<rect x="242.13" y="437.96" width="1.07" height="5.69" fill="#9020e0" fill-opacity="0.54"/>
<rect x="213.63" y="400.28" width="1.42" height="1.31" fill="#2010c0" fill-opacity="0.67"/>
<rect x="191" y="389.02" width="1.14" height="2.3" fill="#ff50a0" fill-opacity="0.4"/>
<rect x="257.81" y="367.44" width="1.17" height="1.31" fill="#6818f0" fill-opacity="0.76"/>
<rect x="170.84" y="455.16" width="1.21" height="1.33" fill="#3810e0" fill-opacity="0.55"/>
<rect x="208.76" y="413.82" width="1.46" height="1.48" fill="#3810e0" fill-opacity="0.72"/>
<rect x="214.67" y="408.11" width="1.26" height="1.32" fill="#8018f0" fill-opacity="0.66"/>
<rect x="218.11" y="432.99" width="1.22" height="1.32" fill="#2010c0" fill-opacity="0.66"/>
<rect x="211.55" y="387.42" width="1.29" height="1.38" fill="#ff50a0" fill-opacity="0.57"/>
<rect x="169.46" y="377.85" width="1.27" height="3.95" fill="#2010c0" fill-opacity="0.43"/>
<rect x="187.62" y="435.3" width="1.49" height="2.24" fill="#4010d0" fill-opacity="0.52"/>
<rect x="273.37" y="407.3" width="1.29" height="2.82" fill="#4010d0" fill-opacity="0.6"/>
<rect x="184.7" y="350.71" width="1.47" height="3.49" fill="#9020e0" fill-opacity="0.55"/>
<rect x="234.74" y="401.27" width="1.15" height="2.35" fill="#9020e0" fill-opacity="0.4"/>
<rect x="189.24" y="455.82" width="1.42" height="1.79" fill="#3810e0" fill-opacity="0.71"/>
<rect x="229.8" y="407.35" width="1.44" height="5.3" fill="#d030e0" fill-opacity="0.4"/>
<rect x="233.48" y="394.58" width="1.47" height="3.1" fill="#a020f0" fill-opacity="0.6"/>
<rect x="184.68" y="445.93" width="1" height="1.31" fill="#2010c0" fill-opacity="0.4"/>
<rect x="209.96" y="408.02" width="1.25" height="1.93" fill="#4010d0" fill-opacity="0.46"/>
<rect x="226.3" y="419.32" width="1.22" height="5.25" fill="#e030c0" fill-opacity="0.58"/>
<rect x="192.96" y="421.67" width="1.05" height="3.84" fill="#a020f0" fill-opacity="0.66"/>
<rect x="188.91" y="416.69" width="1.44" height="3.32" fill="#a020f0" fill-opacity="0.56"/>
<rect x="258.83" y="444.86" width="1.42" height="5.62" fill="#6818f0" fill-opacity="0.75"/>
<rect x="243.74" y="375.71" width="1.21" height="1.42" fill="#4010d0" fill-opacity="0.74"/>
<rect x="163.58" y="402.13" width="1.31" height="3.41" fill="#9020e0" fill-opacity="0.63"/>
<rect x="212.35" y="428.04" width="1.33" height="2.57" fill="#1800a0" fill-opacity="0.48"/>
<rect x="243.05" y="355.4" width="1.37" height="2.29" fill="#1800a0" fill-opacity="0.61"/>
<rect x="194.69" y="426.53" width="1.24" height="5.58" fill="#8018f0" fill-opacity="0.86"/>
<rect x="186.46" y="409.46" width="1.38" height="2.46" fill="#a020f0" fill-opacity="0.58"/>
<rect x="189.2" y="370.81" width="1.44" height="3.47" fill="#6818f0" fill-opacity="0.62"/>
<rect x="153.03" y="422.82" width="1.02" height="1.72" fill="#9020e0" fill-opacity="0.65"/>
<rect x="214.14" y="377.27" width="1.14" height="2.78" fill="#ff50a0" fill-opacity="0.64"/>
<rect x="194.98" y="413.84" width="1.27" height="2.31" fill="#9020e0" fill-opacity="0.41"/>
<rect x="218.56" y="432.39" width="1.01" height="1.52" fill="#4010d0" fill-opacity="0.71"/>
<rect x="176.2" y="391.06" width="1.33" height="5.08" fill="#9020e0" fill-opacity="0.61"/>
<rect x="205.61" y="458.07" width="1.36" height="1.81" fill="#2010c0" fill-opacity="0.74"/>
<rect x="210.2" y="424.31" width="1.38" height="5.29" fill="#1800a0" fill-opacity="0.46"/>
<rect x="222.44" y="415.34" width="1.41" height="2.12" fill="#a020f0" fill-opacity="0.75"/>
<rect x="216.73" y="420.21" width="1.47" height="2.18" fill="#4010d0" fill-opacity="0.57"/>
<rect x="209.99" y="467.19" width="1.28" height="2.01" fill="#4010d0" fill-opacity="0.36"/>
<rect x="207.47" y="418.88" width="1.47" height="4.03" fill="#2010c0" fill-opacity="0.43"/>
<rect x="199.06" y="404.92" width="1.04" height="2.72" fill="#4010d0" fill-opacity="0.72"/>
<rect x="221.18" y="380.44" width="1.26" height="1.34" fill="#8018f0" fill-opacity="0.63"/>
<rect x="216.84" y="350.2" width="1.2" height="1.59" fill="#3810e0" fill-opacity="0.41"/>
<rect x="236.76" y="427.96" width="1.36" height="2.93" fill="#e030c0" fill-opacity="0.68"/>
<rect x="209.28" y="408.04" width="1.11" height="1.3" fill="#e030c0" fill-opacity="0.51"/>
<rect x="149.21" y="421.51" width="1.41" height="2.97" fill="#4010d0" fill-opacity="0.5"/>
<rect x="208.17" y="366.09" width="1.35" height="5.06" fill="#6818f0" fill-opacity="0.5"/>
<rect x="209.2" y="420.58" width="1.46" height="4.96" fill="#ff50a0" fill-opacity="0.6"/>
<rect x="253.66" y="398.2" width="1.05" height="3.81" fill="#2010c0" fill-opacity="0.48"/>
<rect x="205.46" y="412.1" width="1.16" height="1.44" fill="#9020e0" fill-opacity="0.46"/>
<rect x="229.93" y="443.17" width="1.19" height="2.25" fill="#1800a0" fill-opacity="0.59"/>
<rect x="192.39" y="384.81" width="1.1" height="4.86" fill="#4010d0" fill-opacity="0.38"/>
<rect x="243.84" y="415.33" width="1.03" height="5.68" fill="#6818f0" fill-opacity="0.69"/>
<rect x="166.13" y="439.06" width="1.2" height="2.16" fill="#6818f0" fill-opacity="0.47"/>
<rect x="245.54" y="449.95" width="1.36" height="3.95" fill="#1800a0" fill-opacity="0.7"/>
<rect x="217.58" y="380.49" width="1.26" height="3.05" fill="#e030c0" fill-opacity="0.43"/>
<rect x="219.55" y="411.98" width="1.14" height="3.4" fill="#4010d0" fill-opacity="0.38"/>
<rect x="208.05" y="409.29" width="1.48" height="5.13" fill="#2010c0" fill-opacity="0.41"/>
<rect x="209.95" y="408.31" width="1.37" height="1.6" fill="#2010c0" fill-opacity="0.64"/>
<rect x="227.45" y="410.44" width="1.29" height="1.83" fill="#ff50a0" fill-opacity="0.42"/>
<rect x="155.4" y="385.04" width="1.43" height="1.34" fill="#3810e0" fill-opacity="0.61"/>
<rect x="253.18" y="450.59" width="1.32" height="2.28" fill="#1800a0" fill-opacity="0.48"/>
<rect x="181.29" y="352.98" width="1.17" height="1.67" fill="#1800a0" fill-opacity="0.51"/>
<rect x="162.59" y="426.52" width="1.26" height="3.69" fill="#4010d0" fill-opacity="0.62"/>
<rect x="192.95" y="346.42" width="1.27" height="1.97" fill="#4010d0" fill-opacity="0.76"/>
<rect x="205.65" y="415.4" width="1.42" height="2.65" fill="#8018f0" fill-opacity="0.63"/>
<rect x="189.16" y="430.81" width="1.22" height="2.1" fill="#ff50a0" fill-opacity="0.68"/>
<rect x="171.25" y="384.22" width="1.14" height="1.99" fill="#1800a0" fill-opacity="0.4"/>
<rect x="222.16" y="387.48" width="1.25" height="1.35" fill="#e030c0" fill-opacity="0.45"/>
<rect x="184.51" y="388.03" width="1.07" height="3.83" fill="#a020f0" fill-opacity="0.57"/>
<rect x="199.13" y="419.51" width="1.28" height="1.88" fill="#9020e0" fill-opacity="0.45"/>
<rect x="169.33" y="423.99" width="1.37" height="1.46" fill="#4010d0" fill-opacity="0.67"/>
<rect x="225.02" y="350.33" width="1.4" height="2.27" fill="#4010d0" fill-opacity="0.78"/>
<rect x="214.26" y="416.17" width="1.27" height="2.05" fill="#1800a0" fill-opacity="0.39"/>
<rect x="227.68" y="349.1" width="1.33" height="1.41" fill="#4010d0" fill-opacity="0.71"/>
<rect x="204.04" y="392.12" width="1.15" height="2.47" fill="#2010c0" fill-opacity="0.38"/>
<rect x="203.5" y="353.76" width="1.27" height="2.97" fill="#3810e0" fill-opacity="0.64"/>
<rect x="245.25" y="414.74" width="1.29" height="1.32" fill="#4010d0" fill-opacity="0.8"/>
<rect x="197.65" y="427.66" width="1.06" height="3.77" fill="#1800a0" fill-opacity="0.5"/>
<rect x="209.35" y="442.48" width="1.5" height="1.3" fill="#6818f0" fill-opacity="0.39"/>
<rect x="239.95" y="359.58" width="1.3" height="1.61" fill="#6818f0" fill-opacity="0.39"/>
<rect x="216.53" y="365.92" width="1.24" height="3.32" fill="#4010d0" fill-opacity="0.55"/>
<rect x="238.44" y="374.31" width="1.26" height="2.74" fill="#9020e0" fill-opacity="0.5"/>
<rect x="171.41" y="437.75" width="1.25" height="2.95" fill="#6818f0" fill-opacity="0.8"/>
<rect x="188.54" y="420.08" width="1.21" height="1.5" fill="#6818f0" fill-opacity="0.41"/>
<rect x="237.67" y="433.25" width="1.4" height="3.27" fill="#9020e0" fill-opacity="0.59"/>
<rect x="237.25" y="443" width="1.28" height="5.46" fill="#4010d0" fill-opacity="0.4"/>
<rect x="209.83" y="387.95" width="1.13" height="3.87" fill="#d030e0" fill-opacity="0.51"/>
<rect x="157.73" y="386.17" width="1.43" height="5.66" fill="#2010c0" fill-opacity="0.55"/>
<rect x="270.45" y="398.72" width="1.31" height="2.19" fill="#3810e0" fill-opacity="0.39"/>
<rect x="191.36" y="469.23" width="1.41" height="1.63" fill="#6818f0" fill-opacity="0.79"/>
<rect x="240.9" y="371.78" width="1.25" height="5.64" fill="#6818f0" fill-opacity="0.55"/>
<rect x="210.72" y="415.35" width="1.12" height="2.9" fill="#2010c0" fill-opacity="0.6"/>
<rect x="168.51" y="416.35" width="1.31" height="1.3" fill="#1800a0" fill-opacity="0.52"/>
<rect x="243.89" y="455.96" width="1.46" height="1.48" fill="#2010c0" fill-opacity="0.44"/>
<rect x="195.38" y="463.23" width="1.48" height="4.5" fill="#2010c0" fill-opacity="0.71"/>
<rect x="213.89" y="422.96" width="1.01" height="5.42" fill="#4010d0" fill-opacity="0.53"/>
<rect x="229.49" y="385.33" width="1.06" height="1.41" fill="#a020f0" fill-opacity="0.81"/>
<rect x="208.42" y="409.28" width="1.42" height="3.69" fill="#3810e0" fill-opacity="0.44"/>
<rect x="149.94" y="404.63" width="1.14" height="1.3" fill="#9020e0" fill-opacity="0.66"/>
<rect x="247.96" y="402.41" width="1.47" height="3.36" fill="#a020f0" fill-opacity="0.77"/>
<rect x="175.78" y="422.49" width="1.01" height="5.4" fill="#9020e0" fill-opacity="0.56"/>
<rect x="234.62" y="410.88" width="1.3" height="1.38" fill="#6818f0" fill-opacity="0.5"/>
<rect x="173.12" y="397" width="1.07" height="1.97" fill="#3810e0" fill-opacity="0.71"/>
<rect x="202.16" y="360.95" width="1.37" height="2.96" fill="#2010c0" fill-opacity="0.42"/>
<rect x="267.86" y="411.77" width="1.21" height="4.81" fill="#2010c0" fill-opacity="0.58"/>
<rect x="223.91" y="389.62" width="1.35" height="5.19" fill="#e030c0" fill-opacity="0.52"/>
<rect x="169.87" y="391.35" width="1.25" height="2.06" fill="#4010d0" fill-opacity="0.49"/>
<rect x="229.31" y="390.65" width="1.14" height="4.2" fill="#9020e0" fill-opacity="0.4"/>
<rect x="230.94" y="447.52" width="1.17" height="4.68" fill="#2010c0" fill-opacity="0.71"/>
<rect x="225.91" y="398.99" width="1.38" height="2.12" fill="#4010d0" fill-opacity="0.43"/>
<rect x="181.93" y="373.99" width="1.05" height="2.56" fill="#1800a0" fill-opacity="0.65"/>
<rect x="187.75" y="360.76" width="1.05" height="1.45" fill="#1800a0" fill-opacity="0.37"/>
<rect x="207.91" y="463.49" width="1.22" height="1.31" fill="#6818f0" fill-opacity="0.69"/>
<rect x="210.88" y="404.84" width="1.21" height="2.76" fill="#1800a0" fill-opacity="0.66"/>
<rect x="212.57" y="401.5" width="1.25" height="5.07" fill="#9020e0" fill-opacity="0.45"/>
<rect x="222.05" y="375.68" width="1.2" height="2.08" fill="#4010d0" fill-opacity="0.58"/>
<rect x="177.85" y="352.66" width="1.22" height="1.35" fill="#3810e0" fill-opacity="0.65"/>
<rect x="186" y="349.77" width="1" height="2.25" fill="#6818f0" fill-opacity="0.38"/>
<rect x="208.78" y="383.13" width="1.19" height="5.13" fill="#9020e0" fill-opacity="0.55"/>
<rect x="232.88" y="400.53" width="1.41" height="1.38" fill="#a020f0" fill-opacity="0.67"/>
<rect x="196.05" y="460.2" width="1.24" height="2.47" fill="#1800a0" fill-opacity="0.56"/>
<rect x="149.99" y="385.84" width="1.09" height="1.3" fill="#3810e0" fill-opacity="0.41"/>
<rect x="254.02" y="453.81" width="1.13" height="1.32" fill="#4010d0" fill-opacity="0.71"/>
<rect x="185.01" y="391.2" width="1.11" height="2.73" fill="#4010d0" fill-opacity="0.76"/>
<rect x="204.52" y="419.5" width="1.17" height="3.88" fill="#2010c0" fill-opacity="0.66"/>
<rect x="193.26" y="372.31" width="1.35" height="2.23" fill="#2010c0" fill-opacity="0.57"/>
<rect x="248.41" y="413.41" width="1.17" height="4.53" fill="#3810e0" fill-opacity="0.58"/>
<rect x="211.46" y="399.92" width="1.18" height="1.68" fill="#e030c0" fill-opacity="0.68"/>
<rect x="159.11" y="375.07" width="1.47" height="2.14" fill="#3810e0" fill-opacity="0.58"/>
<rect x="208.9" y="386.19" width="1.03" height="5.3" fill="#6818f0" fill-opacity="0.47"/>
<rect x="238.67" y="357.49" width="1.01" height="4.01" fill="#2010c0" fill-opacity="0.72"/>
<rect x="225.08" y="464.99" width="1.24" height="2.8" fill="#2010c0" fill-opacity="0.44"/>
<rect x="197.79" y="470.82" width="1.36" height="2.15" fill="#1800a0" fill-opacity="0.56"/>
<rect x="211.74" y="373.6" width="1.44" height="2.5" fill="#a020f0" fill-opacity="0.65"/>
<rect x="170.81" y="425.58" width="1.34" height="1.33" fill="#3810e0" fill-opacity="0.45"/>
<rect x="212.74" y="414.45" width="1.43" height="1.9" fill="#4010d0" fill-opacity="0.42"/>
<rect x="214.34" y="401.16" width="1.15" height="1.59" fill="#ff50a0" fill-opacity="0.67"/>
<rect x="191.41" y="407.28" width="1.07" height="4.87" fill="#1800a0" fill-opacity="0.41"/>
<rect x="163.11" y="433.59" width="1.45" height="1.44" fill="#2010c0" fill-opacity="0.48"/>
<rect x="224.5" y="396.78" width="1.42" height="3.96" fill="#8018f0" fill-opacity="0.87"/>
<rect x="206.65" y="414.28" width="1.49" height="1.36" fill="#8018f0" fill-opacity="0.59"/>
<rect x="193.63" y="353.37" width="1.02" height="3.01" fill="#2010c0" fill-opacity="0.61"/>
<rect x="206.73" y="459.89" width="1.21" height="2.34" fill="#2010c0" fill-opacity="0.68"/>
<rect x="171.02" y="454.38" width="1.21" height="2.84" fill="#1800a0" fill-opacity="0.5"/>
<rect x="199.1" y="413.51" width="1.27" height="5.55" fill="#1800a0" fill-opacity="0.45"/>
<rect x="205.86" y="452.1" width="1.07" height="1.33" fill="#2010c0" fill-opacity="0.7"/>
<rect x="192.78" y="450.01" width="1.16" height="2.57" fill="#1800a0" fill-opacity="0.43"/>
<rect x="245.41" y="392.37" width="1.11" height="1.45" fill="#2010c0" fill-opacity="0.55"/>
<rect x="233.76" y="397.82" width="1.27" height="4.93" fill="#9020e0" fill-opacity="0.36"/>
<rect x="218.46" y="411.78" width="1.16" height="3.17" fill="#6818f0" fill-opacity="0.69"/>
<rect x="226.83" y="401.89" width="1.17" height="5.67" fill="#e030c0" fill-opacity="0.72"/>
<rect x="245.3" y="426.96" width="1.47" height="1.32" fill="#3810e0" fill-opacity="0.69"/>
<rect x="229.61" y="376.6" width="1.07" height="1.87" fill="#8018f0" fill-opacity="0.53"/>
<rect x="216.23" y="367.65" width="1.3" height="3.93" fill="#9020e0" fill-opacity="0.63"/>
<rect x="238.75" y="359.89" width="1.12" height="3.3" fill="#6818f0" fill-opacity="0.41"/>
<rect x="261.32" y="434.21" width="1.49" height="1.41" fill="#9020e0" fill-opacity="0.63"/>
<rect x="193.24" y="415.05" width="1.15" height="1.44" fill="#4010d0" fill-opacity="0.5"/>
<rect x="234.55" y="358.67" width="1.47" height="1.82" fill="#4010d0" fill-opacity="0.49"/>
<rect x="256.14" y="423.59" width="1.48" height="1.61" fill="#1800a0" fill-opacity="0.32"/>
<rect x="214.55" y="460.49" width="1.42" height="1.43" fill="#6818f0" fill-opacity="0.51"/>
<rect x="182.92" y="379.47" width="1.25" height="3.05" fill="#2010c0" fill-opacity="0.46"/>
<rect x="199.22" y="373.21" width="1.24" height="5.58" fill="#4010d0" fill-opacity="0.61"/>
<rect x="156.13" y="427.25" width="1.11" height="1.99" fill="#6818f0" fill-opacity="0.38"/>
<rect x="157.69" y="424.63" width="1.03" height="2.54" fill="#9020e0" fill-opacity="0.62"/>
<rect x="200.17" y="385.91" width="1.44" height="1.36" fill="#d030e0" fill-opacity="0.78"/>
<rect x="206.42" y="430.28" width="1.11" height="3.81" fill="#8018f0" fill-opacity="0.75"/>
<rect x="218.43" y="403.32" width="1.3" height="1.56" fill="#6818f0" fill-opacity="0.72"/>
<rect x="238.13" y="370.59" width="1.13" height="2.86" fill="#3810e0" fill-opacity="0.52"/>
<rect x="190.03" y="391.61" width="1.04" height="2.47" fill="#ff50a0" fill-opacity="0.61"/>
<rect x="251.26" y="369.97" width="1.25" height="1.77" fill="#2010c0" fill-opacity="0.61"/>
<rect x="173.31" y="355.56" width="1.05" height="2.4" fill="#1800a0" fill-opacity="0.51"/>
<rect x="187.23" y="417.01" width="1.28" height="3.58" fill="#8018f0" fill-opacity="0.76"/>
<rect x="230.83" y="404.26" width="1.36" height="1.3" fill="#ff50a0" fill-opacity="0.54"/>
<rect x="179.46" y="393.75" width="1.27" height="1.44" fill="#2010c0" fill-opacity="0.72"/>
<rect x="161.9" y="431.84" width="1.2" height="2.91" fill="#9020e0" fill-opacity="0.58"/>
<rect x="273.17" y="418.29" width="1.03" height="4.38" fill="#9020e0" fill-opacity="0.6"/>
<rect x="189.53" y="453.45" width="1.32" height="1.33" fill="#2010c0" fill-opacity="0.54"/>
<rect x="228.4" y="432.8" width="1.46" height="3.16" fill="#9020e0" fill-opacity="0.32"/>
<rect x="207.6" y="390.02" width="1.23" height="1.41" fill="#6818f0" fill-opacity="0.49"/>
<rect x="209.09" y="414.22" width="1.01" height="3.66" fill="#d030e0" fill-opacity="0.74"/>
<rect x="199.49" y="407.64" width="1.09" height="5.21" fill="#3810e0" fill-opacity="0.49"/>
<rect x="213.05" y="375.37" width="1.04" height="1.68" fill="#ff50a0" fill-opacity="0.55"/>
<rect x="243.64" y="359.21" width="1.4" height="3.79" fill="#4010d0" fill-opacity="0.73"/>
<rect x="239.89" y="447.76" width="1.32" height="1.35" fill="#6818f0" fill-opacity="0.67"/>
<rect x="204.63" y="402.44" width="1.26" height="3.45" fill="#9020e0" fill-opacity="0.46"/>
<rect x="193.68" y="356.83" width="1.39" height="1.52" fill="#2010c0" fill-opacity="0.7"/>
<rect x="173" y="420.35" width="1.21" height="1.85" fill="#6818f0" fill-opacity="0.41"/>
<rect x="211.99" y="419.43" width="1.5" height="1.54" fill="#3810e0" fill-opacity="0.55"/>
<rect x="215.64" y="431.14" width="1.15" height="1.35" fill="#d030e0" fill-opacity="0.42"/>
<rect x="198.48" y="448.83" width="1.21" height="1.61" fill="#3810e0" fill-opacity="0.46"/>
<rect x="202.53" y="383.27" width="1.06" height="2.8" fill="#d030e0" fill-opacity="0.51"/>
<rect x="163.35" y="389.2" width="1.31" height="1.88" fill="#9020e0" fill-opacity="0.49"/>
<rect x="214.05" y="374.89" width="1.03" height="1.47" fill="#ff50a0" fill-opacity="0.61"/>
<rect x="201.43" y="383.26" width="1.3" height="5.17" fill="#2010c0" fill-opacity="0.37"/>
<rect x="256.7" y="385.48" width="1.03" height="4.42" fill="#4010d0" fill-opacity="0.65"/>
<rect x="203.61" y="399.27" width="1.47" height="4.92" fill="#9020e0" fill-opacity="0.48"/>
<rect x="231.95" y="408.42" width="1" height="3.45" fill="#2010c0" fill-opacity="0.55"/>
<rect x="261.2" y="373.41" width="1.45" height="4.27" fill="#3810e0" fill-opacity="0.74"/>
<rect x="229.99" y="424.82" width="1.08" height="1.53" fill="#8018f0" fill-opacity="0.6"/>
<rect x="216.88" y="438.27" width="1.25" height="1.31" fill="#9020e0" fill-opacity="0.63"/>
<rect x="227.9" y="401.36" width="1.37" height="2.7" fill="#2010c0" fill-opacity="0.78"/>
<rect x="240.24" y="394.81" width="1.4" height="1.6" fill="#a020f0" fill-opacity="0.49"/>
<rect x="238.51" y="405.69" width="1.48" height="1.3" fill="#d030e0" fill-opacity="0.45"/>
<rect x="175.99" y="445.37" width="1.43" height="2.16" fill="#6818f0" fill-opacity="0.52"/>
<rect x="217.06" y="384.76" width="1.14" height="1.39" fill="#1800a0" fill-opacity="0.58"/>
<rect x="188.92" y="463.77" width="1.09" height="5.71" fill="#6818f0" fill-opacity="0.39"/>
<rect x="244.81" y="419.42" width="1.07" height="1.31" fill="#a020f0" fill-opacity="0.89"/>
<rect x="208.94" y="397.92" width="1.32" height="1.84" fill="#3810e0" fill-opacity="0.8"/>
<rect x="199.03" y="377.82" width="1.29" height="1.52" fill="#1800a0" fill-opacity="0.67"/>
<rect x="207.65" y="387.95" width="1.43" height="3.98" fill="#9020e0" fill-opacity="0.39"/>
<rect x="222.81" y="388.91" width="1.07" height="3.57" fill="#e030c0" fill-opacity="0.54"/>
<rect x="224.62" y="459.51" width="1.46" height="2.07" fill="#6818f0" fill-opacity="0.8"/>
<rect x="246.03" y="423.36" width="1.28" height="1.38" fill="#1800a0" fill-opacity="0.48"/>
<rect x="208.95" y="411.04" width="1.13" height="5.69" fill="#a020f0" fill-opacity="0.8"/>
<rect x="223.29" y="416.5" width="1.07" height="5.72" fill="#ff50a0" fill-opacity="0.52"/>
<rect x="172.87" y="428.11" width="1.01" height="5.37" fill="#4010d0" fill-opacity="0.47"/>
<rect x="163.62" y="405.42" width="1.09" height="5.71" fill="#4010d0" fill-opacity="0.36"/>
<rect x="213.03" y="395.12" width="1.04" height="1.82" fill="#1800a0" fill-opacity="0.5"/>
<rect x="201.42" y="367.45" width="1.36" height="5.29" fill="#4010d0" fill-opacity="0.65"/>
<rect x="197.61" y="409.1" width="1.46" height="1.74" fill="#1800a0" fill-opacity="0.5"/>
<rect x="231.61" y="398.83" width="1.28" height="1.87" fill="#ff50a0" fill-opacity="0.5"/>
<rect x="206.05" y="414.24" width="1.44" height="1.31" fill="#d030e0" fill-opacity="0.77"/>
<rect x="188.58" y="371.08" width="1.04" height="5.51" fill="#9020e0" fill-opacity="0.69"/>
<rect x="245.56" y="405.12" width="1.03" height="4.83" fill="#8018f0" fill-opacity="0.78"/>
<rect x="241.13" y="375.49" width="1" height="1.66" fill="#1800a0" fill-opacity="0.56"/>
<rect x="184.72" y="409.04" width="1.44" height="5.49" fill="#ff50a0" fill-opacity="0.64"/>
<rect x="163.2" y="379.19" width="1.47" height="2.12" fill="#6818f0" fill-opacity="0.64"/>
<rect x="249.21" y="379.85" width="1.44" height="3.18" fill="#2010c0" fill-opacity="0.63"/>
<rect x="207.99" y="412.11" width="1.13" height="2.2" fill="#ff50a0" fill-opacity="0.65"/>
<rect x="173.47" y="431.4" width="1.41" height="4.87" fill="#1800a0" fill-opacity="0.65"/>
<rect x="159.12" y="422.7" width="1.1" height="1.53" fill="#6818f0" fill-opacity="0.64"/>
<rect x="216.04" y="375.89" width="1.41" height="1.38" fill="#d030e0" fill-opacity="0.64"/>
<rect x="189.32" y="398.82" width="1.37" height="3.54" fill="#4010d0" fill-opacity="0.78"/>
<rect x="184.33" y="399.43" width="1.42" height="4.85" fill="#2010c0" fill-opacity="0.71"/>
<rect x="192.86" y="425.48" width="1.45" height="2.12" fill="#ff50a0" fill-opacity="0.38"/>
<rect x="189.05" y="447.72" width="1" height="4.48" fill="#9020e0" fill-opacity="0.45"/>
<rect x="252.77" y="369.82" width="1.13" height="1.56" fill="#1800a0" fill-opacity="0.39"/>
<rect x="219.13" y="428.24" width="1.3" height="1.42" fill="#2010c0" fill-opacity="0.56"/>
<rect x="182.24" y="370.62" width="1.1" height="2.48" fill="#2010c0" fill-opacity="0.78"/>
<rect x="223.26" y="424.33" width="1.24" height="3.79" fill="#d030e0" fill-opacity="0.47"/>
<rect x="188.8" y="356.86" width="1.21" height="2.08" fill="#6818f0" fill-opacity="0.59"/>
<rect x="175.18" y="410.25" width="1.44" height="5.48" fill="#1800a0" fill-opacity="0.41"/>
<rect x="185.41" y="430.31" width="1.24" height="3.27" fill="#ff50a0" fill-opacity="0.58"/>
<rect x="200.95" y="445.74" width="1.31" height="3.24" fill="#2010c0" fill-opacity="0.46"/>
<rect x="212.62" y="451.07" width="1.29" height="2.41" fill="#6818f0" fill-opacity="0.57"/>
<rect x="235.84" y="372.32" width="1.14" height="2.09" fill="#2010c0" fill-opacity="0.43"/>
<rect x="250.11" y="386.93" width="1.06" height="4.35" fill="#9020e0" fill-opacity="0.52"/>
<rect x="249.09" y="435.79" width="1.47" height="2.69" fill="#9020e0" fill-opacity="0.37"/>
<rect x="220.58" y="428.48" width="1.05" height="1.3" fill="#9020e0" fill-opacity="0.62"/>
<rect x="169.17" y="410.32" width="1.34" height="1.31" fill="#4010d0" fill-opacity="0.47"/>
<rect x="236.52" y="365.26" width="1.35" height="4.16" fill="#1800a0" fill-opacity="0.39"/>
<rect x="183.73" y="366.1" width="1.34" height="1.3" fill="#2010c0" fill-opacity="0.6"/>
<rect x="203.41" y="464.2" width="1.3" height="1.39" fill="#4010d0" fill-opacity="0.73"/>
<rect x="266.77" y="412.67" width="1.1" height="1.49" fill="#1800a0" fill-opacity="0.53"/>
<rect x="196.15" y="385.92" width="1.3" height="2.05" fill="#9020e0" fill-opacity="0.5"/>
<rect x="163.77" y="394.96" width="1.33" height="4.99" fill="#3810e0" fill-opacity="0.73"/>
<rect x="244.58" y="405.51" width="1.3" height="1.83" fill="#e030c0" fill-opacity="0.56"/>
<rect x="202.91" y="391.3" width="1.37" height="1.64" fill="#1800a0" fill-opacity="0.55"/>
<rect x="207.96" y="406.5" width="1.12" height="2.78" fill="#2010c0" fill-opacity="0.39"/>
<rect x="238.96" y="379.46" width="1" height="2.26" fill="#2010c0" fill-opacity="0.4"/>
<rect x="203.3" y="419.33" width="1.37" height="5.23" fill="#9020e0" fill-opacity="0.38"/>
<rect x="194.09" y="440.98" width="1.13" height="2.78" fill="#d030e0" fill-opacity="0.52"/>
<rect x="253.67" y="412.77" width="1.29" height="3.98" fill="#2010c0" fill-opacity="0.52"/>
<rect x="182.02" y="408.67" width="1.19" height="4.93" fill="#8018f0" fill-opacity="0.84"/>
<rect x="261.12" y="405.19" width="1.3" height="3.9" fill="#6818f0" fill-opacity="0.39"/>
<rect x="215.95" y="465.77" width="1.03" height="2.77" fill="#3810e0" fill-opacity="0.67"/>
<rect x="209.21" y="407.73" width="1.42" height="1.44" fill="#2010c0" fill-opacity="0.58"/>
<rect x="208.27" y="426.87" width="1.09" height="4.1" fill="#8018f0" fill-opacity="0.78"/>
<rect x="192.59" y="381.12" width="1.28" height="1.73" fill="#8018f0" fill-opacity="0.78"/>
<rect x="209.85" y="407.9" width="1.21" height="3.43" fill="#3810e0" fill-opacity="0.74"/>
<rect x="246.22" y="455.9" width="1.32" height="1.34" fill="#1800a0" fill-opacity="0.43"/>
<rect x="190.82" y="461.49" width="1.11" height="5.31" fill="#1800a0" fill-opacity="0.32"/>
<rect x="215.25" y="467.8" width="1.15" height="1.61" fill="#6818f0" fill-opacity="0.45"/>
<rect x="180.1" y="446.09" width="1.26" height="1.33" fill="#2010c0" fill-opacity="0.76"/>
<rect x="179.82" y="362.12" width="1.39" height="4.48" fill="#1800a0" fill-opacity="0.46"/>
<rect x="250.68" y="414.49" width="1.16" height="2.96" fill="#1800a0" fill-opacity="0.41"/>
<rect x="247.33" y="422.95" width="1.39" height="5.34" fill="#4010d0" fill-opacity="0.6"/>
<rect x="230.97" y="403.08" width="1.02" height="1.9" fill="#d030e0" fill-opacity="0.44"/>
<rect x="253.07" y="394.95" width="1.15" height="1.3" fill="#4010d0" fill-opacity="0.5"/>
<rect x="235.17" y="416.59" width="1.16" height="1.36" fill="#8018f0" fill-opacity="0.67"/>
<rect x="200.16" y="359.57" width="1.46" height="3.16" fill="#6818f0" fill-opacity="0.48"/>
<rect x="148.39" y="390.67" width="1.35" height="1.31" fill="#9020e0" fill-opacity="0.65"/>
<rect x="205.96" y="352.5" width="1.15" height="1.62" fill="#1800a0" fill-opacity="0.67"/>
<rect x="212.89" y="413.88" width="1.39" height="1.33" fill="#e030c0" fill-opacity="0.37"/>
<rect x="223.61" y="379.56" width="1.45" height="1.53" fill="#a020f0" fill-opacity="0.48"/>
<rect x="226.62" y="418.73" width="1.32" height="4.24" fill="#1800a0" fill-opacity="0.54"/>
<rect x="161.96" y="379.24" width="1.48" height="2.59" fill="#2010c0" fill-opacity="0.41"/>
<rect x="212.1" y="419.15" width="1.38" height="5.48" fill="#1800a0" fill-opacity="0.61"/>
<rect x="154.6" y="436.25" width="1.15" height="2.21" fill="#4010d0" fill-opacity="0.8"/>
<rect x="166.59" y="374.37" width="1.08" height="1.57" fill="#9020e0" fill-opacity="0.69"/>
<rect x="229.16" y="392.63" width="1.41" height="4.14" fill="#ff50a0" fill-opacity="0.62"/>
<rect x="179.3" y="401.15" width="1.08" height="2.29" fill="#e030c0" fill-opacity="0.76"/>
<rect x="217.05" y="431.36" width="1.05" height="2.86" fill="#ff50a0" fill-opacity="0.6"/>
<rect x="185.08" y="439.18" width="1.48" height="1.73" fill="#9020e0" fill-opacity="0.51"/>
<rect x="263.05" y="376.45" width="1.16" height="3.23" fill="#4010d0" fill-opacity="0.73"/>
<rect x="235.88" y="440.59" width="1.28" height="1.75" fill="#3810e0" fill-opacity="0.49"/>
<rect x="215.04" y="392.46" width="1.45" height="5.15" fill="#a020f0" fill-opacity="0.64"/>
<rect x="151.89" y="414.89" width="1.37" height="2.14" fill="#9020e0" fill-opacity="0.59"/>
<rect x="234.62" y="357.55" width="1.19" height="3.7" fill="#2010c0" fill-opacity="0.71"/>
<rect x="214.02" y="414.87" width="1.42" height="5.5" fill="#a020f0" fill-opacity="0.82"/>
<rect x="195.21" y="415.11" width="1.12" height="1.32" fill="#a020f0" fill-opacity="0.65"/>
<rect x="214.71" y="404.57" width="1.4" height="1.75" fill="#6818f0" fill-opacity="0.37"/>
<rect x="233.46" y="407.69" width="1.06" height="2.62" fill="#2010c0" fill-opacity="0.63"/>
<rect x="206.38" y="407.63" width="1.49" height="1.42" fill="#6818f0" fill-opacity="0.56"/>
<rect x="263.4" y="374.23" width="1.15" height="1.54" fill="#3810e0" fill-opacity="0.77"/>
<rect x="252.04" y="426.51" width="1.3" height="4.71" fill="#9020e0" fill-opacity="0.36"/>
<rect x="249.58" y="364.18" width="1.42" height="5.09" fill="#3810e0" fill-opacity="0.45"/>
<rect x="170.78" y="370.27" width="1.28" height="4.94" fill="#6818f0" fill-opacity="0.5"/>
<rect x="251.96" y="364.51" width="1.5" height="5.53" fill="#2010c0" fill-opacity="0.66"/>
<rect x="172.58" y="444.65" width="1.04" height="1.32" fill="#2010c0" fill-opacity="0.77"/>
<rect x="188.98" y="412.1" width="1.12" height="1.43" fill="#6818f0" fill-opacity="0.68"/>
<rect x="205.54" y="396.82" width="1.28" height="5.42" fill="#9020e0" fill-opacity="0.4"/>
<rect x="196.33" y="388.98" width="1.42" height="2.11" fill="#1800a0" fill-opacity="0.52"/>
<rect x="183.82" y="465.71" width="1.11" height="1.72" fill="#4010d0" fill-opacity="0.41"/>
<rect x="191.67" y="418.01" width="1.03" height="1.39" fill="#6818f0" fill-opacity="0.59"/>
<rect x="193.04" y="407.46" width="1.17" height="2.47" fill="#9020e0" fill-opacity="0.6"/>
<rect x="211.36" y="418.55" width="1.45" height="2.04" fill="#2010c0" fill-opacity="0.73"/>
<rect x="155.53" y="419.64" width="1.16" height="4.39" fill="#9020e0" fill-opacity="0.5"/>
<rect x="222.81" y="365.38" width="1.23" height="4.96" fill="#4010d0" fill-opacity="0.56"/>
<rect x="215.45" y="349.3" width="1.22" height="3.46" fill="#2010c0" fill-opacity="0.59"/>
<rect x="211.17" y="409.58" width="1.11" height="1.99" fill="#d030e0" fill-opacity="0.38"/>
<rect x="241.26" y="426.86" width="1.23" height="2.99" fill="#a020f0" fill-opacity="0.44"/>
<rect x="242.52" y="418.87" width="1.22" height="4.1" fill="#a020f0" fill-opacity="0.67"/>
<rect x="187.35" y="416.9" width="1.36" height="1.35" fill="#1800a0" fill-opacity="0.57"/>
<rect x="189.33" y="459.21" width="1.32" height="1.3" fill="#1800a0" fill-opacity="0.53"/>
<rect x="146.15" y="412.32" width="1.37" height="3.16" fill="#9020e0" fill-opacity="0.53"/>
<rect x="186.15" y="353.82" width="1.16" height="1.7" fill="#1800a0" fill-opacity="0.44"/>
<rect x="178.71" y="452.97" width="1.32" height="2.55" fill="#1800a0" fill-opacity="0.33"/>
<rect x="240.83" y="362.73" width="1.3" height="2.39" fill="#4010d0" fill-opacity="0.59"/>
<rect x="215.75" y="367.2" width="1.42" height="1.31" fill="#3810e0" fill-opacity="0.48"/>
<rect x="164.84" y="431.35" width="1" height="1.61" fill="#4010d0" fill-opacity="0.42"/>
</g>
<rect x="72.7" y="221.4" width="17.1" height="96.3" fill="none" stroke="#149a40" stroke-width="1" stroke-dasharray="2.6 1.8"/>
<rect x="33.4" y="272.4" width="86" height="17.1" fill="none" stroke="#149a40" stroke-width="1" stroke-dasharray="2.6 1.8"/>
<rect x="203.1" y="221.4" width="17.7" height="107.9" fill="none" stroke="#149a40" stroke-width="1" stroke-dasharray="2.6 1.8"/>
<rect x="158.1" y="280.5" width="97.1" height="17.6" fill="none" stroke="#149a40" stroke-width="1" stroke-dasharray="2.6 1.8"/>
<rect x="72.3" y="352.5" width="17.7" height="107.9" fill="none" stroke="#149a40" stroke-width="1" stroke-dasharray="2.6 1.8"/>
<rect x="26.1" y="411.2" width="98.4" height="17.2" fill="none" stroke="#149a40" stroke-width="1" stroke-dasharray="2.6 1.8"/>
<rect x="201.9" y="353.3" width="20" height="107.9" fill="none" stroke="#149a40" stroke-width="1" stroke-dasharray="2.6 1.8"/>
<rect x="159" y="412.9" width="97.6" height="17.7" fill="none" stroke="#149a40" stroke-width="1" stroke-dasharray="2.6 1.8"/>
<text x="82.4" y="220.1" font-family="'Liberation Sans',Arial,sans-serif" font-size="9.6" font-weight="bold" text-anchor="middle" fill="#fff" textLength="57.6" lengthAdjust="spacingAndGlyphs" >Confocal XY</text>
<text x="207" y="220.1" font-family="'Liberation Sans',Arial,sans-serif" font-size="9.6" font-weight="bold" text-anchor="middle" fill="#fff" textLength="55.3" lengthAdjust="spacingAndGlyphs" >SBR-Net XY</text>
<text x="77.8" y="353.4" font-family="'Liberation Sans',Arial,sans-serif" font-size="9.6" font-weight="bold" text-anchor="middle" fill="#fff" textLength="47.6" lengthAdjust="spacingAndGlyphs" >FS-Net XY</text>
<text x="211.6" y="354.1" font-family="'Liberation Sans',Arial,sans-serif" font-size="9.6" font-weight="bold" text-anchor="middle" fill="#fff" textLength="83" lengthAdjust="spacingAndGlyphs" >ADMM inverse XY</text>
<rect x="238.9" y="464" width="30" height="2.9" fill="#fff"/>
<text x="241.7" y="462.6" font-family="'Liberation Serif','Times New Roman',serif" font-size="8" fill="#fff" textLength="25.2" lengthAdjust="spacingAndGlyphs">500 <tspan font-style="italic">μm</tspan></text>
<polyline points="18.6,319 18.6,333.2 31,333.2" fill="none" stroke="#fff" stroke-width="1.3"/>
<polygon points="18.6,315.6 16.2,320.2 21,320.2" fill="#fff"/>
<polygon points="35,333.2 30.4,330.8 30.4,335.6" fill="#fff"/>
<text x="18.9" y="315.2" font-family="'Liberation Serif','Times New Roman',serif" font-size="8.2" font-weight="normal" text-anchor="middle" fill="#fff" font-style="italic">y</text>
<text x="38.4" y="336.3" font-family="'Liberation Serif','Times New Roman',serif" font-size="8.2" font-weight="normal" text-anchor="middle" fill="#fff" font-style="italic">x</text>
<text x="315.5" y="208.8" font-family="'Liberation Sans',Arial,sans-serif" font-size="9.4" font-weight="bold" text-anchor="middle" fill="#000" textLength="29.7" lengthAdjust="spacingAndGlyphs" >XY int.</text>
<text x="448" y="210.5" font-family="'Liberation Sans',Arial,sans-serif" font-size="9.2" font-weight="bold" text-anchor="middle" fill="#000" textLength="81" lengthAdjust="spacingAndGlyphs" >XZ horizontal ROI</text>
<text x="681.2" y="211" font-family="'Liberation Sans',Arial,sans-serif" font-size="9.2" font-weight="bold" text-anchor="middle" fill="#000" textLength="68.6" lengthAdjust="spacingAndGlyphs" >YZ vertical ROI</text>
<text x="0" y="0" font-family="'Liberation Sans',Arial,sans-serif" font-size="9.6" font-weight="bold" text-anchor="middle" fill="#000" textLength="41.2" lengthAdjust="spacingAndGlyphs" transform="translate(797.6 245.3) rotate(90)">Confocal</text>
<text x="0" y="0" font-family="'Liberation Sans',Arial,sans-serif" font-size="9.6" font-weight="bold" text-anchor="middle" fill="#000" textLength="39.1" lengthAdjust="spacingAndGlyphs" transform="translate(797.6 310) rotate(90)">SBR-Net</text>
<text x="0" y="0" font-family="'Liberation Sans',Arial,sans-serif" font-size="9.6" font-weight="bold" text-anchor="middle" fill="#000" textLength="33.2" lengthAdjust="spacingAndGlyphs" transform="translate(797.6 375.6) rotate(90)">FS-Net</text>
<text x="0" y="0" font-family="'Liberation Sans',Arial,sans-serif" font-size="9.6" font-weight="bold" text-anchor="middle" fill="#000" textLength="29.9" lengthAdjust="spacingAndGlyphs" transform="translate(797.6 439.5) rotate(90)">ADMM</text>
<clipPath id="cxy0"><rect x="283" y="212.3" width="63.3" height="63.4"/></clipPath>
<g clip-path="url(#cxy0)"><g filter="url(#cmG)">
<rect x="283" y="212.3" width="63.3" height="63.4" fill="#000"/>
<ellipse cx="326.4" cy="243.3" rx="5.32" ry="5.32" fill="url(#gf)" fill-opacity="1"/>
<ellipse cx="315.5" cy="254.2" rx="4.94" ry="4.75" fill="url(#gf)" fill-opacity="1"/>
<ellipse cx="325.2" cy="264.1" rx="5.03" ry="5.03" fill="url(#gf)" fill-opacity="1"/>
<ellipse cx="290.1" cy="257.8" rx="3.99" ry="4.56" fill="url(#gf)" fill-opacity="1"/>
<ellipse cx="296.7" cy="254.2" rx="3.7" ry="3.7" fill="url(#gf)" fill-opacity="1"/>
<ellipse cx="309.3" cy="237.1" rx="3.61" ry="3.61" fill="url(#gb)" fill-opacity="0.68"/>
<ellipse cx="309" cy="266.5" rx="3.61" ry="3.61" fill="url(#gb)" fill-opacity="0.68"/>
<ellipse cx="340.9" cy="257.5" rx="3.8" ry="3.8" fill="url(#gb)" fill-opacity="0.68"/>
<ellipse cx="343.8" cy="249.1" rx="3.04" ry="3.04" fill="url(#gb)" fill-opacity="0.42"/>
<ellipse cx="330.7" cy="255.4" rx="3.61" ry="1.9" fill="url(#gb)" fill-opacity="0.37"/>
<ellipse cx="317.4" cy="231.7" rx="2.66" ry="2.09" fill="url(#gb)" fill-opacity="0.37"/>
<ellipse cx="289.9" cy="221.6" rx="2.47" ry="2.85" fill="url(#gb)" fill-opacity="0.37"/>
<ellipse cx="289.4" cy="216.5" rx="1.9" ry="1.9" fill="url(#gb)" fill-opacity="0.32"/>
<ellipse cx="303.5" cy="221" rx="1.42" ry="2.38" fill="url(#gb)" fill-opacity="0.24"/>
</g></g>
<clipPath id="cxy1"><rect x="283" y="277.8" width="63.3" height="63.3"/></clipPath>
<g clip-path="url(#cxy1)"><g filter="url(#cmG)">
<rect x="283" y="277.8" width="63.3" height="63.3" fill="#000"/>
<ellipse cx="293.8" cy="284.4" rx="3.04" ry="3.04" fill="url(#gb)" fill-opacity="0.6"/>
<ellipse cx="285.5" cy="291.2" rx="1.52" ry="1.52" fill="url(#gb)" fill-opacity="0.3"/>
<ellipse cx="312.2" cy="304.6" rx="2.28" ry="1.42" fill="url(#gb)" fill-opacity="0.37"/>
<ellipse cx="326.8" cy="312" rx="3.23" ry="3.23" fill="url(#gb)" fill-opacity="0.62"/>
<ellipse cx="293" cy="324.6" rx="3.42" ry="3.42" fill="url(#gb)" fill-opacity="0.8"/>
<ellipse cx="299.9" cy="322.1" rx="2.47" ry="2.66" fill="url(#gb)" fill-opacity="0.4"/>
<ellipse cx="317.2" cy="322.4" rx="3.23" ry="3.61" fill="url(#gb)" fill-opacity="0.76"/>
<ellipse cx="332.5" cy="323.4" rx="1.52" ry="1.33" fill="url(#gb)" fill-opacity="0.3"/>
<ellipse cx="342" cy="324.8" rx="3.04" ry="3.04" fill="url(#gb)" fill-opacity="0.55"/>
<ellipse cx="312.8" cy="332.5" rx="2.66" ry="2.66" fill="url(#gb)" fill-opacity="0.52"/>
<ellipse cx="326.8" cy="331.5" rx="3.23" ry="3.23" fill="url(#gb)" fill-opacity="0.8"/>
</g></g>
<clipPath id="cxy2"><rect x="283" y="343.6" width="63.3" height="63"/></clipPath>
<g clip-path="url(#cxy2)"><g filter="url(#cmG)">
<rect x="283" y="343.6" width="63.3" height="63" fill="#000"/>
<ellipse cx="297.7" cy="354.1" rx="2.47" ry="2.47" fill="url(#gb)" fill-opacity="0.39"/>
<ellipse cx="330" cy="380.6" rx="3.23" ry="3.42" fill="url(#gb)" fill-opacity="0.66"/>
<ellipse cx="304.9" cy="388.6" rx="2.47" ry="2.28" fill="url(#gb)" fill-opacity="0.4"/>
<ellipse cx="297.7" cy="391" rx="3.04" ry="3.04" fill="url(#gb)" fill-opacity="0.55"/>
<ellipse cx="320.6" cy="389.6" rx="2.66" ry="3.61" fill="url(#gb)" fill-opacity="0.55"/>
<ellipse cx="343.8" cy="392.2" rx="2.66" ry="2.66" fill="url(#gb)" fill-opacity="0.42"/>
<ellipse cx="316.2" cy="398.7" rx="2.66" ry="2.66" fill="url(#gb)" fill-opacity="0.52"/>
<ellipse cx="330" cy="398.4" rx="3.42" ry="3.04" fill="url(#gb)" fill-opacity="0.56"/>
<ellipse cx="317.5" cy="373.8" rx="1.14" ry="1.14" fill="url(#gb)" fill-opacity="0.2"/>
</g></g>
<clipPath id="cxy3"><rect x="283" y="409" width="63.3" height="62.8"/></clipPath>
<g clip-path="url(#cxy3)"><g filter="url(#cmG)">
<rect x="283" y="409" width="63.3" height="62.8" fill="#000"/>
<ellipse cx="297.1" cy="415.9" rx="3.61" ry="2.85" fill="url(#gb)" fill-opacity="0.5" transform="rotate(-20 297.1 415.9)"/>
<ellipse cx="289" cy="423.1" rx="3.04" ry="3.23" fill="url(#gb)" fill-opacity="0.24"/>
<ellipse cx="314.3" cy="432.2" rx="2.85" ry="3.04" fill="url(#gb)" fill-opacity="0.24"/>
<ellipse cx="327.1" cy="440.5" rx="3.8" ry="3.04" fill="url(#gb)" fill-opacity="0.62"/>
<ellipse cx="309.7" cy="447.8" rx="2.47" ry="4.56" fill="url(#gb)" fill-opacity="0.24"/>
<ellipse cx="318.4" cy="449.2" rx="2.66" ry="3.04" fill="url(#gb)" fill-opacity="0.5"/>
<ellipse cx="297.1" cy="451.1" rx="3.04" ry="2.09" fill="url(#gb)" fill-opacity="0.37"/>
<ellipse cx="340.9" cy="451.4" rx="3.23" ry="2.28" fill="url(#gb)" fill-opacity="0.4"/>
<ellipse cx="326.4" cy="457.2" rx="3.04" ry="2.85" fill="url(#gb)" fill-opacity="0.66"/>
<ellipse cx="314.8" cy="410.8" rx="2.47" ry="2.85" fill="url(#gb)" fill-opacity="0.24"/>
<ellipse cx="340.1" cy="410.8" rx="2.47" ry="3.04" fill="url(#gb)" fill-opacity="0.27"/>
<ellipse cx="301.7" cy="470.2" rx="4.27" ry="2.09" fill="url(#gb)" fill-opacity="0.27"/>
<ellipse cx="312" cy="458" rx="1.9" ry="5.7" fill="url(#gb)" fill-opacity="0.18"/>
</g></g>
<clipPath id="cxz0"><rect x="348.6" y="212.3" width="210.9" height="63.4"/></clipPath>
<g clip-path="url(#cxz0)"><g filter="url(#cmG)">
<rect x="348.6" y="212.3" width="210.9" height="63.4" fill="#000"/>
<ellipse cx="355.5" cy="243.8" rx="3.2" ry="7.15" fill="url(#gb)" fill-opacity="0.9" transform="rotate(20 355.5 243.8)"/>
<ellipse cx="378.4" cy="247.3" rx="2.3" ry="6.6" fill="url(#gb)" fill-opacity="0.57" transform="rotate(15 378.4 247.3)"/>
<ellipse cx="386.3" cy="234.3" rx="2.6" ry="5.5" fill="url(#gb)" fill-opacity="0.82"/>
<ellipse cx="406.5" cy="230.2" rx="2.6" ry="5.5" fill="url(#gb)" fill-opacity="0.86"/>
<ellipse cx="410.2" cy="231.5" rx="2.2" ry="4.18" fill="url(#gb)" fill-opacity="0.52"/>
<ellipse cx="436.6" cy="230.2" rx="2.2" ry="4.62" fill="url(#gb)" fill-opacity="0.58"/>
<ellipse cx="390.4" cy="253.4" rx="2" ry="3.74" fill="url(#gb)" fill-opacity="0.4"/>
<ellipse cx="409.8" cy="252" rx="2" ry="3.52" fill="url(#gb)" fill-opacity="0.4"/>
<ellipse cx="413.7" cy="251.6" rx="1.8" ry="3.3" fill="url(#gb)" fill-opacity="0.37"/>
<ellipse cx="452.7" cy="235.6" rx="2.2" ry="3.52" fill="url(#gb)" fill-opacity="0.44"/>
<ellipse cx="396.6" cy="259.6" rx="1.8" ry="2.86" fill="url(#gb)" fill-opacity="0.29"/>
<ellipse cx="366.5" cy="232.2" rx="1.8" ry="2.86" fill="url(#gb)" fill-opacity="0.29"/>
<ellipse cx="469.8" cy="222" rx="2.5" ry="4.4" fill="url(#gb)" fill-opacity="0.88"/>
<ellipse cx="469.8" cy="226.8" rx="2.5" ry="3.96" fill="url(#gb)" fill-opacity="0.88"/>
<ellipse cx="465" cy="230.2" rx="2.3" ry="4.4" fill="url(#gb)" fill-opacity="0.82"/>
<ellipse cx="484.1" cy="231.5" rx="2.2" ry="4.4" fill="url(#gb)" fill-opacity="0.66"/>
<ellipse cx="490" cy="230.2" rx="2.5" ry="4.95" fill="url(#gb)" fill-opacity="0.78"/>
<ellipse cx="477.3" cy="230.8" rx="2" ry="3.74" fill="url(#gb)" fill-opacity="0.42"/>
<ellipse cx="489.6" cy="238.4" rx="1.8" ry="3.52" fill="url(#gb)" fill-opacity="0.4"/>
<ellipse cx="498.5" cy="242.5" rx="2.3" ry="4.4" fill="url(#gb)" fill-opacity="0.58"/>
<ellipse cx="511.9" cy="226" rx="2.3" ry="4.4" fill="url(#gb)" fill-opacity="0.82"/>
<ellipse cx="518.3" cy="235.6" rx="2.5" ry="4.95" fill="url(#gb)" fill-opacity="0.78"/>
<ellipse cx="509.5" cy="241.1" rx="2.2" ry="3.96" fill="url(#gb)" fill-opacity="0.54"/>
<ellipse cx="530.7" cy="243.1" rx="2.2" ry="3.96" fill="url(#gb)" fill-opacity="0.54"/>
<ellipse cx="545.3" cy="245.2" rx="2.3" ry="4.18" fill="url(#gb)" fill-opacity="0.72"/>
<ellipse cx="456.1" cy="236.3" rx="2" ry="3.3" fill="url(#gb)" fill-opacity="0.42"/>
<ellipse cx="461.8" cy="240.4" rx="2" ry="3.3" fill="url(#gb)" fill-opacity="0.4"/>
<ellipse cx="461.8" cy="247.3" rx="2" ry="3.3" fill="url(#gb)" fill-opacity="0.4"/>
<ellipse cx="536.8" cy="257.5" rx="1.8" ry="3.08" fill="url(#gb)" fill-opacity="0.3"/>
<ellipse cx="546.4" cy="270.5" rx="1.8" ry="3.08" fill="url(#gb)" fill-opacity="0.3"/>
<ellipse cx="556" cy="269.8" rx="1.8" ry="3.08" fill="url(#gb)" fill-opacity="0.3"/>
<ellipse cx="370.6" cy="271.6" rx="1.6" ry="2.42" fill="url(#gb)" fill-opacity="0.28"/>
<ellipse cx="376.8" cy="265" rx="1.5" ry="2.42" fill="url(#gb)" fill-opacity="0.27"/>
<ellipse cx="478.09" cy="232.7" rx="1.4" ry="2.2" fill="url(#gb)" fill-opacity="0.32"/>
<ellipse cx="540.72" cy="244.89" rx="1.4" ry="2.2" fill="url(#gb)" fill-opacity="0.33"/>
<ellipse cx="361.69" cy="249.73" rx="1.4" ry="2.2" fill="url(#gb)" fill-opacity="0.33"/>
<ellipse cx="483.2" cy="236.55" rx="1.4" ry="2.2" fill="url(#gb)" fill-opacity="0.23"/>
<ellipse cx="447.94" cy="222.07" rx="1.4" ry="2.2" fill="url(#gb)" fill-opacity="0.29"/>
<ellipse cx="468.49" cy="216.32" rx="1.4" ry="2.2" fill="url(#gb)" fill-opacity="0.25"/>
<ellipse cx="410.78" cy="242.63" rx="1.4" ry="2.2" fill="url(#gb)" fill-opacity="0.31"/>
<ellipse cx="387.28" cy="246.83" rx="1.4" ry="2.2" fill="url(#gb)" fill-opacity="0.24"/>
<ellipse cx="477.02" cy="219.11" rx="1.4" ry="2.2" fill="url(#gb)" fill-opacity="0.22"/>
<ellipse cx="526.8" cy="229.01" rx="1.4" ry="2.2" fill="url(#gb)" fill-opacity="0.25"/>
<ellipse cx="548.55" cy="250.55" rx="1.4" ry="2.2" fill="url(#gb)" fill-opacity="0.25"/>
<ellipse cx="544.45" cy="241.75" rx="1.4" ry="2.2" fill="url(#gb)" fill-opacity="0.3"/>
<ellipse cx="396.14" cy="247.13" rx="1.4" ry="2.2" fill="url(#gb)" fill-opacity="0.3"/>
<ellipse cx="545.45" cy="249.9" rx="1.4" ry="2.2" fill="url(#gb)" fill-opacity="0.26"/>
<ellipse cx="426.79" cy="222.86" rx="1.4" ry="2.2" fill="url(#gb)" fill-opacity="0.24"/>
<ellipse cx="368.77" cy="243" rx="1.4" ry="2.2" fill="url(#gb)" fill-opacity="0.29"/>
<ellipse cx="356.66" cy="256.74" rx="1.4" ry="2.2" fill="url(#gb)" fill-opacity="0.26"/>
<ellipse cx="416.75" cy="239.13" rx="1.4" ry="2.2" fill="url(#gb)" fill-opacity="0.28"/>
<ellipse cx="417.9" cy="231.47" rx="1.4" ry="2.2" fill="url(#gb)" fill-opacity="0.3"/>
<ellipse cx="367.17" cy="258.51" rx="1.4" ry="2.2" fill="url(#gb)" fill-opacity="0.22"/>
<ellipse cx="502.96" cy="237.76" rx="1.4" ry="2.2" fill="url(#gb)" fill-opacity="0.22"/>
<ellipse cx="510.4" cy="228.59" rx="1.4" ry="2.2" fill="url(#gb)" fill-opacity="0.29"/>
<ellipse cx="357.78" cy="242.32" rx="1.4" ry="2.2" fill="url(#gb)" fill-opacity="0.24"/>
<ellipse cx="543.22" cy="233.78" rx="1.4" ry="2.2" fill="url(#gb)" fill-opacity="0.31"/>
<ellipse cx="538.21" cy="248.52" rx="1.4" ry="2.2" fill="url(#gb)" fill-opacity="0.26"/>
<ellipse cx="425.54" cy="230.97" rx="1.4" ry="2.2" fill="url(#gb)" fill-opacity="0.31"/>
<ellipse cx="377.18" cy="249.43" rx="1.4" ry="2.2" fill="url(#gb)" fill-opacity="0.32"/>
<ellipse cx="524.5" cy="224.59" rx="1.4" ry="2.2" fill="url(#gb)" fill-opacity="0.33"/>
<ellipse cx="373.87" cy="241.77" rx="1.4" ry="2.2" fill="url(#gb)" fill-opacity="0.29"/>
<ellipse cx="535.95" cy="234.55" rx="1.4" ry="2.2" fill="url(#gb)" fill-opacity="0.33"/>
<ellipse cx="462.85" cy="222.88" rx="1.4" ry="2.2" fill="url(#gb)" fill-opacity="0.26"/>
<ellipse cx="390.79" cy="229.84" rx="1.4" ry="2.2" fill="url(#gb)" fill-opacity="0.24"/>
<ellipse cx="491.08" cy="239.42" rx="1.4" ry="2.2" fill="url(#gb)" fill-opacity="0.24"/>
<ellipse cx="365.52" cy="259.48" rx="1.4" ry="2.2" fill="url(#gb)" fill-opacity="0.28"/>
</g></g>
<clipPath id="cxz1"><rect x="348.6" y="277.8" width="210.9" height="63.3"/></clipPath>
<g clip-path="url(#cxz1)"><g filter="url(#cmG)">
<rect x="348.6" y="277.8" width="210.9" height="63.3" fill="#000"/>
<ellipse cx="356.9" cy="326.6" rx="1.87" ry="6.09" fill="url(#gb)" fill-opacity="0.68"/>
<ellipse cx="356.2" cy="292.4" rx="1.01" ry="4.35" fill="url(#gb)" fill-opacity="0.39"/>
<ellipse cx="381.2" cy="292.4" rx="1.01" ry="4.35" fill="url(#gb)" fill-opacity="0.36"/>
<ellipse cx="380.8" cy="327.3" rx="1.56" ry="6.09" fill="url(#gb)" fill-opacity="0.42"/>
<ellipse cx="387" cy="317" rx="1.33" ry="5.08" fill="url(#gb)" fill-opacity="0.44"/>
<ellipse cx="387.4" cy="323.9" rx="1.33" ry="4.93" fill="url(#gb)" fill-opacity="0.52"/>
<ellipse cx="404.1" cy="321.1" rx="1.56" ry="7.25" fill="url(#gb)" fill-opacity="0.62"/>
<ellipse cx="407.1" cy="317" rx="1.56" ry="5.8" fill="url(#gb)" fill-opacity="0.72"/>
<ellipse cx="404.4" cy="336.2" rx="1.72" ry="6.67" fill="url(#gb)" fill-opacity="0.77"/>
<ellipse cx="413" cy="332.1" rx="1.4" ry="6.09" fill="url(#gb)" fill-opacity="0.54"/>
<ellipse cx="399.7" cy="332.1" rx="1.17" ry="5.08" fill="url(#gb)" fill-opacity="0.4"/>
<ellipse cx="438.3" cy="302" rx="1.25" ry="5.22" fill="url(#gb)" fill-opacity="0.52"/>
<ellipse cx="438.3" cy="323.9" rx="1.25" ry="5.22" fill="url(#gb)" fill-opacity="0.52"/>
<ellipse cx="393.6" cy="330.8" rx="0.94" ry="3.62" fill="url(#gb)" fill-opacity="0.32"/>
<ellipse cx="381.5" cy="302" rx="0.78" ry="2.9" fill="url(#gb)" fill-opacity="0.27"/>
<ellipse cx="455.4" cy="304.7" rx="1.72" ry="6.52" fill="url(#gb)" fill-opacity="0.72"/>
<ellipse cx="458.8" cy="299.9" rx="1.25" ry="5.08" fill="url(#gb)" fill-opacity="0.42"/>
<ellipse cx="468.1" cy="298.6" rx="1.33" ry="5.8" fill="url(#gb)" fill-opacity="0.44"/>
<ellipse cx="468.1" cy="311.6" rx="1.4" ry="6.09" fill="url(#gb)" fill-opacity="0.64"/>
<ellipse cx="473.2" cy="298.6" rx="1.56" ry="7.54" fill="url(#gb)" fill-opacity="0.7"/>
<ellipse cx="473.2" cy="310.5" rx="0.94" ry="4.35" fill="url(#gb)" fill-opacity="0.34"/>
<ellipse cx="480.7" cy="310.9" rx="1.4" ry="5.8" fill="url(#gb)" fill-opacity="0.58"/>
<ellipse cx="488.3" cy="300.6" rx="1.4" ry="6.52" fill="url(#gb)" fill-opacity="0.64"/>
<ellipse cx="493" cy="299.3" rx="1.4" ry="6.52" fill="url(#gb)" fill-opacity="0.64"/>
<ellipse cx="493" cy="291.7" rx="1.09" ry="3.77" fill="url(#gb)" fill-opacity="0.38"/>
<ellipse cx="494.8" cy="311.3" rx="1.72" ry="6.09" fill="url(#gb)" fill-opacity="0.7"/>
<ellipse cx="502.6" cy="297.9" rx="1.4" ry="7.25" fill="url(#gb)" fill-opacity="0.68"/>
<ellipse cx="514.2" cy="302" rx="1.25" ry="5.22" fill="url(#gb)" fill-opacity="0.54"/>
<ellipse cx="516.6" cy="309.5" rx="1.33" ry="6.52" fill="url(#gb)" fill-opacity="0.58"/>
<ellipse cx="522.9" cy="309.5" rx="1.48" ry="6.52" fill="url(#gb)" fill-opacity="0.7"/>
<ellipse cx="528.6" cy="315.7" rx="0.78" ry="5.8" fill="url(#gb)" fill-opacity="0.34"/>
<ellipse cx="535.4" cy="306.8" rx="0.78" ry="6.52" fill="url(#gb)" fill-opacity="0.38"/>
<ellipse cx="540.9" cy="310.9" rx="1.17" ry="5.8" fill="url(#gb)" fill-opacity="0.42"/>
<ellipse cx="550.8" cy="302" rx="1.4" ry="5.22" fill="url(#gb)" fill-opacity="0.54"/>
<ellipse cx="465.4" cy="321.1" rx="1.09" ry="6.52" fill="url(#gb)" fill-opacity="0.42"/>
<ellipse cx="455.4" cy="329.4" rx="1.09" ry="6.52" fill="url(#gb)" fill-opacity="0.42"/>
<ellipse cx="462.5" cy="285" rx="0.94" ry="4.35" fill="url(#gb)" fill-opacity="0.32"/>
<ellipse cx="516.5" cy="290" rx="0.78" ry="3.62" fill="url(#gb)" fill-opacity="0.27"/>
<ellipse cx="442" cy="281" rx="0.94" ry="4.35" fill="url(#gb)" fill-opacity="0.32"/>
<ellipse cx="528" cy="322" rx="0.78" ry="3.62" fill="url(#gb)" fill-opacity="0.27"/>
<ellipse cx="535.4" cy="329" rx="0.78" ry="2.9" fill="url(#gb)" fill-opacity="0.27"/>
</g></g>
<clipPath id="cxz2"><rect x="348.6" y="343.6" width="210.9" height="63"/></clipPath>
<g clip-path="url(#cxz2)"><g filter="url(#cmG)">
<rect x="348.6" y="343.6" width="210.9" height="63" fill="#000"/>
<ellipse cx="353.5" cy="394.7" rx="1.17" ry="6.09" fill="url(#gb)" fill-opacity="0.52"/>
<ellipse cx="377.4" cy="396" rx="1.09" ry="5.51" fill="url(#gb)" fill-opacity="0.52"/>
<ellipse cx="383.3" cy="389.9" rx="1.01" ry="4.64" fill="url(#gb)" fill-opacity="0.42"/>
<ellipse cx="397.5" cy="389.9" rx="1.09" ry="5.08" fill="url(#gb)" fill-opacity="0.52"/>
<ellipse cx="403.4" cy="389.9" rx="0.86" ry="4.35" fill="url(#gb)" fill-opacity="0.37"/>
<ellipse cx="407.2" cy="389.9" rx="1.25" ry="5.8" fill="url(#gb)" fill-opacity="0.64"/>
<ellipse cx="401.1" cy="401.5" rx="1.17" ry="5.08" fill="url(#gb)" fill-opacity="0.42"/>
<ellipse cx="434.5" cy="368" rx="0.86" ry="5.08" fill="url(#gb)" fill-opacity="0.4"/>
<ellipse cx="450.9" cy="370.7" rx="1.25" ry="6.52" fill="url(#gb)" fill-opacity="0.47"/>
<ellipse cx="454.7" cy="386.9" rx="1.4" ry="5.08" fill="url(#gb)" fill-opacity="0.44"/>
<ellipse cx="450.9" cy="401.5" rx="1.17" ry="4.64" fill="url(#gb)" fill-opacity="0.4"/>
<ellipse cx="434.5" cy="379" rx="0.62" ry="2.17" fill="url(#gb)" fill-opacity="0.22"/>
<ellipse cx="461.3" cy="383" rx="1.25" ry="6.09" fill="url(#gb)" fill-opacity="0.67"/>
<ellipse cx="464" cy="381" rx="1.25" ry="6.52" fill="url(#gb)" fill-opacity="0.57"/>
<ellipse cx="463.6" cy="390.6" rx="1.09" ry="5.51" fill="url(#gb)" fill-opacity="0.42"/>
<ellipse cx="468.4" cy="365.9" rx="1.25" ry="6.52" fill="url(#gb)" fill-opacity="0.54"/>
<ellipse cx="469.1" cy="378.9" rx="1.56" ry="7.25" fill="url(#gb)" fill-opacity="0.74"/>
<ellipse cx="476.4" cy="390.6" rx="1.25" ry="6.09" fill="url(#gb)" fill-opacity="0.62"/>
<ellipse cx="483.7" cy="374.1" rx="1.4" ry="7.25" fill="url(#gb)" fill-opacity="0.62"/>
<ellipse cx="488.4" cy="368.7" rx="1.4" ry="7.25" fill="url(#gb)" fill-opacity="0.7"/>
<ellipse cx="488.4" cy="381.7" rx="1.25" ry="6.09" fill="url(#gb)" fill-opacity="0.57"/>
<ellipse cx="490.6" cy="377.6" rx="1.25" ry="5.08" fill="url(#gb)" fill-opacity="0.7"/>
<ellipse cx="497.4" cy="356.4" rx="1.25" ry="5.8" fill="url(#gb)" fill-opacity="0.4"/>
<ellipse cx="498.5" cy="367.3" rx="0.78" ry="2.9" fill="url(#gb)" fill-opacity="0.32"/>
<ellipse cx="511.5" cy="376.9" rx="1.25" ry="7.25" fill="url(#gb)" fill-opacity="0.62"/>
<ellipse cx="517.9" cy="376.9" rx="1.09" ry="6.52" fill="url(#gb)" fill-opacity="0.47"/>
<ellipse cx="509.5" cy="368" rx="0.7" ry="3.19" fill="url(#gb)" fill-opacity="0.32"/>
<ellipse cx="530.4" cy="368" rx="0.78" ry="3.19" fill="url(#gb)" fill-opacity="0.32"/>
<ellipse cx="530.4" cy="389.2" rx="0.78" ry="3.19" fill="url(#gb)" fill-opacity="0.3"/>
<ellipse cx="545.4" cy="368" rx="1.09" ry="4.64" fill="url(#gb)" fill-opacity="0.52"/>
<ellipse cx="497.4" cy="402.2" rx="0.94" ry="4.35" fill="url(#gb)" fill-opacity="0.4"/>
<ellipse cx="476.4" cy="378" rx="0.62" ry="5.8" fill="url(#gb)" fill-opacity="0.27"/>
<ellipse cx="468.5" cy="396" rx="0.78" ry="4.35" fill="url(#gb)" fill-opacity="0.32"/>
</g></g>
<clipPath id="cxz3"><rect x="348.6" y="409" width="210.9" height="62.8"/></clipPath>
<g clip-path="url(#cxz3)"><g filter="url(#cmG)">
<rect x="348.6" y="409" width="210.9" height="62.8" fill="#000"/>
<ellipse cx="353.7" cy="420.6" rx="2.25" ry="12.5" fill="url(#gb)" fill-opacity="0.47"/>
<ellipse cx="390.7" cy="413.8" rx="2.1" ry="5.5" fill="url(#gb)" fill-opacity="0.43"/>
<ellipse cx="419.8" cy="413.5" rx="2.1" ry="5.5" fill="url(#gb)" fill-opacity="0.45"/>
<ellipse cx="434.2" cy="435" rx="2.7" ry="26" fill="url(#gb)" fill-opacity="0.5"/>
<ellipse cx="434.2" cy="412" rx="2.4" ry="5" fill="url(#gb)" fill-opacity="0.6"/>
<ellipse cx="451.3" cy="428.8" rx="3" ry="20" fill="url(#gb)" fill-opacity="0.6"/>
<ellipse cx="451.3" cy="422" rx="2.4" ry="7" fill="url(#gb)" fill-opacity="0.71"/>
<ellipse cx="382.2" cy="446.3" rx="2.7" ry="7.5" fill="url(#gb)" fill-opacity="0.55" transform="rotate(8 382.2 446.3)"/>
<ellipse cx="416.4" cy="437.5" rx="3.3" ry="8.5" fill="url(#gb)" fill-opacity="0.75" transform="rotate(12 416.4 437.5)"/>
<ellipse cx="410.9" cy="457.6" rx="3" ry="11.5" fill="url(#gb)" fill-opacity="0.55" transform="rotate(15 410.9 457.6)"/>
<ellipse cx="428.7" cy="447.7" rx="2.55" ry="6.5" fill="url(#gb)" fill-opacity="0.55" transform="rotate(8 428.7 447.7)"/>
<ellipse cx="424.6" cy="464.5" rx="2.4" ry="7.5" fill="url(#gb)" fill-opacity="0.45" transform="rotate(15 424.6 464.5)"/>
<ellipse cx="436.6" cy="440.5" rx="2.55" ry="5.5" fill="url(#gb)" fill-opacity="0.55" transform="rotate(8 436.6 440.5)"/>
<ellipse cx="400.7" cy="424.8" rx="1.5" ry="1.2" fill="url(#gb)" fill-opacity="0.27"/>
<ellipse cx="468.7" cy="440" rx="3.45" ry="33" fill="url(#gb)" fill-opacity="0.85"/>
<ellipse cx="468.7" cy="415" rx="3" ry="8" fill="url(#gb)" fill-opacity="0.91"/>
<ellipse cx="464" cy="420" rx="2.25" ry="12" fill="url(#gb)" fill-opacity="0.45"/>
<ellipse cx="464" cy="448.7" rx="2.7" ry="9.5" fill="url(#gb)" fill-opacity="0.67"/>
<ellipse cx="458.6" cy="424.8" rx="1.5" ry="4.5" fill="url(#gb)" fill-opacity="0.4"/>
<ellipse cx="476.6" cy="425.8" rx="2.4" ry="17" fill="url(#gb)" fill-opacity="0.55"/>
<ellipse cx="483.7" cy="436.8" rx="2.7" ry="28" fill="url(#gb)" fill-opacity="0.61"/>
<ellipse cx="488.7" cy="437.4" rx="3" ry="28.5" fill="url(#gb)" fill-opacity="0.69"/>
<ellipse cx="497.8" cy="425.8" rx="3.3" ry="17" fill="url(#gb)" fill-opacity="0.65"/>
<ellipse cx="497.8" cy="430.3" rx="2.7" ry="6" fill="url(#gb)" fill-opacity="0.9"/>
<ellipse cx="502.9" cy="433.6" rx="2.7" ry="6.5" fill="url(#gb)" fill-opacity="0.75"/>
<ellipse cx="498.8" cy="452" rx="2.7" ry="7" fill="url(#gb)" fill-opacity="0.65"/>
<ellipse cx="501.9" cy="461.7" rx="1.8" ry="4.5" fill="url(#gb)" fill-opacity="0.43"/>
<ellipse cx="506.7" cy="415.5" rx="2.25" ry="6.5" fill="url(#gb)" fill-opacity="0.45"/>
<ellipse cx="511.5" cy="421.7" rx="2.7" ry="12.7" fill="url(#gb)" fill-opacity="0.65"/>
<ellipse cx="517.7" cy="423.7" rx="2.25" ry="14.7" fill="url(#gb)" fill-opacity="0.47"/>
<ellipse cx="525.9" cy="414.2" rx="2.25" ry="5.2" fill="url(#gb)" fill-opacity="0.57"/>
<ellipse cx="531.3" cy="429.6" rx="2.85" ry="9" fill="url(#gb)" fill-opacity="0.73"/>
<ellipse cx="535.7" cy="436" rx="2.55" ry="27" fill="url(#gb)" fill-opacity="0.57"/>
<ellipse cx="529.7" cy="464" rx="2.25" ry="6.5" fill="url(#gb)" fill-opacity="0.45"/>
<ellipse cx="544.7" cy="420.3" rx="2.25" ry="11.3" fill="url(#gb)" fill-opacity="0.47"/>
<ellipse cx="550.2" cy="412.8" rx="2.25" ry="3.8" fill="url(#gb)" fill-opacity="0.55"/>
<ellipse cx="550.2" cy="444" rx="2.1" ry="5.5" fill="url(#gb)" fill-opacity="0.45"/>
<ellipse cx="559" cy="415" rx="2.25" ry="8" fill="url(#gb)" fill-opacity="0.4"/>
</g></g>
<clipPath id="cyz0"><rect x="562" y="212.3" width="233.1" height="63.4"/></clipPath>
<g clip-path="url(#cyz0)"><g filter="url(#cmG)">
<rect x="562" y="212.3" width="233.1" height="63.4" fill="#000"/>
<ellipse cx="567.5" cy="263" rx="3.4" ry="7.15" fill="url(#gb)" fill-opacity="0.92"/>
<ellipse cx="568.2" cy="253.6" rx="2.8" ry="4.95" fill="url(#gb)" fill-opacity="0.82"/>
<ellipse cx="577.2" cy="252.9" rx="2" ry="3.85" fill="url(#gb)" fill-opacity="0.44"/>
<ellipse cx="589.6" cy="248.9" rx="2.8" ry="5.5" fill="url(#gb)" fill-opacity="0.84"/>
<ellipse cx="606.1" cy="247.9" rx="2" ry="4.4" fill="url(#gb)" fill-opacity="0.57"/>
<ellipse cx="635.5" cy="237" rx="2.6" ry="4.95" fill="url(#gb)" fill-opacity="0.78"/>
<ellipse cx="642" cy="232" rx="2.8" ry="5.28" fill="url(#gb)" fill-opacity="0.88"/>
<ellipse cx="644.6" cy="225.5" rx="2.8" ry="4.95" fill="url(#gb)" fill-opacity="0.92"/>
<ellipse cx="654.7" cy="233.4" rx="2.2" ry="4.4" fill="url(#gb)" fill-opacity="0.57"/>
<ellipse cx="645.6" cy="239.2" rx="1.8" ry="3.3" fill="url(#gb)" fill-opacity="0.42"/>
<ellipse cx="669.4" cy="227.6" rx="2.8" ry="5.5" fill="url(#gb)" fill-opacity="0.87"/>
<ellipse cx="621.7" cy="231.2" rx="2" ry="2.64" fill="url(#gb)" fill-opacity="0.38"/>
<ellipse cx="627.5" cy="237.7" rx="1.8" ry="2.42" fill="url(#gb)" fill-opacity="0.34"/>
<ellipse cx="650.3" cy="255.1" rx="1.6" ry="2.42" fill="url(#gb)" fill-opacity="0.28"/>
<ellipse cx="698.2" cy="221.8" rx="3" ry="6.05" fill="url(#gb)" fill-opacity="0.97"/>
<ellipse cx="708.4" cy="225.5" rx="3" ry="6.05" fill="url(#gb)" fill-opacity="0.94"/>
<ellipse cx="703.7" cy="230.5" rx="2.8" ry="4.95" fill="url(#gb)" fill-opacity="0.88"/>
<ellipse cx="704.3" cy="235.9" rx="3.4" ry="3.52" fill="url(#gb)" fill-opacity="0.62"/>
<ellipse cx="721.4" cy="219.7" rx="4.5" ry="4.4" fill="url(#gb)" fill-opacity="0.38"/>
<ellipse cx="772" cy="232.7" rx="2.5" ry="4.95" fill="url(#gb)" fill-opacity="0.86"/>
<ellipse cx="768.4" cy="239.9" rx="2.3" ry="4.4" fill="url(#gb)" fill-opacity="0.66"/>
<ellipse cx="756.8" cy="245.7" rx="2.3" ry="3.96" fill="url(#gb)" fill-opacity="0.58"/>
<ellipse cx="737.3" cy="243.5" rx="2.2" ry="3.96" fill="url(#gb)" fill-opacity="0.54"/>
<ellipse cx="730.3" cy="240.6" rx="2" ry="3.3" fill="url(#gb)" fill-opacity="0.52"/>
<ellipse cx="758" cy="227.6" rx="2" ry="3.52" fill="url(#gb)" fill-opacity="0.42"/>
<ellipse cx="744.2" cy="228.6" rx="2" ry="2.86" fill="url(#gb)" fill-opacity="0.38"/>
<ellipse cx="751" cy="226.2" rx="2" ry="2.86" fill="url(#gb)" fill-opacity="0.38"/>
<ellipse cx="748.1" cy="253.6" rx="1.8" ry="3.3" fill="url(#gb)" fill-opacity="0.38"/>
<ellipse cx="754.9" cy="260.9" rx="1.8" ry="3.3" fill="url(#gb)" fill-opacity="0.38"/>
<ellipse cx="771.2" cy="255.8" rx="1.8" ry="3.3" fill="url(#gb)" fill-opacity="0.38"/>
<ellipse cx="788.2" cy="254.4" rx="1.8" ry="3.3" fill="url(#gb)" fill-opacity="0.4"/>
<ellipse cx="695.1" cy="247.1" rx="1.8" ry="3.3" fill="url(#gb)" fill-opacity="0.38"/>
<ellipse cx="709.1" cy="240.6" rx="1.6" ry="2.86" fill="url(#gb)" fill-opacity="0.38"/>
<ellipse cx="687.8" cy="216.8" rx="2" ry="2.42" fill="url(#gb)" fill-opacity="0.28"/>
<ellipse cx="777" cy="234" rx="1.6" ry="3.3" fill="url(#gb)" fill-opacity="0.42"/>
<ellipse cx="711" cy="240" rx="1.4" ry="2.42" fill="url(#gb)" fill-opacity="0.32"/>
<ellipse cx="657.73" cy="223.36" rx="1.4" ry="2.2" fill="url(#gb)" fill-opacity="0.29"/>
<ellipse cx="752.74" cy="233.23" rx="1.4" ry="2.2" fill="url(#gb)" fill-opacity="0.27"/>
<ellipse cx="578.59" cy="257.85" rx="1.4" ry="2.2" fill="url(#gb)" fill-opacity="0.22"/>
<ellipse cx="677.55" cy="236.37" rx="1.4" ry="2.2" fill="url(#gb)" fill-opacity="0.24"/>
<ellipse cx="731.36" cy="241.53" rx="1.4" ry="2.2" fill="url(#gb)" fill-opacity="0.3"/>
<ellipse cx="744.09" cy="223.24" rx="1.4" ry="2.2" fill="url(#gb)" fill-opacity="0.27"/>
<ellipse cx="599.73" cy="249.31" rx="1.4" ry="2.2" fill="url(#gb)" fill-opacity="0.26"/>
<ellipse cx="668.41" cy="240.73" rx="1.4" ry="2.2" fill="url(#gb)" fill-opacity="0.32"/>
<ellipse cx="786.58" cy="241.81" rx="1.4" ry="2.2" fill="url(#gb)" fill-opacity="0.28"/>
<ellipse cx="730.87" cy="230.17" rx="1.4" ry="2.2" fill="url(#gb)" fill-opacity="0.25"/>
<ellipse cx="657.26" cy="221.23" rx="1.4" ry="2.2" fill="url(#gb)" fill-opacity="0.27"/>
<ellipse cx="789.38" cy="254.84" rx="1.4" ry="2.2" fill="url(#gb)" fill-opacity="0.3"/>
<ellipse cx="678.85" cy="224.32" rx="1.4" ry="2.2" fill="url(#gb)" fill-opacity="0.23"/>
<ellipse cx="627.54" cy="241.01" rx="1.4" ry="2.2" fill="url(#gb)" fill-opacity="0.32"/>
<ellipse cx="647.66" cy="237.73" rx="1.4" ry="2.2" fill="url(#gb)" fill-opacity="0.31"/>
<ellipse cx="722.98" cy="233.68" rx="1.4" ry="2.2" fill="url(#gb)" fill-opacity="0.31"/>
<ellipse cx="648.14" cy="235.71" rx="1.4" ry="2.2" fill="url(#gb)" fill-opacity="0.25"/>
<ellipse cx="675.76" cy="234.8" rx="1.4" ry="2.2" fill="url(#gb)" fill-opacity="0.3"/>
<ellipse cx="632.41" cy="244" rx="1.4" ry="2.2" fill="url(#gb)" fill-opacity="0.3"/>
<ellipse cx="697.23" cy="216.36" rx="1.4" ry="2.2" fill="url(#gb)" fill-opacity="0.29"/>
<ellipse cx="622.66" cy="239.38" rx="1.4" ry="2.2" fill="url(#gb)" fill-opacity="0.28"/>
<ellipse cx="750.57" cy="237.41" rx="1.4" ry="2.2" fill="url(#gb)" fill-opacity="0.32"/>
<ellipse cx="644.62" cy="234.75" rx="1.4" ry="2.2" fill="url(#gb)" fill-opacity="0.31"/>
<ellipse cx="753.17" cy="230.79" rx="1.4" ry="2.2" fill="url(#gb)" fill-opacity="0.32"/>
<ellipse cx="762.6" cy="240.95" rx="1.4" ry="2.2" fill="url(#gb)" fill-opacity="0.34"/>
<ellipse cx="782.17" cy="242.03" rx="1.4" ry="2.2" fill="url(#gb)" fill-opacity="0.28"/>
<ellipse cx="603.56" cy="248.04" rx="1.4" ry="2.2" fill="url(#gb)" fill-opacity="0.33"/>
<ellipse cx="673.86" cy="233.01" rx="1.4" ry="2.2" fill="url(#gb)" fill-opacity="0.31"/>
<ellipse cx="731.06" cy="222.82" rx="1.4" ry="2.2" fill="url(#gb)" fill-opacity="0.31"/>
<ellipse cx="697.27" cy="232.06" rx="1.4" ry="2.2" fill="url(#gb)" fill-opacity="0.27"/>
<ellipse cx="706.96" cy="235.05" rx="1.4" ry="2.2" fill="url(#gb)" fill-opacity="0.3"/>
<ellipse cx="728.81" cy="219.07" rx="1.4" ry="2.2" fill="url(#gb)" fill-opacity="0.24"/>
<ellipse cx="665.68" cy="232.55" rx="1.4" ry="2.2" fill="url(#gb)" fill-opacity="0.25"/>
<ellipse cx="721.03" cy="232.68" rx="1.4" ry="2.2" fill="url(#gb)" fill-opacity="0.23"/>
<ellipse cx="672.58" cy="221.92" rx="1.4" ry="2.2" fill="url(#gb)" fill-opacity="0.23"/>
<ellipse cx="596.18" cy="237.7" rx="1.4" ry="2.2" fill="url(#gb)" fill-opacity="0.24"/>
</g></g>
<clipPath id="cyz1"><rect x="562" y="277.8" width="233.1" height="63.3"/></clipPath>
<g clip-path="url(#cyz1)"><g filter="url(#cmG)">
<rect x="562" y="277.8" width="233.1" height="63.3" fill="#000"/>
<ellipse cx="588.5" cy="297.7" rx="1.48" ry="6.52" fill="url(#gb)" fill-opacity="0.72"/>
<ellipse cx="566" cy="306" rx="1.25" ry="7.97" fill="url(#gb)" fill-opacity="0.42"/>
<ellipse cx="566" cy="316" rx="1.25" ry="6.52" fill="url(#gb)" fill-opacity="0.52"/>
<ellipse cx="575.7" cy="307.8" rx="1.01" ry="5.08" fill="url(#gb)" fill-opacity="0.38"/>
<ellipse cx="606.1" cy="323" rx="1.17" ry="5.8" fill="url(#gb)" fill-opacity="0.58"/>
<ellipse cx="636.5" cy="306.4" rx="1.25" ry="7.25" fill="url(#gb)" fill-opacity="0.52"/>
<ellipse cx="644.6" cy="299.1" rx="1.25" ry="6.52" fill="url(#gb)" fill-opacity="0.62"/>
<ellipse cx="647.7" cy="299.1" rx="1.33" ry="6.52" fill="url(#gb)" fill-opacity="0.52"/>
<ellipse cx="647.5" cy="310" rx="1.01" ry="5.08" fill="url(#gb)" fill-opacity="0.42"/>
<ellipse cx="658.2" cy="310" rx="1.01" ry="5.8" fill="url(#gb)" fill-opacity="0.42"/>
<ellipse cx="673.8" cy="297" rx="1.48" ry="6.52" fill="url(#gb)" fill-opacity="0.76"/>
<ellipse cx="644.9" cy="322.3" rx="1.01" ry="4.35" fill="url(#gb)" fill-opacity="0.38"/>
<ellipse cx="642.7" cy="328" rx="1.01" ry="5.8" fill="url(#gb)" fill-opacity="0.4"/>
<ellipse cx="652.8" cy="310.7" rx="0.78" ry="4.35" fill="url(#gb)" fill-opacity="0.3"/>
<ellipse cx="647.5" cy="291" rx="0.78" ry="5.08" fill="url(#gb)" fill-opacity="0.32"/>
<ellipse cx="627.3" cy="329" rx="0.7" ry="2.9" fill="url(#gb)" fill-opacity="0.27"/>
<ellipse cx="704.7" cy="296.2" rx="1.17" ry="6.52" fill="url(#gb)" fill-opacity="0.52"/>
<ellipse cx="711.3" cy="302.7" rx="1.56" ry="6.52" fill="url(#gb)" fill-opacity="0.7"/>
<ellipse cx="711.3" cy="310" rx="1.56" ry="5.8" fill="url(#gb)" fill-opacity="0.62"/>
<ellipse cx="715.9" cy="296.2" rx="1.33" ry="6.52" fill="url(#gb)" fill-opacity="0.58"/>
<ellipse cx="711" cy="293.3" rx="1.01" ry="4.35" fill="url(#gb)" fill-opacity="0.38"/>
<ellipse cx="716.3" cy="317.9" rx="0.86" ry="5.08" fill="url(#gb)" fill-opacity="0.38"/>
<ellipse cx="700.8" cy="324.4" rx="1.01" ry="5.08" fill="url(#gb)" fill-opacity="0.42"/>
<ellipse cx="689.9" cy="330.9" rx="1.09" ry="5.8" fill="url(#gb)" fill-opacity="0.52"/>
<ellipse cx="745.7" cy="294.8" rx="0.94" ry="5.8" fill="url(#gb)" fill-opacity="0.4"/>
<ellipse cx="757.2" cy="293.3" rx="1.01" ry="5.08" fill="url(#gb)" fill-opacity="0.47"/>
<ellipse cx="738.7" cy="323" rx="1.09" ry="5.08" fill="url(#gb)" fill-opacity="0.54"/>
<ellipse cx="766.2" cy="325.2" rx="1.01" ry="9.42" fill="url(#gb)" fill-opacity="0.42"/>
<ellipse cx="784.3" cy="322.3" rx="1.01" ry="5.08" fill="url(#gb)" fill-opacity="0.4"/>
<ellipse cx="761.6" cy="315" rx="0.86" ry="4.35" fill="url(#gb)" fill-opacity="0.34"/>
<ellipse cx="704.5" cy="305" rx="0.78" ry="4.35" fill="url(#gb)" fill-opacity="0.32"/>
<ellipse cx="757.2" cy="284" rx="0.62" ry="3.62" fill="url(#gb)" fill-opacity="0.24"/>
<ellipse cx="762.5" cy="330" rx="0.78" ry="5.8" fill="url(#gb)" fill-opacity="0.32"/>
</g></g>
<clipPath id="cyz2"><rect x="562" y="343.6" width="233.1" height="63"/></clipPath>
<g clip-path="url(#cyz2)"><g filter="url(#cmG)">
<rect x="562" y="343.6" width="233.1" height="63" fill="#000"/>
<ellipse cx="567.1" cy="355.7" rx="1.25" ry="5.51" fill="url(#gb)" fill-opacity="0.52"/>
<ellipse cx="566.5" cy="368.7" rx="1.25" ry="5.08" fill="url(#gb)" fill-opacity="0.66"/>
<ellipse cx="567.5" cy="376" rx="1.33" ry="6.52" fill="url(#gb)" fill-opacity="0.58"/>
<ellipse cx="577.2" cy="373.1" rx="1.17" ry="6.52" fill="url(#gb)" fill-opacity="0.64"/>
<ellipse cx="589.9" cy="354.3" rx="1.09" ry="5.08" fill="url(#gb)" fill-opacity="0.42"/>
<ellipse cx="589.9" cy="365.1" rx="1.25" ry="5.22" fill="url(#gb)" fill-opacity="0.54"/>
<ellipse cx="607.3" cy="365" rx="0.86" ry="13.05" fill="url(#gb)" fill-opacity="0.47"/>
<ellipse cx="637.9" cy="369.5" rx="1.4" ry="7.25" fill="url(#gb)" fill-opacity="0.62"/>
<ellipse cx="646.3" cy="365.1" rx="2.03" ry="6.67" fill="url(#gb)" fill-opacity="0.92"/>
<ellipse cx="648.9" cy="365.9" rx="1.56" ry="6.09" fill="url(#gb)" fill-opacity="0.64"/>
<ellipse cx="648.9" cy="376" rx="1.25" ry="5.51" fill="url(#gb)" fill-opacity="0.44"/>
<ellipse cx="646.3" cy="355.7" rx="0.94" ry="3.19" fill="url(#gb)" fill-opacity="0.37"/>
<ellipse cx="659.7" cy="389" rx="1.25" ry="5.8" fill="url(#gb)" fill-opacity="0.68"/>
<ellipse cx="652.4" cy="398.4" rx="0.86" ry="4.35" fill="url(#gb)" fill-opacity="0.4"/>
<ellipse cx="628.2" cy="401.3" rx="0.86" ry="4.64" fill="url(#gb)" fill-opacity="0.4"/>
<ellipse cx="675.2" cy="365.9" rx="1.01" ry="5.51" fill="url(#gb)" fill-opacity="0.42"/>
<ellipse cx="675.2" cy="376" rx="1.25" ry="5.8" fill="url(#gb)" fill-opacity="0.64"/>
<ellipse cx="637.9" cy="378" rx="0.78" ry="4.64" fill="url(#gb)" fill-opacity="0.37"/>
<ellipse cx="706.6" cy="362.2" rx="0.86" ry="5.08" fill="url(#gb)" fill-opacity="0.38"/>
<ellipse cx="706.9" cy="378.1" rx="1.4" ry="6.52" fill="url(#gb)" fill-opacity="0.66"/>
<ellipse cx="713" cy="368.7" rx="1.33" ry="7.25" fill="url(#gb)" fill-opacity="0.64"/>
<ellipse cx="712.4" cy="379.6" rx="1.25" ry="5.8" fill="url(#gb)" fill-opacity="0.54"/>
<ellipse cx="716.7" cy="363.7" rx="1.25" ry="5.8" fill="url(#gb)" fill-opacity="0.54"/>
<ellipse cx="717.3" cy="378.1" rx="1.09" ry="6.09" fill="url(#gb)" fill-opacity="0.42"/>
<ellipse cx="713.4" cy="389.7" rx="1.4" ry="6.09" fill="url(#gb)" fill-opacity="0.58"/>
<ellipse cx="740.5" cy="389" rx="0.86" ry="4.35" fill="url(#gb)" fill-opacity="0.38"/>
<ellipse cx="785.7" cy="389" rx="1.17" ry="4.64" fill="url(#gb)" fill-opacity="0.52"/>
<ellipse cx="691.3" cy="401.3" rx="0.86" ry="4.35" fill="url(#gb)" fill-opacity="0.4"/>
<ellipse cx="748" cy="370" rx="0.62" ry="3.62" fill="url(#gb)" fill-opacity="0.24"/>
<ellipse cx="709.8" cy="386" rx="0.86" ry="5.08" fill="url(#gb)" fill-opacity="0.4"/>
</g></g>
<clipPath id="cyz3"><rect x="562" y="409" width="233.1" height="62.8"/></clipPath>
<g clip-path="url(#cyz3)"><g filter="url(#cmG)">
<rect x="562" y="409" width="233.1" height="62.8" fill="#000"/>
<ellipse cx="566.8" cy="437.6" rx="2.7" ry="29" fill="url(#gb)" fill-opacity="0.47"/>
<ellipse cx="576.9" cy="426.8" rx="2.25" ry="18" fill="url(#gb)" fill-opacity="0.43"/>
<ellipse cx="589.9" cy="433.3" rx="2.55" ry="24.5" fill="url(#gb)" fill-opacity="0.55"/>
<ellipse cx="608" cy="439.8" rx="3.6" ry="31.5" fill="url(#gb)" fill-opacity="0.45" transform="rotate(-12 608 439.8)"/>
<ellipse cx="611.5" cy="436" rx="3" ry="27" fill="url(#gb)" fill-opacity="0.47" transform="rotate(-13 611.5 436)"/>
<ellipse cx="611.6" cy="431.6" rx="3" ry="6" fill="url(#gb)" fill-opacity="0.9"/>
<ellipse cx="607.5" cy="424" rx="2.7" ry="8" fill="url(#gb)" fill-opacity="0.6"/>
<ellipse cx="612.3" cy="412.4" rx="2.1" ry="4" fill="url(#gb)" fill-opacity="0.55"/>
<ellipse cx="639" cy="429.7" rx="2.4" ry="21.5" fill="url(#gb)" fill-opacity="0.45" transform="rotate(-10 639 429.7)"/>
<ellipse cx="647.7" cy="439.8" rx="3" ry="31" fill="url(#gb)" fill-opacity="0.61"/>
<ellipse cx="649.5" cy="416" rx="2.25" ry="8" fill="url(#gb)" fill-opacity="0.75"/>
<ellipse cx="639.8" cy="464.8" rx="2.1" ry="5" fill="url(#gb)" fill-opacity="0.45"/>
<ellipse cx="668.7" cy="426.8" rx="3.3" ry="18" fill="url(#gb)" fill-opacity="0.6" transform="rotate(-12 668.7 426.8)"/>
<ellipse cx="669.4" cy="431.6" rx="3" ry="7" fill="url(#gb)" fill-opacity="0.77" transform="rotate(-12 669.4 431.6)"/>
<ellipse cx="659.3" cy="421" rx="2.25" ry="12.5" fill="url(#gb)" fill-opacity="0.45" transform="rotate(-10 659.3 421)"/>
<ellipse cx="675.9" cy="459" rx="2.7" ry="11.5" fill="url(#gb)" fill-opacity="0.6"/>
<ellipse cx="676.7" cy="411.6" rx="2.25" ry="3" fill="url(#gb)" fill-opacity="0.9"/>
<ellipse cx="618" cy="455" rx="2.25" ry="12" fill="url(#gb)" fill-opacity="0.4" transform="rotate(-8 618 455)"/>
<ellipse cx="680.2" cy="416.6" rx="2.55" ry="8" fill="url(#gb)" fill-opacity="0.67" transform="rotate(-15 680.2 416.6)"/>
<ellipse cx="685.2" cy="451.8" rx="2.7" ry="16" fill="url(#gb)" fill-opacity="0.45" transform="rotate(-14 685.2 451.8)"/>
<ellipse cx="692.5" cy="422.9" rx="2.55" ry="7.5" fill="url(#gb)" fill-opacity="0.57"/>
<ellipse cx="707.6" cy="439.8" rx="2.85" ry="31" fill="url(#gb)" fill-opacity="0.69"/>
<ellipse cx="714.1" cy="433.3" rx="2.4" ry="24.5" fill="url(#gb)" fill-opacity="0.45"/>
<ellipse cx="713.4" cy="447.5" rx="2.55" ry="7.5" fill="url(#gb)" fill-opacity="0.59"/>
<ellipse cx="718.8" cy="435.5" rx="2.7" ry="26.5" fill="url(#gb)" fill-opacity="0.65"/>
<ellipse cx="728.3" cy="412.4" rx="2.1" ry="3.5" fill="url(#gb)" fill-opacity="0.43"/>
<ellipse cx="727.9" cy="442.4" rx="2.25" ry="8" fill="url(#gb)" fill-opacity="0.43"/>
<ellipse cx="745.2" cy="431.6" rx="2.85" ry="13" fill="url(#gb)" fill-opacity="0.57"/>
<ellipse cx="748.8" cy="414.5" rx="2.1" ry="5.5" fill="url(#gb)" fill-opacity="0.43"/>
<ellipse cx="755.8" cy="425.1" rx="2.25" ry="6.5" fill="url(#gb)" fill-opacity="0.45"/>
<ellipse cx="761.9" cy="451.8" rx="2.85" ry="7.5" fill="url(#gb)" fill-opacity="0.59"/>
<ellipse cx="769.1" cy="443.1" rx="2.4" ry="10" fill="url(#gb)" fill-opacity="0.47"/>
<ellipse cx="780.6" cy="446.7" rx="2.85" ry="8" fill="url(#gb)" fill-opacity="0.53"/>
<ellipse cx="765.9" cy="412.4" rx="2.1" ry="3.5" fill="url(#gb)" fill-opacity="0.45"/>
<ellipse cx="600" cy="470" rx="1.8" ry="3" fill="url(#gb)" fill-opacity="0.45"/>
<ellipse cx="620" cy="413" rx="1.95" ry="4" fill="url(#gb)" fill-opacity="0.55"/>
<ellipse cx="603.5" cy="441" rx="2.1" ry="32" fill="url(#gb)" fill-opacity="0.41" transform="rotate(-13 603.5 441)"/>
<ellipse cx="616.5" cy="446" rx="1.95" ry="27" fill="url(#gb)" fill-opacity="0.39" transform="rotate(-12 616.5 446)"/>
<ellipse cx="690.5" cy="446" rx="1.95" ry="24" fill="url(#gb)" fill-opacity="0.43" transform="rotate(-14 690.5 446)"/>
<ellipse cx="676" cy="430" rx="1.8" ry="20" fill="url(#gb)" fill-opacity="0.38" transform="rotate(-12 676 430)"/>
<ellipse cx="596" cy="425" rx="1.8" ry="16" fill="url(#gb)" fill-opacity="0.35" transform="rotate(-10 596 425)"/>
</g></g>
<polyline points="349,245.2 353.5,240.4 365.8,234.9 378.1,228.8 390.4,224.7 405.5,220.6 424.6,217.2 443.8,215.8 456,215.1 469.8,214.6 485,216.5 499.9,220.6 520.4,227.4 536.8,234.3 551.9,244.5 559.5,250.5" fill="none" stroke="#c8c8c8" stroke-width="1.6" stroke-dasharray="4.6 2.8 1.3 2.8" stroke-linecap="butt"/>
<polyline points="363.5,277 368.5,275.3 389,267.1 409.6,261.6 430,257.5 456,255 479.4,256.1 499.9,260.2 520.4,267.1 539.6,273.9 545,276" fill="none" stroke="#c8c8c8" stroke-width="1.6" stroke-dasharray="4.6 2.8 1.3 2.8" stroke-linecap="butt"/>
<polyline points="562,255.2 563.2,253.6 582.7,242.1 604.4,234.1 626.1,226.9 647.7,221.1 669.4,216.8 681,214.6 694,213.2 706.9,213.4 725.7,216.1 742,219.5 759,224 776,230 792.2,238.5 795.1,240.5" fill="none" stroke="#c8c8c8" stroke-width="1.6" stroke-dasharray="4.6 2.8 1.3 2.8" stroke-linecap="butt"/>
<polyline points="596,276 600,274.6 618.8,268.1 640.5,261.6 662.2,258 681,256.6 695.3,255.4 721.4,257.3 750.3,263.8 782.1,274.6 785,276" fill="none" stroke="#c8c8c8" stroke-width="1.6" stroke-dasharray="4.6 2.8 1.3 2.8" stroke-linecap="butt"/>
<text x="505.2" y="220.2" font-family="'Liberation Serif','Times New Roman',serif" font-size="9.5" fill="#fff" font-weight="bold" font-style="italic">ℓ</text>
<text x="509.8" y="222.3" font-family="'Liberation Serif','Times New Roman',serif" font-size="6" fill="#fff" font-style="italic">s</text>
<text x="515.3" y="220.4" font-family="'Liberation Serif','Times New Roman',serif" font-size="9.6" font-weight="bold" fill="#fff" textLength="41" lengthAdjust="spacingAndGlyphs">= 279 <tspan font-style="italic">μm</tspan></text>
<line x1="502.9" y1="225" x2="502.9" y2="258.5" stroke="#fff" stroke-width="1.2"/>
<polygon points="502.9,222.3 500.6,226.6 505.2,226.6" fill="#fff"/>
<polygon points="502.9,261.2 500.6,256.9 505.2,256.9" fill="#fff"/>
<polyline points="370.6,216.9 352.8,216.9 352.8,229.4" fill="none" stroke="#fff" stroke-width="1.4"/>
<polygon points="373.6,216.9 368.6,214.3 368.6,219.5" fill="#fff"/>
<polygon points="352.8,232.4 350.2,227.4 355.4,227.4" fill="#fff"/>
<text x="376.6" y="219.6" font-family="'Liberation Serif','Times New Roman',serif" font-size="9" font-weight="normal" text-anchor="middle" fill="#fff" font-style="italic">x</text>
<text x="352.5" y="238.4" font-family="'Liberation Serif','Times New Roman',serif" font-size="8" font-weight="normal" text-anchor="middle" fill="#fff" font-style="italic">z</text>
<polyline points="586.3,217.3 568.3,217.3 568.3,230" fill="none" stroke="#fff" stroke-width="1.4"/>
<polygon points="589.3,217.3 584.3,214.7 584.3,219.9" fill="#fff"/>
<polygon points="568.3,233 565.7,228 570.9,228" fill="#fff"/>
<text x="592.6" y="219.8" font-family="'Liberation Sans',Arial,sans-serif" font-size="9.2" font-weight="normal" text-anchor="middle" fill="#fff" >y</text>
<text x="568.5" y="238.4" font-family="'Liberation Sans',Arial,sans-serif" font-size="7" font-weight="normal" text-anchor="middle" fill="#fff" >z</text>
<circle cx="606.1" cy="247.9" r="5.6" fill="none" stroke="#f0e000" stroke-width="1.2" stroke-dasharray="2.2 0.9"/>
<circle cx="606.1" cy="323.0" r="5.6" fill="none" stroke="#f0e000" stroke-width="1.2" stroke-dasharray="2.2 0.9"/>
<line x1="352.4" y1="287.2" x2="385.6" y2="287.2" stroke="#fff" stroke-width="1.1"/>
<polygon points="349.4,287.2 353.9,284.9 353.9,289.5" fill="#fff"/>
<polygon points="388.6,287.2 384.1,284.9 384.1,289.5" fill="#fff"/>
<text x="369.9" y="285.6" font-family="'Liberation Sans',Arial,sans-serif" font-size="7" font-weight="normal" text-anchor="middle" fill="#fff" >RF</text>
<line x1="565.4" y1="286.4" x2="599.2" y2="286.4" stroke="#fff" stroke-width="1.1"/>
<polygon points="562.4,286.4 566.9,284.1 566.9,288.7" fill="#fff"/>
<polygon points="602.2,286.4 597.7,284.1 597.7,288.7" fill="#fff"/>
<text x="583.4" y="284.6" font-family="'Liberation Sans',Arial,sans-serif" font-size="7" font-weight="normal" text-anchor="middle" fill="#fff" >RF</text>
<polygon points="454.7,239.7 453.27,247.19 448.93,244.69" fill="#fff"/>
<text x="448.6" y="251.8" font-family="'Liberation Sans',Arial,sans-serif" font-size="7.8" font-weight="bold" text-anchor="middle" fill="#fff" >2</text>
<polygon points="451.6,256.1 454.1,263.3 449.1,263.3" fill="#fff"/>
<text x="451.4" y="271.2" font-family="'Liberation Sans',Arial,sans-serif" font-size="7.8" font-weight="bold" text-anchor="middle" fill="#fff" >3</text>
<polygon points="466.4,223.2 458.8,223.75 460.09,218.92" fill="#fff"/>
<text x="458.8" y="229.5" font-family="'Liberation Sans',Arial,sans-serif" font-size="7.8" font-weight="bold" text-anchor="middle" fill="#fff" >1</text>
<polygon points="474.6,224.7 482.22,224.81 480.51,229.51" fill="#fff"/>
<text x="483.6" y="230.2" font-family="'Liberation Sans',Arial,sans-serif" font-size="7.8" font-weight="bold" text-anchor="middle" fill="#fff" >5</text>
<polygon points="464.3,248 471.92,248.11 470.21,252.81" fill="#fff"/>
<text x="474" y="255" font-family="'Liberation Sans',Arial,sans-serif" font-size="7.8" font-weight="bold" text-anchor="middle" fill="#fff" >4</text>
<polygon points="457.5,293.8 452.69,287.89 457.39,286.18" fill="#fff"/>
<text x="454.7" y="288.2" font-family="'Liberation Sans',Arial,sans-serif" font-size="7.8" font-weight="bold" text-anchor="middle" fill="#fff" >2</text>
<polygon points="473.2,291 470.7,283.8 475.7,283.8" fill="#fff"/>
<text x="472.8" y="284.2" font-family="'Liberation Sans',Arial,sans-serif" font-size="7.8" font-weight="bold" text-anchor="middle" fill="#fff" >1</text>
<polygon points="476.6,299.9 478.03,292.41 482.37,294.91" fill="#fff"/>
<text x="482.4" y="295.6" font-family="'Liberation Sans',Arial,sans-serif" font-size="7.8" font-weight="bold" text-anchor="middle" fill="#fff" >5</text>
<polygon points="467,326.9 474.58,327.68 472.47,332.21" fill="#fff"/>
<text x="474.6" y="334.2" font-family="'Liberation Sans',Arial,sans-serif" font-size="7.8" font-weight="bold" text-anchor="middle" fill="#fff" >4</text>
<polygon points="453.3,332.8 446.1,335.3 446.1,330.3" fill="#fff"/>
<text x="444.4" y="336.5" font-family="'Liberation Sans',Arial,sans-serif" font-size="7.8" font-weight="bold" text-anchor="middle" fill="#fff" >3</text>
<polygon points="454,386.5 447.34,390.21 446.48,385.29" fill="#fff"/>
<text x="444.4" y="391.6" font-family="'Liberation Sans',Arial,sans-serif" font-size="7.8" font-weight="bold" text-anchor="middle" fill="#fff" >2</text>
<polygon points="450.3,401.1 443.1,403.6 443.1,398.6" fill="#fff"/>
<text x="440.3" y="404.4" font-family="'Liberation Sans',Arial,sans-serif" font-size="7.8" font-weight="bold" text-anchor="middle" fill="#fff" >3</text>
<polygon points="471.8,376.2 473.88,368.87 477.98,371.74" fill="#fff"/>
<text x="475.5" y="370.5" font-family="'Liberation Sans',Arial,sans-serif" font-size="7.8" font-weight="bold" text-anchor="middle" fill="#fff" >1</text>
<polygon points="449.2,422.7 443.29,427.51 441.58,422.81" fill="#fff"/>
<text x="440.3" y="430" font-family="'Liberation Sans',Arial,sans-serif" font-size="7.8" font-weight="bold" text-anchor="middle" fill="#fff" >3</text>
<polygon points="471.8,420 479.32,418.79 478.46,423.71" fill="#fff"/>
<text x="480.3" y="426.2" font-family="'Liberation Sans',Arial,sans-serif" font-size="7.8" font-weight="bold" text-anchor="middle" fill="#fff" >1</text>
<polygon points="456.8,429.6 459.3,436.8 454.3,436.8" fill="#fff"/>
<text x="456.4" y="444.2" font-family="'Liberation Sans',Arial,sans-serif" font-size="7.8" font-weight="bold" text-anchor="middle" fill="#fff" >2</text>
<polygon points="695.3,221.8 688.1,224.3 688.1,219.3" fill="#fff"/>
<text x="685.4" y="225.3" font-family="'Liberation Sans',Arial,sans-serif" font-size="7.8" font-weight="bold" text-anchor="middle" fill="#fff" >1</text>
<polygon points="706.2,220.4 707.63,212.91 711.97,215.41" fill="#fff"/>
<text x="713.4" y="220.6" font-family="'Liberation Sans',Arial,sans-serif" font-size="7.8" font-weight="bold" text-anchor="middle" fill="#fff" >5</text>
<polygon points="709.1,235.9 716.3,233.4 716.3,238.4" fill="#fff"/>
<text x="718.6" y="239.2" font-family="'Liberation Sans',Arial,sans-serif" font-size="7.8" font-weight="bold" text-anchor="middle" fill="#fff" >2</text>
<polygon points="684.3,255.4 679.84,261.58 676.97,257.48" fill="#fff"/>
<text x="676.3" y="261.5" font-family="'Liberation Sans',Arial,sans-serif" font-size="7.8" font-weight="bold" text-anchor="middle" fill="#fff" >3</text>
<polygon points="698.1,249 704.96,252.32 701.42,255.86" fill="#fff"/>
<text x="705" y="257.3" font-family="'Liberation Sans',Arial,sans-serif" font-size="7.8" font-weight="bold" text-anchor="middle" fill="#fff" >4</text>
<polygon points="704,296.2 696.8,298.7 696.8,293.7" fill="#fff"/>
<text x="693.9" y="300.3" font-family="'Liberation Sans',Arial,sans-serif" font-size="7.8" font-weight="bold" text-anchor="middle" fill="#fff" >1</text>
<polygon points="711.5,294.8 711.61,287.18 716.31,288.89" fill="#fff"/>
<text x="715.3" y="290.2" font-family="'Liberation Sans',Arial,sans-serif" font-size="7.8" font-weight="bold" text-anchor="middle" fill="#fff" >5</text>
<polygon points="715.3,309.5 722.5,307 722.5,312" fill="#fff"/>
<text x="725.2" y="313.3" font-family="'Liberation Sans',Arial,sans-serif" font-size="7.8" font-weight="bold" text-anchor="middle" fill="#fff" >2</text>
<polygon points="704,325.9 710.54,329.81 706.71,333.02" fill="#fff"/>
<text x="709.6" y="336.4" font-family="'Liberation Sans',Arial,sans-serif" font-size="7.8" font-weight="bold" text-anchor="middle" fill="#fff" >4</text>
<polygon points="688.8,333.8 682.89,338.61 681.18,333.91" fill="#fff"/>
<text x="679.3" y="339.8" font-family="'Liberation Sans',Arial,sans-serif" font-size="7.8" font-weight="bold" text-anchor="middle" fill="#fff" >3</text>
<polygon points="705.5,375.3 699.32,370.84 703.42,367.97" fill="#fff"/>
<text x="698.5" y="371.2" font-family="'Liberation Sans',Arial,sans-serif" font-size="7.8" font-weight="bold" text-anchor="middle" fill="#fff" >1</text>
<polygon points="710.1,387.5 704.19,392.31 702.48,387.61" fill="#fff"/>
<text x="701.1" y="393.6" font-family="'Liberation Sans',Arial,sans-serif" font-size="7.8" font-weight="bold" text-anchor="middle" fill="#fff" >2</text>
<polygon points="690.3,401.6 683.1,404.1 683.1,399.1" fill="#fff"/>
<text x="681.6" y="404.6" font-family="'Liberation Sans',Arial,sans-serif" font-size="7.8" font-weight="bold" text-anchor="middle" fill="#fff" >3</text>
<polygon points="704.7,421.5 697.5,424 697.5,419" fill="#fff"/>
<text x="696.1" y="425.4" font-family="'Liberation Sans',Arial,sans-serif" font-size="7.8" font-weight="bold" text-anchor="middle" fill="#fff" >1</text>
<polygon points="710.5,426.5 713,433.7 708,433.7" fill="#fff"/>
<text x="710.5" y="440.6" font-family="'Liberation Sans',Arial,sans-serif" font-size="7.8" font-weight="bold" text-anchor="middle" fill="#fff" >2</text>
<polygon points="689.9,424.1 684.91,429.87 682.41,425.53" fill="#fff"/>
<text x="681.6" y="431.6" font-family="'Liberation Sans',Arial,sans-serif" font-size="7.8" font-weight="bold" text-anchor="middle" fill="#fff" >3</text>
</svg></body></html>
